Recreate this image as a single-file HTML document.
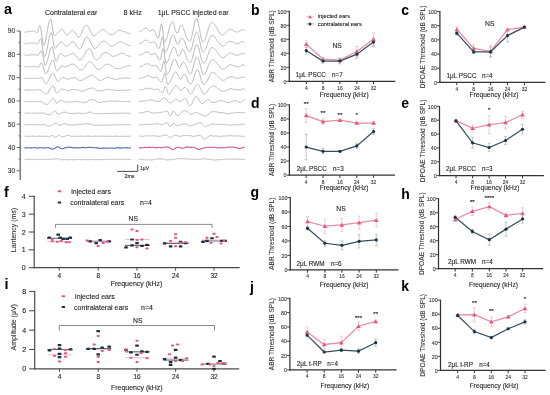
<!DOCTYPE html>
<html><head><meta charset="utf-8"><style>
html,body{margin:0;padding:0;background:#fff;width:550px;height:395px;overflow:hidden}
svg{display:block;filter:blur(0.3px);font-family:"Liberation Sans",sans-serif}
</style></head><body>
<svg width="550" height="395" viewBox="0 0 550 395">
<rect width="550" height="395" fill="#fff"/>
<text x="4.00" y="13.80" font-size="14.3" text-anchor="start" font-weight="bold" fill="#000">a</text>
<text x="251.00" y="14.50" font-size="14" text-anchor="start" font-weight="bold" fill="#000">b</text>
<text x="401.30" y="14.50" font-size="14" text-anchor="start" font-weight="bold" fill="#000">c</text>
<text x="251.00" y="107.80" font-size="14" text-anchor="start" font-weight="bold" fill="#000">d</text>
<text x="401.30" y="108.00" font-size="14" text-anchor="start" font-weight="bold" fill="#000">e</text>
<text x="4.00" y="196.50" font-size="14.3" text-anchor="start" font-weight="bold" fill="#000">f</text>
<text x="250.60" y="196.50" font-size="14" text-anchor="start" font-weight="bold" fill="#000">g</text>
<text x="401.30" y="199.00" font-size="14" text-anchor="start" font-weight="bold" fill="#000">h</text>
<text x="4.40" y="288.70" font-size="14.5" text-anchor="start" font-weight="bold" fill="#000">i</text>
<text x="250.00" y="291.50" font-size="14" text-anchor="start" font-weight="bold" fill="#000">j</text>
<text x="401.30" y="291.20" font-size="14" text-anchor="start" font-weight="bold" fill="#000">k</text>
<line x1="289.30" y1="10.80" x2="289.30" y2="81.90" stroke="#333" stroke-width="1.25"/>
<line x1="288.70" y1="81.30" x2="395.30" y2="81.30" stroke="#333" stroke-width="1.25"/>
<line x1="286.30" y1="81.30" x2="289.30" y2="81.30" stroke="#333" stroke-width="0.9"/>
<text x="286.40" y="83.50" font-size="5.3" text-anchor="end" font-weight="normal" fill="#333" stroke="#333" stroke-width="0.1">0</text>
<line x1="286.30" y1="67.30" x2="289.30" y2="67.30" stroke="#333" stroke-width="0.9"/>
<text x="286.40" y="69.50" font-size="5.3" text-anchor="end" font-weight="normal" fill="#333" stroke="#333" stroke-width="0.1">20</text>
<line x1="286.30" y1="53.30" x2="289.30" y2="53.30" stroke="#333" stroke-width="0.9"/>
<text x="286.40" y="55.50" font-size="5.3" text-anchor="end" font-weight="normal" fill="#333" stroke="#333" stroke-width="0.1">40</text>
<line x1="286.30" y1="39.30" x2="289.30" y2="39.30" stroke="#333" stroke-width="0.9"/>
<text x="286.40" y="41.50" font-size="5.3" text-anchor="end" font-weight="normal" fill="#333" stroke="#333" stroke-width="0.1">60</text>
<line x1="286.30" y1="25.30" x2="289.30" y2="25.30" stroke="#333" stroke-width="0.9"/>
<text x="286.40" y="27.50" font-size="5.3" text-anchor="end" font-weight="normal" fill="#333" stroke="#333" stroke-width="0.1">80</text>
<line x1="286.30" y1="11.30" x2="289.30" y2="11.30" stroke="#333" stroke-width="0.9"/>
<text x="286.40" y="13.50" font-size="5.3" text-anchor="end" font-weight="normal" fill="#333" stroke="#333" stroke-width="0.1">100</text>
<line x1="306.30" y1="81.30" x2="306.30" y2="84.10" stroke="#333" stroke-width="1.0"/>
<text x="306.30" y="89.80" font-size="4.9" text-anchor="middle" font-weight="normal" fill="#333" stroke="#333" stroke-width="0.1">4</text>
<line x1="323.00" y1="81.30" x2="323.00" y2="84.10" stroke="#333" stroke-width="1.0"/>
<text x="323.00" y="89.80" font-size="4.9" text-anchor="middle" font-weight="normal" fill="#333" stroke="#333" stroke-width="0.1">8</text>
<line x1="339.90" y1="81.30" x2="339.90" y2="84.10" stroke="#333" stroke-width="1.0"/>
<text x="339.90" y="89.80" font-size="4.9" text-anchor="middle" font-weight="normal" fill="#333" stroke="#333" stroke-width="0.1">16</text>
<line x1="356.90" y1="81.30" x2="356.90" y2="84.10" stroke="#333" stroke-width="1.0"/>
<text x="356.90" y="89.80" font-size="4.9" text-anchor="middle" font-weight="normal" fill="#333" stroke="#333" stroke-width="0.1">24</text>
<line x1="373.50" y1="81.30" x2="373.50" y2="84.10" stroke="#333" stroke-width="1.0"/>
<text x="373.50" y="89.80" font-size="4.9" text-anchor="middle" font-weight="normal" fill="#333" stroke="#333" stroke-width="0.1">32</text>
<text x="0.00" y="0.00" font-size="6.5" text-anchor="middle" font-weight="normal" fill="#333" stroke="#333" stroke-width="0.1" transform="translate(274.00,46.30) rotate(-90)">ABR Threshold (dB SPL)</text>
<line x1="306.30" y1="40.70" x2="306.30" y2="47.70" stroke="#efb3c1" stroke-width="0.7"/>
<line x1="304.80" y1="40.70" x2="307.80" y2="40.70" stroke="#efb3c1" stroke-width="0.7"/>
<line x1="304.80" y1="47.70" x2="307.80" y2="47.70" stroke="#efb3c1" stroke-width="0.7"/>
<line x1="323.00" y1="57.01" x2="323.00" y2="61.21" stroke="#efb3c1" stroke-width="0.7"/>
<line x1="321.50" y1="57.01" x2="324.50" y2="57.01" stroke="#efb3c1" stroke-width="0.7"/>
<line x1="321.50" y1="61.21" x2="324.50" y2="61.21" stroke="#efb3c1" stroke-width="0.7"/>
<line x1="339.90" y1="58.06" x2="339.90" y2="62.26" stroke="#efb3c1" stroke-width="0.7"/>
<line x1="338.40" y1="58.06" x2="341.40" y2="58.06" stroke="#efb3c1" stroke-width="0.7"/>
<line x1="338.40" y1="62.26" x2="341.40" y2="62.26" stroke="#efb3c1" stroke-width="0.7"/>
<line x1="356.90" y1="46.58" x2="356.90" y2="56.38" stroke="#efb3c1" stroke-width="0.7"/>
<line x1="355.40" y1="46.58" x2="358.40" y2="46.58" stroke="#efb3c1" stroke-width="0.7"/>
<line x1="355.40" y1="56.38" x2="358.40" y2="56.38" stroke="#efb3c1" stroke-width="0.7"/>
<line x1="373.50" y1="33.00" x2="373.50" y2="45.60" stroke="#efb3c1" stroke-width="0.7"/>
<line x1="372.00" y1="33.00" x2="375.00" y2="33.00" stroke="#efb3c1" stroke-width="0.7"/>
<line x1="372.00" y1="45.60" x2="375.00" y2="45.60" stroke="#efb3c1" stroke-width="0.7"/>
<path d="M306.30,44.20 L323.00,59.11 L339.90,60.16 L356.90,51.48 L373.50,39.30" stroke="#ea8ba4" stroke-width="1.25" fill="none"/>
<path d="M306.30,42.00L308.61,45.96L303.99,45.96Z" fill="#e55879"/>
<path d="M323.00,56.91L325.31,60.87L320.69,60.87Z" fill="#e55879"/>
<path d="M339.90,57.96L342.21,61.92L337.59,61.92Z" fill="#e55879"/>
<path d="M356.90,49.28L359.21,53.24L354.59,53.24Z" fill="#e55879"/>
<path d="M373.50,37.10L375.81,41.06L371.19,41.06Z" fill="#e55879"/>
<line x1="306.30" y1="47.21" x2="306.30" y2="54.21" stroke="#a3b2ba" stroke-width="0.7"/>
<line x1="304.80" y1="47.21" x2="307.80" y2="47.21" stroke="#a3b2ba" stroke-width="0.7"/>
<line x1="304.80" y1="54.21" x2="307.80" y2="54.21" stroke="#a3b2ba" stroke-width="0.7"/>
<line x1="323.00" y1="58.90" x2="323.00" y2="63.10" stroke="#a3b2ba" stroke-width="0.7"/>
<line x1="321.50" y1="58.90" x2="324.50" y2="58.90" stroke="#a3b2ba" stroke-width="0.7"/>
<line x1="321.50" y1="63.10" x2="324.50" y2="63.10" stroke="#a3b2ba" stroke-width="0.7"/>
<line x1="339.90" y1="58.20" x2="339.90" y2="63.80" stroke="#a3b2ba" stroke-width="0.7"/>
<line x1="338.40" y1="58.20" x2="341.40" y2="58.20" stroke="#a3b2ba" stroke-width="0.7"/>
<line x1="338.40" y1="63.80" x2="341.40" y2="63.80" stroke="#a3b2ba" stroke-width="0.7"/>
<line x1="356.90" y1="49.94" x2="356.90" y2="58.34" stroke="#a3b2ba" stroke-width="0.7"/>
<line x1="355.40" y1="49.94" x2="358.40" y2="49.94" stroke="#a3b2ba" stroke-width="0.7"/>
<line x1="355.40" y1="58.34" x2="358.40" y2="58.34" stroke="#a3b2ba" stroke-width="0.7"/>
<line x1="373.50" y1="37.90" x2="373.50" y2="46.30" stroke="#a3b2ba" stroke-width="0.7"/>
<line x1="372.00" y1="37.90" x2="375.00" y2="37.90" stroke="#a3b2ba" stroke-width="0.7"/>
<line x1="372.00" y1="46.30" x2="375.00" y2="46.30" stroke="#a3b2ba" stroke-width="0.7"/>
<path d="M306.30,50.71 L323.00,61.00 L339.90,61.00 L356.90,54.14 L373.50,42.10" stroke="#34505e" stroke-width="1.25" fill="none"/>
<circle cx="306.30" cy="50.71" r="1.6" fill="#1d3240"/>
<circle cx="323.00" cy="61.00" r="1.6" fill="#1d3240"/>
<circle cx="339.90" cy="61.00" r="1.6" fill="#1d3240"/>
<circle cx="356.90" cy="54.14" r="1.6" fill="#1d3240"/>
<circle cx="373.50" cy="42.10" r="1.6" fill="#1d3240"/>
<text x="295.80" y="77.30" font-size="6.4" text-anchor="start" font-weight="normal" fill="#222" stroke="#222" stroke-width="0.1">1μL PSCC</text>
<text x="332.00" y="77.30" font-size="6.3" text-anchor="start" font-weight="normal" fill="#222" stroke="#222" stroke-width="0.1">n=7</text>
<text x="332.40" y="48.00" font-size="6.8" text-anchor="start" font-weight="normal" fill="#222" stroke="#222" stroke-width="0.1">NS</text>
<text x="344.20" y="96.60" font-size="6.6" text-anchor="middle" font-weight="normal" fill="#222" stroke="#222" stroke-width="0.1" textLength="48.8" lengthAdjust="spacingAndGlyphs">Frequency (kHz)</text>
<line x1="306.00" y1="16.70" x2="314.00" y2="16.70" stroke="#efb3c1" stroke-width="0.9"/>
<path d="M310.00,14.90L311.89,18.14L308.11,18.14Z" fill="#e55879"/>
<line x1="306.00" y1="23.90" x2="314.00" y2="23.90" stroke="#a3b2ba" stroke-width="0.9"/>
<circle cx="310.00" cy="23.90" r="1.5" fill="#1d3240"/>
<text x="317.80" y="18.20" font-size="5.7" text-anchor="start" font-weight="normal" fill="#222" stroke="#222" stroke-width="0.1">injected ears</text>
<text x="317.80" y="25.80" font-size="5.7" text-anchor="start" font-weight="normal" fill="#222" stroke="#222" stroke-width="0.1">contralateral ears</text>
<line x1="439.90" y1="11.00" x2="439.90" y2="83.00" stroke="#333" stroke-width="1.25"/>
<line x1="439.30" y1="82.40" x2="545.30" y2="82.40" stroke="#333" stroke-width="1.25"/>
<line x1="436.90" y1="82.40" x2="439.90" y2="82.40" stroke="#333" stroke-width="0.9"/>
<text x="437.00" y="84.60" font-size="5.3" text-anchor="end" font-weight="normal" fill="#333" stroke="#333" stroke-width="0.1">0</text>
<line x1="436.90" y1="68.22" x2="439.90" y2="68.22" stroke="#333" stroke-width="0.9"/>
<text x="437.00" y="70.42" font-size="5.3" text-anchor="end" font-weight="normal" fill="#333" stroke="#333" stroke-width="0.1">20</text>
<line x1="436.90" y1="54.04" x2="439.90" y2="54.04" stroke="#333" stroke-width="0.9"/>
<text x="437.00" y="56.24" font-size="5.3" text-anchor="end" font-weight="normal" fill="#333" stroke="#333" stroke-width="0.1">40</text>
<line x1="436.90" y1="39.86" x2="439.90" y2="39.86" stroke="#333" stroke-width="0.9"/>
<text x="437.00" y="42.06" font-size="5.3" text-anchor="end" font-weight="normal" fill="#333" stroke="#333" stroke-width="0.1">60</text>
<line x1="436.90" y1="25.68" x2="439.90" y2="25.68" stroke="#333" stroke-width="0.9"/>
<text x="437.00" y="27.88" font-size="5.3" text-anchor="end" font-weight="normal" fill="#333" stroke="#333" stroke-width="0.1">80</text>
<line x1="436.90" y1="11.50" x2="439.90" y2="11.50" stroke="#333" stroke-width="0.9"/>
<text x="437.00" y="13.70" font-size="5.3" text-anchor="end" font-weight="normal" fill="#333" stroke="#333" stroke-width="0.1">100</text>
<line x1="456.80" y1="82.40" x2="456.80" y2="85.20" stroke="#333" stroke-width="1.0"/>
<text x="456.80" y="90.90" font-size="4.9" text-anchor="middle" font-weight="normal" fill="#333" stroke="#333" stroke-width="0.1">4</text>
<line x1="473.70" y1="82.40" x2="473.70" y2="85.20" stroke="#333" stroke-width="1.0"/>
<text x="473.70" y="90.90" font-size="4.9" text-anchor="middle" font-weight="normal" fill="#333" stroke="#333" stroke-width="0.1">8</text>
<line x1="490.60" y1="82.40" x2="490.60" y2="85.20" stroke="#333" stroke-width="1.0"/>
<text x="490.60" y="90.90" font-size="4.9" text-anchor="middle" font-weight="normal" fill="#333" stroke="#333" stroke-width="0.1">16</text>
<line x1="507.50" y1="82.40" x2="507.50" y2="85.20" stroke="#333" stroke-width="1.0"/>
<text x="507.50" y="90.90" font-size="4.9" text-anchor="middle" font-weight="normal" fill="#333" stroke="#333" stroke-width="0.1">24</text>
<line x1="524.40" y1="82.40" x2="524.40" y2="85.20" stroke="#333" stroke-width="1.0"/>
<text x="524.40" y="90.90" font-size="4.9" text-anchor="middle" font-weight="normal" fill="#333" stroke="#333" stroke-width="0.1">32</text>
<text x="0.00" y="0.00" font-size="6.6" text-anchor="middle" font-weight="normal" fill="#333" stroke="#333" stroke-width="0.1" transform="translate(424.60,46.95) rotate(-90)">DPOAE Threshold (dB SPL)</text>
<line x1="456.80" y1="26.60" x2="456.80" y2="32.27" stroke="#efb3c1" stroke-width="0.7"/>
<line x1="455.30" y1="26.60" x2="458.30" y2="26.60" stroke="#efb3c1" stroke-width="0.7"/>
<line x1="455.30" y1="32.27" x2="458.30" y2="32.27" stroke="#efb3c1" stroke-width="0.7"/>
<line x1="473.70" y1="44.82" x2="473.70" y2="51.91" stroke="#efb3c1" stroke-width="0.7"/>
<line x1="472.20" y1="44.82" x2="475.20" y2="44.82" stroke="#efb3c1" stroke-width="0.7"/>
<line x1="472.20" y1="51.91" x2="475.20" y2="51.91" stroke="#efb3c1" stroke-width="0.7"/>
<line x1="490.60" y1="45.67" x2="490.60" y2="57.02" stroke="#efb3c1" stroke-width="0.7"/>
<line x1="489.10" y1="45.67" x2="492.10" y2="45.67" stroke="#efb3c1" stroke-width="0.7"/>
<line x1="489.10" y1="57.02" x2="492.10" y2="57.02" stroke="#efb3c1" stroke-width="0.7"/>
<line x1="507.50" y1="28.16" x2="507.50" y2="31.00" stroke="#efb3c1" stroke-width="0.7"/>
<line x1="506.00" y1="28.16" x2="509.00" y2="28.16" stroke="#efb3c1" stroke-width="0.7"/>
<line x1="506.00" y1="31.00" x2="509.00" y2="31.00" stroke="#efb3c1" stroke-width="0.7"/>
<line x1="524.40" y1="26.39" x2="524.40" y2="27.81" stroke="#efb3c1" stroke-width="0.7"/>
<line x1="522.90" y1="26.39" x2="525.90" y2="26.39" stroke="#efb3c1" stroke-width="0.7"/>
<line x1="522.90" y1="27.81" x2="525.90" y2="27.81" stroke="#efb3c1" stroke-width="0.7"/>
<path d="M456.80,29.44 L473.70,48.37 L490.60,51.35 L507.50,29.58 L524.40,27.10" stroke="#ea8ba4" stroke-width="1.25" fill="none"/>
<path d="M456.80,27.24L459.11,31.20L454.49,31.20Z" fill="#e55879"/>
<path d="M473.70,46.17L476.01,50.13L471.39,50.13Z" fill="#e55879"/>
<path d="M490.60,49.15L492.91,53.11L488.29,53.11Z" fill="#e55879"/>
<path d="M507.50,27.38L509.81,31.34L505.19,31.34Z" fill="#e55879"/>
<path d="M524.40,24.90L526.71,28.86L522.09,28.86Z" fill="#e55879"/>
<line x1="456.80" y1="31.07" x2="456.80" y2="35.32" stroke="#a3b2ba" stroke-width="0.7"/>
<line x1="455.30" y1="31.07" x2="458.30" y2="31.07" stroke="#a3b2ba" stroke-width="0.7"/>
<line x1="455.30" y1="35.32" x2="458.30" y2="35.32" stroke="#a3b2ba" stroke-width="0.7"/>
<line x1="473.70" y1="50.50" x2="473.70" y2="53.33" stroke="#a3b2ba" stroke-width="0.7"/>
<line x1="472.20" y1="50.50" x2="475.20" y2="50.50" stroke="#a3b2ba" stroke-width="0.7"/>
<line x1="472.20" y1="53.33" x2="475.20" y2="53.33" stroke="#a3b2ba" stroke-width="0.7"/>
<line x1="490.60" y1="46.95" x2="490.60" y2="56.88" stroke="#a3b2ba" stroke-width="0.7"/>
<line x1="489.10" y1="46.95" x2="492.10" y2="46.95" stroke="#a3b2ba" stroke-width="0.7"/>
<line x1="489.10" y1="56.88" x2="492.10" y2="56.88" stroke="#a3b2ba" stroke-width="0.7"/>
<line x1="507.50" y1="29.23" x2="507.50" y2="41.99" stroke="#a3b2ba" stroke-width="0.7"/>
<line x1="506.00" y1="29.23" x2="509.00" y2="29.23" stroke="#a3b2ba" stroke-width="0.7"/>
<line x1="506.00" y1="41.99" x2="509.00" y2="41.99" stroke="#a3b2ba" stroke-width="0.7"/>
<line x1="524.40" y1="26.39" x2="524.40" y2="27.81" stroke="#a3b2ba" stroke-width="0.7"/>
<line x1="522.90" y1="26.39" x2="525.90" y2="26.39" stroke="#a3b2ba" stroke-width="0.7"/>
<line x1="522.90" y1="27.81" x2="525.90" y2="27.81" stroke="#a3b2ba" stroke-width="0.7"/>
<path d="M456.80,33.20 L473.70,51.91 L490.60,51.91 L507.50,35.61 L524.40,27.10" stroke="#34505e" stroke-width="1.25" fill="none"/>
<circle cx="456.80" cy="33.20" r="1.6" fill="#1d3240"/>
<circle cx="473.70" cy="51.91" r="1.6" fill="#1d3240"/>
<circle cx="490.60" cy="51.91" r="1.6" fill="#1d3240"/>
<circle cx="507.50" cy="35.61" r="1.6" fill="#1d3240"/>
<circle cx="524.40" cy="27.10" r="1.6" fill="#1d3240"/>
<text x="446.50" y="77.50" font-size="6.4" text-anchor="start" font-weight="normal" fill="#222" stroke="#222" stroke-width="0.1">1μL PSCC</text>
<text x="481.90" y="77.50" font-size="6.3" text-anchor="start" font-weight="normal" fill="#222" stroke="#222" stroke-width="0.1">n=4</text>
<text x="485.00" y="26.40" font-size="6.8" text-anchor="start" font-weight="normal" fill="#222" stroke="#222" stroke-width="0.1">NS</text>
<text x="494.00" y="96.60" font-size="6.6" text-anchor="middle" font-weight="normal" fill="#222" stroke="#222" stroke-width="0.1" textLength="48.8" lengthAdjust="spacingAndGlyphs">Frequency (kHz)</text>
<line x1="289.40" y1="104.40" x2="289.40" y2="175.70" stroke="#333" stroke-width="1.25"/>
<line x1="288.80" y1="175.10" x2="395.00" y2="175.10" stroke="#333" stroke-width="1.25"/>
<line x1="286.40" y1="175.10" x2="289.40" y2="175.10" stroke="#333" stroke-width="0.9"/>
<text x="286.50" y="177.30" font-size="5.3" text-anchor="end" font-weight="normal" fill="#333" stroke="#333" stroke-width="0.1">0</text>
<line x1="286.40" y1="161.06" x2="289.40" y2="161.06" stroke="#333" stroke-width="0.9"/>
<text x="286.50" y="163.26" font-size="5.3" text-anchor="end" font-weight="normal" fill="#333" stroke="#333" stroke-width="0.1">20</text>
<line x1="286.40" y1="147.02" x2="289.40" y2="147.02" stroke="#333" stroke-width="0.9"/>
<text x="286.50" y="149.22" font-size="5.3" text-anchor="end" font-weight="normal" fill="#333" stroke="#333" stroke-width="0.1">40</text>
<line x1="286.40" y1="132.98" x2="289.40" y2="132.98" stroke="#333" stroke-width="0.9"/>
<text x="286.50" y="135.18" font-size="5.3" text-anchor="end" font-weight="normal" fill="#333" stroke="#333" stroke-width="0.1">60</text>
<line x1="286.40" y1="118.94" x2="289.40" y2="118.94" stroke="#333" stroke-width="0.9"/>
<text x="286.50" y="121.14" font-size="5.3" text-anchor="end" font-weight="normal" fill="#333" stroke="#333" stroke-width="0.1">80</text>
<line x1="286.40" y1="104.90" x2="289.40" y2="104.90" stroke="#333" stroke-width="0.9"/>
<text x="286.50" y="107.10" font-size="5.3" text-anchor="end" font-weight="normal" fill="#333" stroke="#333" stroke-width="0.1">100</text>
<line x1="306.20" y1="175.10" x2="306.20" y2="177.90" stroke="#333" stroke-width="1.0"/>
<text x="306.20" y="183.60" font-size="4.9" text-anchor="middle" font-weight="normal" fill="#333" stroke="#333" stroke-width="0.1">4</text>
<line x1="323.00" y1="175.10" x2="323.00" y2="177.90" stroke="#333" stroke-width="1.0"/>
<text x="323.00" y="183.60" font-size="4.9" text-anchor="middle" font-weight="normal" fill="#333" stroke="#333" stroke-width="0.1">8</text>
<line x1="339.90" y1="175.10" x2="339.90" y2="177.90" stroke="#333" stroke-width="1.0"/>
<text x="339.90" y="183.60" font-size="4.9" text-anchor="middle" font-weight="normal" fill="#333" stroke="#333" stroke-width="0.1">16</text>
<line x1="356.80" y1="175.10" x2="356.80" y2="177.90" stroke="#333" stroke-width="1.0"/>
<text x="356.80" y="183.60" font-size="4.9" text-anchor="middle" font-weight="normal" fill="#333" stroke="#333" stroke-width="0.1">24</text>
<line x1="373.60" y1="175.10" x2="373.60" y2="177.90" stroke="#333" stroke-width="1.0"/>
<text x="373.60" y="183.60" font-size="4.9" text-anchor="middle" font-weight="normal" fill="#333" stroke="#333" stroke-width="0.1">32</text>
<text x="0.00" y="0.00" font-size="6.5" text-anchor="middle" font-weight="normal" fill="#333" stroke="#333" stroke-width="0.1" transform="translate(274.00,140.00) rotate(-90)">ABR Threshold (dB SPL)</text>
<line x1="306.20" y1="108.55" x2="306.20" y2="122.59" stroke="#efb3c1" stroke-width="0.7"/>
<line x1="304.70" y1="108.55" x2="307.70" y2="108.55" stroke="#efb3c1" stroke-width="0.7"/>
<line x1="304.70" y1="122.59" x2="307.70" y2="122.59" stroke="#efb3c1" stroke-width="0.7"/>
<line x1="323.00" y1="118.80" x2="323.00" y2="124.42" stroke="#efb3c1" stroke-width="0.7"/>
<line x1="321.50" y1="118.80" x2="324.50" y2="118.80" stroke="#efb3c1" stroke-width="0.7"/>
<line x1="321.50" y1="124.42" x2="324.50" y2="124.42" stroke="#efb3c1" stroke-width="0.7"/>
<line x1="339.90" y1="119.50" x2="339.90" y2="120.91" stroke="#efb3c1" stroke-width="0.7"/>
<line x1="338.40" y1="119.50" x2="341.40" y2="119.50" stroke="#efb3c1" stroke-width="0.7"/>
<line x1="338.40" y1="120.91" x2="341.40" y2="120.91" stroke="#efb3c1" stroke-width="0.7"/>
<line x1="356.80" y1="122.31" x2="356.80" y2="123.71" stroke="#efb3c1" stroke-width="0.7"/>
<line x1="355.30" y1="122.31" x2="358.30" y2="122.31" stroke="#efb3c1" stroke-width="0.7"/>
<line x1="355.30" y1="123.71" x2="358.30" y2="123.71" stroke="#efb3c1" stroke-width="0.7"/>
<line x1="373.60" y1="121.61" x2="373.60" y2="124.42" stroke="#efb3c1" stroke-width="0.7"/>
<line x1="372.10" y1="121.61" x2="375.10" y2="121.61" stroke="#efb3c1" stroke-width="0.7"/>
<line x1="372.10" y1="124.42" x2="375.10" y2="124.42" stroke="#efb3c1" stroke-width="0.7"/>
<path d="M306.20,115.57 L323.00,121.61 L339.90,120.20 L356.80,123.01 L373.60,123.01" stroke="#ea8ba4" stroke-width="1.25" fill="none"/>
<path d="M306.20,113.37L308.51,117.33L303.89,117.33Z" fill="#e55879"/>
<path d="M323.00,119.41L325.31,123.37L320.69,123.37Z" fill="#e55879"/>
<path d="M339.90,118.00L342.21,121.96L337.59,121.96Z" fill="#e55879"/>
<path d="M356.80,120.81L359.11,124.77L354.49,124.77Z" fill="#e55879"/>
<path d="M373.60,120.81L375.91,124.77L371.29,124.77Z" fill="#e55879"/>
<line x1="306.20" y1="134.38" x2="306.20" y2="159.66" stroke="#a3b2ba" stroke-width="0.7"/>
<line x1="304.70" y1="134.38" x2="307.70" y2="134.38" stroke="#a3b2ba" stroke-width="0.7"/>
<line x1="304.70" y1="159.66" x2="307.70" y2="159.66" stroke="#a3b2ba" stroke-width="0.7"/>
<line x1="323.00" y1="148.49" x2="323.00" y2="154.11" stroke="#a3b2ba" stroke-width="0.7"/>
<line x1="321.50" y1="148.49" x2="324.50" y2="148.49" stroke="#a3b2ba" stroke-width="0.7"/>
<line x1="321.50" y1="154.11" x2="324.50" y2="154.11" stroke="#a3b2ba" stroke-width="0.7"/>
<line x1="339.90" y1="150.60" x2="339.90" y2="152.00" stroke="#a3b2ba" stroke-width="0.7"/>
<line x1="338.40" y1="150.60" x2="341.40" y2="150.60" stroke="#a3b2ba" stroke-width="0.7"/>
<line x1="338.40" y1="152.00" x2="341.40" y2="152.00" stroke="#a3b2ba" stroke-width="0.7"/>
<line x1="356.80" y1="143.09" x2="356.80" y2="148.70" stroke="#a3b2ba" stroke-width="0.7"/>
<line x1="355.30" y1="143.09" x2="358.30" y2="143.09" stroke="#a3b2ba" stroke-width="0.7"/>
<line x1="355.30" y1="148.70" x2="358.30" y2="148.70" stroke="#a3b2ba" stroke-width="0.7"/>
<line x1="373.60" y1="128.77" x2="373.60" y2="134.38" stroke="#a3b2ba" stroke-width="0.7"/>
<line x1="372.10" y1="128.77" x2="375.10" y2="128.77" stroke="#a3b2ba" stroke-width="0.7"/>
<line x1="372.10" y1="134.38" x2="375.10" y2="134.38" stroke="#a3b2ba" stroke-width="0.7"/>
<path d="M306.20,147.02 L323.00,151.30 L339.90,151.30 L356.80,145.90 L373.60,131.58" stroke="#34505e" stroke-width="1.25" fill="none"/>
<circle cx="306.20" cy="147.02" r="1.6" fill="#1d3240"/>
<circle cx="323.00" cy="151.30" r="1.6" fill="#1d3240"/>
<circle cx="339.90" cy="151.30" r="1.6" fill="#1d3240"/>
<circle cx="356.80" cy="145.90" r="1.6" fill="#1d3240"/>
<circle cx="373.60" cy="131.58" r="1.6" fill="#1d3240"/>
<text x="296.70" y="171.10" font-size="6.4" text-anchor="start" font-weight="normal" fill="#222" stroke="#222" stroke-width="0.1">2μL PSCC</text>
<text x="333.10" y="171.10" font-size="6.3" text-anchor="start" font-weight="normal" fill="#222" stroke="#222" stroke-width="0.1">n=3</text>
<text x="306.20" y="105.90" font-size="6.2" text-anchor="middle" font-weight="normal" fill="#111" stroke="#111" stroke-width="0.1">**</text>
<text x="323.00" y="114.70" font-size="6.2" text-anchor="middle" font-weight="normal" fill="#111" stroke="#111" stroke-width="0.1">**</text>
<text x="339.90" y="116.60" font-size="6.2" text-anchor="middle" font-weight="normal" fill="#111" stroke="#111" stroke-width="0.1">**</text>
<text x="356.80" y="117.40" font-size="6.2" text-anchor="middle" font-weight="normal" fill="#111" stroke="#111" stroke-width="0.1">*</text>
<text x="344.10" y="190.30" font-size="6.6" text-anchor="middle" font-weight="normal" fill="#222" stroke="#222" stroke-width="0.1" textLength="48.8" lengthAdjust="spacingAndGlyphs">Frequency (kHz)</text>
<line x1="439.50" y1="105.90" x2="439.50" y2="176.20" stroke="#333" stroke-width="1.25"/>
<line x1="438.90" y1="175.60" x2="543.90" y2="175.60" stroke="#333" stroke-width="1.25"/>
<line x1="436.50" y1="175.60" x2="439.50" y2="175.60" stroke="#333" stroke-width="0.9"/>
<text x="436.60" y="177.80" font-size="5.3" text-anchor="end" font-weight="normal" fill="#333" stroke="#333" stroke-width="0.1">0</text>
<line x1="436.50" y1="161.76" x2="439.50" y2="161.76" stroke="#333" stroke-width="0.9"/>
<text x="436.60" y="163.96" font-size="5.3" text-anchor="end" font-weight="normal" fill="#333" stroke="#333" stroke-width="0.1">20</text>
<line x1="436.50" y1="147.92" x2="439.50" y2="147.92" stroke="#333" stroke-width="0.9"/>
<text x="436.60" y="150.12" font-size="5.3" text-anchor="end" font-weight="normal" fill="#333" stroke="#333" stroke-width="0.1">40</text>
<line x1="436.50" y1="134.08" x2="439.50" y2="134.08" stroke="#333" stroke-width="0.9"/>
<text x="436.60" y="136.28" font-size="5.3" text-anchor="end" font-weight="normal" fill="#333" stroke="#333" stroke-width="0.1">60</text>
<line x1="436.50" y1="120.24" x2="439.50" y2="120.24" stroke="#333" stroke-width="0.9"/>
<text x="436.60" y="122.44" font-size="5.3" text-anchor="end" font-weight="normal" fill="#333" stroke="#333" stroke-width="0.1">80</text>
<line x1="436.50" y1="106.40" x2="439.50" y2="106.40" stroke="#333" stroke-width="0.9"/>
<text x="436.60" y="108.60" font-size="5.3" text-anchor="end" font-weight="normal" fill="#333" stroke="#333" stroke-width="0.1">100</text>
<line x1="456.00" y1="175.60" x2="456.00" y2="178.40" stroke="#333" stroke-width="1.0"/>
<text x="456.00" y="184.10" font-size="4.9" text-anchor="middle" font-weight="normal" fill="#333" stroke="#333" stroke-width="0.1">4</text>
<line x1="472.60" y1="175.60" x2="472.60" y2="178.40" stroke="#333" stroke-width="1.0"/>
<text x="472.60" y="184.10" font-size="4.9" text-anchor="middle" font-weight="normal" fill="#333" stroke="#333" stroke-width="0.1">8</text>
<line x1="489.10" y1="175.60" x2="489.10" y2="178.40" stroke="#333" stroke-width="1.0"/>
<text x="489.10" y="184.10" font-size="4.9" text-anchor="middle" font-weight="normal" fill="#333" stroke="#333" stroke-width="0.1">16</text>
<line x1="505.50" y1="175.60" x2="505.50" y2="178.40" stroke="#333" stroke-width="1.0"/>
<text x="505.50" y="184.10" font-size="4.9" text-anchor="middle" font-weight="normal" fill="#333" stroke="#333" stroke-width="0.1">24</text>
<line x1="522.50" y1="175.60" x2="522.50" y2="178.40" stroke="#333" stroke-width="1.0"/>
<text x="522.50" y="184.10" font-size="4.9" text-anchor="middle" font-weight="normal" fill="#333" stroke="#333" stroke-width="0.1">32</text>
<text x="0.00" y="0.00" font-size="6.6" text-anchor="middle" font-weight="normal" fill="#333" stroke="#333" stroke-width="0.1" transform="translate(424.60,141.00) rotate(-90)">DPOAE Threshold (dB SPL)</text>
<line x1="456.00" y1="119.89" x2="456.00" y2="121.28" stroke="#efb3c1" stroke-width="0.7"/>
<line x1="454.50" y1="119.89" x2="457.50" y2="119.89" stroke="#efb3c1" stroke-width="0.7"/>
<line x1="454.50" y1="121.28" x2="457.50" y2="121.28" stroke="#efb3c1" stroke-width="0.7"/>
<line x1="472.60" y1="124.88" x2="472.60" y2="131.80" stroke="#efb3c1" stroke-width="0.7"/>
<line x1="471.10" y1="124.88" x2="474.10" y2="124.88" stroke="#efb3c1" stroke-width="0.7"/>
<line x1="471.10" y1="131.80" x2="474.10" y2="131.80" stroke="#efb3c1" stroke-width="0.7"/>
<line x1="489.10" y1="115.67" x2="489.10" y2="133.66" stroke="#efb3c1" stroke-width="0.7"/>
<line x1="487.60" y1="115.67" x2="490.60" y2="115.67" stroke="#efb3c1" stroke-width="0.7"/>
<line x1="487.60" y1="133.66" x2="490.60" y2="133.66" stroke="#efb3c1" stroke-width="0.7"/>
<line x1="505.50" y1="116.30" x2="505.50" y2="128.75" stroke="#efb3c1" stroke-width="0.7"/>
<line x1="504.00" y1="116.30" x2="507.00" y2="116.30" stroke="#efb3c1" stroke-width="0.7"/>
<line x1="504.00" y1="128.75" x2="507.00" y2="128.75" stroke="#efb3c1" stroke-width="0.7"/>
<line x1="522.50" y1="111.24" x2="522.50" y2="118.16" stroke="#efb3c1" stroke-width="0.7"/>
<line x1="521.00" y1="111.24" x2="524.00" y2="111.24" stroke="#efb3c1" stroke-width="0.7"/>
<line x1="521.00" y1="118.16" x2="524.00" y2="118.16" stroke="#efb3c1" stroke-width="0.7"/>
<path d="M456.00,120.59 L472.60,128.34 L489.10,124.67 L505.50,122.52 L522.50,114.70" stroke="#ea8ba4" stroke-width="1.25" fill="none"/>
<path d="M456.00,118.39L458.31,122.35L453.69,122.35Z" fill="#e55879"/>
<path d="M472.60,126.14L474.91,130.10L470.29,130.10Z" fill="#e55879"/>
<path d="M489.10,122.47L491.41,126.43L486.79,126.43Z" fill="#e55879"/>
<path d="M505.50,120.32L507.81,124.28L503.19,124.28Z" fill="#e55879"/>
<path d="M522.50,112.50L524.81,116.46L520.19,116.46Z" fill="#e55879"/>
<line x1="456.00" y1="120.24" x2="456.00" y2="121.62" stroke="#a3b2ba" stroke-width="0.7"/>
<line x1="454.50" y1="120.24" x2="457.50" y2="120.24" stroke="#a3b2ba" stroke-width="0.7"/>
<line x1="454.50" y1="121.62" x2="457.50" y2="121.62" stroke="#a3b2ba" stroke-width="0.7"/>
<line x1="472.60" y1="137.26" x2="472.60" y2="148.34" stroke="#a3b2ba" stroke-width="0.7"/>
<line x1="471.10" y1="137.26" x2="474.10" y2="137.26" stroke="#a3b2ba" stroke-width="0.7"/>
<line x1="471.10" y1="148.34" x2="474.10" y2="148.34" stroke="#a3b2ba" stroke-width="0.7"/>
<line x1="489.10" y1="143.35" x2="489.10" y2="151.66" stroke="#a3b2ba" stroke-width="0.7"/>
<line x1="487.60" y1="143.35" x2="490.60" y2="143.35" stroke="#a3b2ba" stroke-width="0.7"/>
<line x1="487.60" y1="151.66" x2="490.60" y2="151.66" stroke="#a3b2ba" stroke-width="0.7"/>
<line x1="505.50" y1="136.36" x2="505.50" y2="144.67" stroke="#a3b2ba" stroke-width="0.7"/>
<line x1="504.00" y1="136.36" x2="507.00" y2="136.36" stroke="#a3b2ba" stroke-width="0.7"/>
<line x1="504.00" y1="144.67" x2="507.00" y2="144.67" stroke="#a3b2ba" stroke-width="0.7"/>
<line x1="522.50" y1="124.39" x2="522.50" y2="134.08" stroke="#a3b2ba" stroke-width="0.7"/>
<line x1="521.00" y1="124.39" x2="524.00" y2="124.39" stroke="#a3b2ba" stroke-width="0.7"/>
<line x1="521.00" y1="134.08" x2="524.00" y2="134.08" stroke="#a3b2ba" stroke-width="0.7"/>
<path d="M456.00,120.93 L472.60,142.80 L489.10,147.50 L505.50,140.52 L522.50,129.24" stroke="#34505e" stroke-width="1.25" fill="none"/>
<circle cx="456.00" cy="120.93" r="1.6" fill="#1d3240"/>
<circle cx="472.60" cy="142.80" r="1.6" fill="#1d3240"/>
<circle cx="489.10" cy="147.50" r="1.6" fill="#1d3240"/>
<circle cx="505.50" cy="140.52" r="1.6" fill="#1d3240"/>
<circle cx="522.50" cy="129.24" r="1.6" fill="#1d3240"/>
<text x="445.90" y="170.70" font-size="6.4" text-anchor="start" font-weight="normal" fill="#222" stroke="#222" stroke-width="0.1">2μL PSCC</text>
<text x="481.90" y="170.70" font-size="6.3" text-anchor="start" font-weight="normal" fill="#222" stroke="#222" stroke-width="0.1">n=3</text>
<text x="489.10" y="112.40" font-size="6.2" text-anchor="middle" font-weight="normal" fill="#111" stroke="#111" stroke-width="0.1">*</text>
<text x="495.00" y="190.30" font-size="6.6" text-anchor="middle" font-weight="normal" fill="#222" stroke="#222" stroke-width="0.1" textLength="48.8" lengthAdjust="spacingAndGlyphs">Frequency (kHz)</text>
<line x1="290.30" y1="197.00" x2="290.30" y2="270.50" stroke="#333" stroke-width="1.25"/>
<line x1="289.70" y1="269.90" x2="398.40" y2="269.90" stroke="#333" stroke-width="1.25"/>
<line x1="287.30" y1="269.90" x2="290.30" y2="269.90" stroke="#333" stroke-width="0.9"/>
<text x="287.40" y="272.10" font-size="5.3" text-anchor="end" font-weight="normal" fill="#333" stroke="#333" stroke-width="0.1">0</text>
<line x1="287.30" y1="255.42" x2="290.30" y2="255.42" stroke="#333" stroke-width="0.9"/>
<text x="287.40" y="257.62" font-size="5.3" text-anchor="end" font-weight="normal" fill="#333" stroke="#333" stroke-width="0.1">20</text>
<line x1="287.30" y1="240.94" x2="290.30" y2="240.94" stroke="#333" stroke-width="0.9"/>
<text x="287.40" y="243.14" font-size="5.3" text-anchor="end" font-weight="normal" fill="#333" stroke="#333" stroke-width="0.1">40</text>
<line x1="287.30" y1="226.46" x2="290.30" y2="226.46" stroke="#333" stroke-width="0.9"/>
<text x="287.40" y="228.66" font-size="5.3" text-anchor="end" font-weight="normal" fill="#333" stroke="#333" stroke-width="0.1">60</text>
<line x1="287.30" y1="211.98" x2="290.30" y2="211.98" stroke="#333" stroke-width="0.9"/>
<text x="287.40" y="214.18" font-size="5.3" text-anchor="end" font-weight="normal" fill="#333" stroke="#333" stroke-width="0.1">80</text>
<line x1="287.30" y1="197.50" x2="290.30" y2="197.50" stroke="#333" stroke-width="0.9"/>
<text x="287.40" y="199.70" font-size="5.3" text-anchor="end" font-weight="normal" fill="#333" stroke="#333" stroke-width="0.1">100</text>
<line x1="307.50" y1="269.90" x2="307.50" y2="272.70" stroke="#333" stroke-width="1.0"/>
<text x="307.50" y="278.40" font-size="4.9" text-anchor="middle" font-weight="normal" fill="#333" stroke="#333" stroke-width="0.1">4</text>
<line x1="324.90" y1="269.90" x2="324.90" y2="272.70" stroke="#333" stroke-width="1.0"/>
<text x="324.90" y="278.40" font-size="4.9" text-anchor="middle" font-weight="normal" fill="#333" stroke="#333" stroke-width="0.1">8</text>
<line x1="341.90" y1="269.90" x2="341.90" y2="272.70" stroke="#333" stroke-width="1.0"/>
<text x="341.90" y="278.40" font-size="4.9" text-anchor="middle" font-weight="normal" fill="#333" stroke="#333" stroke-width="0.1">16</text>
<line x1="359.10" y1="269.90" x2="359.10" y2="272.70" stroke="#333" stroke-width="1.0"/>
<text x="359.10" y="278.40" font-size="4.9" text-anchor="middle" font-weight="normal" fill="#333" stroke="#333" stroke-width="0.1">24</text>
<line x1="376.30" y1="269.90" x2="376.30" y2="272.70" stroke="#333" stroke-width="1.0"/>
<text x="376.30" y="278.40" font-size="4.9" text-anchor="middle" font-weight="normal" fill="#333" stroke="#333" stroke-width="0.1">32</text>
<text x="0.00" y="0.00" font-size="6.5" text-anchor="middle" font-weight="normal" fill="#333" stroke="#333" stroke-width="0.1" transform="translate(274.10,233.70) rotate(-90)">ABR Threshold (dB SPL)</text>
<line x1="307.50" y1="216.47" x2="307.50" y2="226.60" stroke="#efb3c1" stroke-width="0.7"/>
<line x1="306.00" y1="216.47" x2="309.00" y2="216.47" stroke="#efb3c1" stroke-width="0.7"/>
<line x1="306.00" y1="226.60" x2="309.00" y2="226.60" stroke="#efb3c1" stroke-width="0.7"/>
<line x1="324.90" y1="219.00" x2="324.90" y2="233.48" stroke="#efb3c1" stroke-width="0.7"/>
<line x1="323.40" y1="219.00" x2="326.40" y2="219.00" stroke="#efb3c1" stroke-width="0.7"/>
<line x1="323.40" y1="233.48" x2="326.40" y2="233.48" stroke="#efb3c1" stroke-width="0.7"/>
<line x1="341.90" y1="218.35" x2="341.90" y2="231.38" stroke="#efb3c1" stroke-width="0.7"/>
<line x1="340.40" y1="218.35" x2="343.40" y2="218.35" stroke="#efb3c1" stroke-width="0.7"/>
<line x1="340.40" y1="231.38" x2="343.40" y2="231.38" stroke="#efb3c1" stroke-width="0.7"/>
<line x1="359.10" y1="216.11" x2="359.10" y2="229.14" stroke="#efb3c1" stroke-width="0.7"/>
<line x1="357.60" y1="216.11" x2="360.60" y2="216.11" stroke="#efb3c1" stroke-width="0.7"/>
<line x1="357.60" y1="229.14" x2="360.60" y2="229.14" stroke="#efb3c1" stroke-width="0.7"/>
<line x1="376.30" y1="213.72" x2="376.30" y2="226.75" stroke="#efb3c1" stroke-width="0.7"/>
<line x1="374.80" y1="213.72" x2="377.80" y2="213.72" stroke="#efb3c1" stroke-width="0.7"/>
<line x1="374.80" y1="226.75" x2="377.80" y2="226.75" stroke="#efb3c1" stroke-width="0.7"/>
<path d="M307.50,221.54 L324.90,226.24 L341.90,224.87 L359.10,222.62 L376.30,220.23" stroke="#ea8ba4" stroke-width="1.25" fill="none"/>
<path d="M307.50,219.34L309.81,223.30L305.19,223.30Z" fill="#e55879"/>
<path d="M324.90,224.04L327.21,228.00L322.59,228.00Z" fill="#e55879"/>
<path d="M341.90,222.67L344.21,226.63L339.59,226.63Z" fill="#e55879"/>
<path d="M359.10,220.42L361.41,224.38L356.79,224.38Z" fill="#e55879"/>
<path d="M376.30,218.03L378.61,221.99L373.99,221.99Z" fill="#e55879"/>
<line x1="307.50" y1="226.89" x2="307.50" y2="229.79" stroke="#a3b2ba" stroke-width="0.7"/>
<line x1="306.00" y1="226.89" x2="309.00" y2="226.89" stroke="#a3b2ba" stroke-width="0.7"/>
<line x1="306.00" y1="229.79" x2="309.00" y2="229.79" stroke="#a3b2ba" stroke-width="0.7"/>
<line x1="324.90" y1="240.36" x2="324.90" y2="246.15" stroke="#a3b2ba" stroke-width="0.7"/>
<line x1="323.40" y1="240.36" x2="326.40" y2="240.36" stroke="#a3b2ba" stroke-width="0.7"/>
<line x1="323.40" y1="246.15" x2="326.40" y2="246.15" stroke="#a3b2ba" stroke-width="0.7"/>
<line x1="341.90" y1="241.01" x2="341.90" y2="249.70" stroke="#a3b2ba" stroke-width="0.7"/>
<line x1="340.40" y1="241.01" x2="343.40" y2="241.01" stroke="#a3b2ba" stroke-width="0.7"/>
<line x1="340.40" y1="249.70" x2="343.40" y2="249.70" stroke="#a3b2ba" stroke-width="0.7"/>
<line x1="359.10" y1="234.86" x2="359.10" y2="247.89" stroke="#a3b2ba" stroke-width="0.7"/>
<line x1="357.60" y1="234.86" x2="360.60" y2="234.86" stroke="#a3b2ba" stroke-width="0.7"/>
<line x1="357.60" y1="247.89" x2="360.60" y2="247.89" stroke="#a3b2ba" stroke-width="0.7"/>
<line x1="376.30" y1="234.13" x2="376.30" y2="245.72" stroke="#a3b2ba" stroke-width="0.7"/>
<line x1="374.80" y1="234.13" x2="377.80" y2="234.13" stroke="#a3b2ba" stroke-width="0.7"/>
<line x1="374.80" y1="245.72" x2="377.80" y2="245.72" stroke="#a3b2ba" stroke-width="0.7"/>
<path d="M307.50,228.34 L324.90,243.26 L341.90,245.36 L359.10,241.37 L376.30,239.93" stroke="#34505e" stroke-width="1.25" fill="none"/>
<circle cx="307.50" cy="228.34" r="1.6" fill="#1d3240"/>
<circle cx="324.90" cy="243.26" r="1.6" fill="#1d3240"/>
<circle cx="341.90" cy="245.36" r="1.6" fill="#1d3240"/>
<circle cx="359.10" cy="241.37" r="1.6" fill="#1d3240"/>
<circle cx="376.30" cy="239.93" r="1.6" fill="#1d3240"/>
<text x="296.50" y="265.50" font-size="6.4" text-anchor="start" font-weight="normal" fill="#222" stroke="#222" stroke-width="0.1">2μL RWM</text>
<text x="330.90" y="265.50" font-size="6.3" text-anchor="start" font-weight="normal" fill="#222" stroke="#222" stroke-width="0.1">n=6</text>
<text x="336.30" y="210.60" font-size="6.8" text-anchor="start" font-weight="normal" fill="#222" stroke="#222" stroke-width="0.1">NS</text>
<text x="344.10" y="286.50" font-size="6.6" text-anchor="middle" font-weight="normal" fill="#222" stroke="#222" stroke-width="0.1" textLength="48.8" lengthAdjust="spacingAndGlyphs">Frequency (kHz)</text>
<line x1="438.50" y1="198.20" x2="438.50" y2="269.30" stroke="#333" stroke-width="1.25"/>
<line x1="437.90" y1="268.70" x2="543.00" y2="268.70" stroke="#333" stroke-width="1.25"/>
<line x1="435.50" y1="268.70" x2="438.50" y2="268.70" stroke="#333" stroke-width="0.9"/>
<text x="435.60" y="270.90" font-size="5.3" text-anchor="end" font-weight="normal" fill="#333" stroke="#333" stroke-width="0.1">0</text>
<line x1="435.50" y1="254.70" x2="438.50" y2="254.70" stroke="#333" stroke-width="0.9"/>
<text x="435.60" y="256.90" font-size="5.3" text-anchor="end" font-weight="normal" fill="#333" stroke="#333" stroke-width="0.1">20</text>
<line x1="435.50" y1="240.70" x2="438.50" y2="240.70" stroke="#333" stroke-width="0.9"/>
<text x="435.60" y="242.90" font-size="5.3" text-anchor="end" font-weight="normal" fill="#333" stroke="#333" stroke-width="0.1">40</text>
<line x1="435.50" y1="226.70" x2="438.50" y2="226.70" stroke="#333" stroke-width="0.9"/>
<text x="435.60" y="228.90" font-size="5.3" text-anchor="end" font-weight="normal" fill="#333" stroke="#333" stroke-width="0.1">60</text>
<line x1="435.50" y1="212.70" x2="438.50" y2="212.70" stroke="#333" stroke-width="0.9"/>
<text x="435.60" y="214.90" font-size="5.3" text-anchor="end" font-weight="normal" fill="#333" stroke="#333" stroke-width="0.1">80</text>
<line x1="435.50" y1="198.70" x2="438.50" y2="198.70" stroke="#333" stroke-width="0.9"/>
<text x="435.60" y="200.90" font-size="5.3" text-anchor="end" font-weight="normal" fill="#333" stroke="#333" stroke-width="0.1">100</text>
<line x1="455.20" y1="268.70" x2="455.20" y2="271.50" stroke="#333" stroke-width="1.0"/>
<text x="455.20" y="277.20" font-size="4.9" text-anchor="middle" font-weight="normal" fill="#333" stroke="#333" stroke-width="0.1">4</text>
<line x1="472.30" y1="268.70" x2="472.30" y2="271.50" stroke="#333" stroke-width="1.0"/>
<text x="472.30" y="277.20" font-size="4.9" text-anchor="middle" font-weight="normal" fill="#333" stroke="#333" stroke-width="0.1">8</text>
<line x1="489.30" y1="268.70" x2="489.30" y2="271.50" stroke="#333" stroke-width="1.0"/>
<text x="489.30" y="277.20" font-size="4.9" text-anchor="middle" font-weight="normal" fill="#333" stroke="#333" stroke-width="0.1">16</text>
<line x1="506.00" y1="268.70" x2="506.00" y2="271.50" stroke="#333" stroke-width="1.0"/>
<text x="506.00" y="277.20" font-size="4.9" text-anchor="middle" font-weight="normal" fill="#333" stroke="#333" stroke-width="0.1">24</text>
<line x1="522.60" y1="268.70" x2="522.60" y2="271.50" stroke="#333" stroke-width="1.0"/>
<text x="522.60" y="277.20" font-size="4.9" text-anchor="middle" font-weight="normal" fill="#333" stroke="#333" stroke-width="0.1">32</text>
<text x="0.00" y="0.00" font-size="6.6" text-anchor="middle" font-weight="normal" fill="#333" stroke="#333" stroke-width="0.1" transform="translate(424.40,233.70) rotate(-90)">DPOAE Threshold (dB SPL)</text>
<line x1="455.20" y1="217.32" x2="455.20" y2="221.52" stroke="#efb3c1" stroke-width="0.7"/>
<line x1="453.70" y1="217.32" x2="456.70" y2="217.32" stroke="#efb3c1" stroke-width="0.7"/>
<line x1="453.70" y1="221.52" x2="456.70" y2="221.52" stroke="#efb3c1" stroke-width="0.7"/>
<line x1="472.30" y1="207.10" x2="472.30" y2="215.50" stroke="#efb3c1" stroke-width="0.7"/>
<line x1="470.80" y1="207.10" x2="473.80" y2="207.10" stroke="#efb3c1" stroke-width="0.7"/>
<line x1="470.80" y1="215.50" x2="473.80" y2="215.50" stroke="#efb3c1" stroke-width="0.7"/>
<line x1="489.30" y1="203.11" x2="489.30" y2="210.11" stroke="#efb3c1" stroke-width="0.7"/>
<line x1="487.80" y1="203.11" x2="490.80" y2="203.11" stroke="#efb3c1" stroke-width="0.7"/>
<line x1="487.80" y1="210.11" x2="490.80" y2="210.11" stroke="#efb3c1" stroke-width="0.7"/>
<line x1="506.00" y1="213.19" x2="506.00" y2="217.39" stroke="#efb3c1" stroke-width="0.7"/>
<line x1="504.50" y1="213.19" x2="507.50" y2="213.19" stroke="#efb3c1" stroke-width="0.7"/>
<line x1="504.50" y1="217.39" x2="507.50" y2="217.39" stroke="#efb3c1" stroke-width="0.7"/>
<line x1="522.60" y1="207.80" x2="522.60" y2="219.00" stroke="#efb3c1" stroke-width="0.7"/>
<line x1="521.10" y1="207.80" x2="524.10" y2="207.80" stroke="#efb3c1" stroke-width="0.7"/>
<line x1="521.10" y1="219.00" x2="524.10" y2="219.00" stroke="#efb3c1" stroke-width="0.7"/>
<path d="M455.20,219.42 L472.30,211.30 L489.30,206.61 L506.00,215.29 L522.60,213.40" stroke="#ea8ba4" stroke-width="1.25" fill="none"/>
<path d="M455.20,217.22L457.51,221.18L452.89,221.18Z" fill="#e55879"/>
<path d="M472.30,209.10L474.61,213.06L469.99,213.06Z" fill="#e55879"/>
<path d="M489.30,204.41L491.61,208.37L486.99,208.37Z" fill="#e55879"/>
<path d="M506.00,213.09L508.31,217.05L503.69,217.05Z" fill="#e55879"/>
<path d="M522.60,211.20L524.91,215.16L520.29,215.16Z" fill="#e55879"/>
<line x1="455.20" y1="215.15" x2="455.20" y2="219.35" stroke="#a3b2ba" stroke-width="0.7"/>
<line x1="453.70" y1="215.15" x2="456.70" y2="215.15" stroke="#a3b2ba" stroke-width="0.7"/>
<line x1="453.70" y1="219.35" x2="456.70" y2="219.35" stroke="#a3b2ba" stroke-width="0.7"/>
<line x1="472.30" y1="229.36" x2="472.30" y2="233.56" stroke="#a3b2ba" stroke-width="0.7"/>
<line x1="470.80" y1="229.36" x2="473.80" y2="229.36" stroke="#a3b2ba" stroke-width="0.7"/>
<line x1="470.80" y1="233.56" x2="473.80" y2="233.56" stroke="#a3b2ba" stroke-width="0.7"/>
<line x1="489.30" y1="234.12" x2="489.30" y2="245.32" stroke="#a3b2ba" stroke-width="0.7"/>
<line x1="487.80" y1="234.12" x2="490.80" y2="234.12" stroke="#a3b2ba" stroke-width="0.7"/>
<line x1="487.80" y1="245.32" x2="490.80" y2="245.32" stroke="#a3b2ba" stroke-width="0.7"/>
<line x1="506.00" y1="222.15" x2="506.00" y2="236.15" stroke="#a3b2ba" stroke-width="0.7"/>
<line x1="504.50" y1="222.15" x2="507.50" y2="222.15" stroke="#a3b2ba" stroke-width="0.7"/>
<line x1="504.50" y1="236.15" x2="507.50" y2="236.15" stroke="#a3b2ba" stroke-width="0.7"/>
<line x1="522.60" y1="214.73" x2="522.60" y2="223.13" stroke="#a3b2ba" stroke-width="0.7"/>
<line x1="521.10" y1="214.73" x2="524.10" y2="214.73" stroke="#a3b2ba" stroke-width="0.7"/>
<line x1="521.10" y1="223.13" x2="524.10" y2="223.13" stroke="#a3b2ba" stroke-width="0.7"/>
<path d="M455.20,217.25 L472.30,231.46 L489.30,239.72 L506.00,229.15 L522.60,218.93" stroke="#34505e" stroke-width="1.25" fill="none"/>
<circle cx="455.20" cy="217.25" r="1.6" fill="#1d3240"/>
<circle cx="472.30" cy="231.46" r="1.6" fill="#1d3240"/>
<circle cx="489.30" cy="239.72" r="1.6" fill="#1d3240"/>
<circle cx="506.00" cy="229.15" r="1.6" fill="#1d3240"/>
<circle cx="522.60" cy="218.93" r="1.6" fill="#1d3240"/>
<text x="447.90" y="263.80" font-size="6.4" text-anchor="start" font-weight="normal" fill="#222" stroke="#222" stroke-width="0.1">2μL RWM</text>
<text x="482.10" y="263.80" font-size="6.3" text-anchor="start" font-weight="normal" fill="#222" stroke="#222" stroke-width="0.1">n=4</text>
<text x="472.30" y="204.20" font-size="6.2" text-anchor="middle" font-weight="normal" fill="#111" stroke="#111" stroke-width="0.1">**</text>
<text x="489.30" y="200.10" font-size="6.2" text-anchor="middle" font-weight="normal" fill="#111" stroke="#111" stroke-width="0.1">****</text>
<text x="493.50" y="286.50" font-size="6.6" text-anchor="middle" font-weight="normal" fill="#222" stroke="#222" stroke-width="0.1" textLength="48.8" lengthAdjust="spacingAndGlyphs">Frequency (kHz)</text>
<line x1="289.90" y1="297.80" x2="289.90" y2="370.50" stroke="#333" stroke-width="1.25"/>
<line x1="289.30" y1="369.90" x2="396.50" y2="369.90" stroke="#333" stroke-width="1.25"/>
<line x1="286.90" y1="369.90" x2="289.90" y2="369.90" stroke="#333" stroke-width="0.9"/>
<text x="287.00" y="372.10" font-size="5.3" text-anchor="end" font-weight="normal" fill="#333" stroke="#333" stroke-width="0.1">0</text>
<line x1="286.90" y1="355.58" x2="289.90" y2="355.58" stroke="#333" stroke-width="0.9"/>
<text x="287.00" y="357.78" font-size="5.3" text-anchor="end" font-weight="normal" fill="#333" stroke="#333" stroke-width="0.1">20</text>
<line x1="286.90" y1="341.26" x2="289.90" y2="341.26" stroke="#333" stroke-width="0.9"/>
<text x="287.00" y="343.46" font-size="5.3" text-anchor="end" font-weight="normal" fill="#333" stroke="#333" stroke-width="0.1">40</text>
<line x1="286.90" y1="326.94" x2="289.90" y2="326.94" stroke="#333" stroke-width="0.9"/>
<text x="287.00" y="329.14" font-size="5.3" text-anchor="end" font-weight="normal" fill="#333" stroke="#333" stroke-width="0.1">60</text>
<line x1="286.90" y1="312.62" x2="289.90" y2="312.62" stroke="#333" stroke-width="0.9"/>
<text x="287.00" y="314.82" font-size="5.3" text-anchor="end" font-weight="normal" fill="#333" stroke="#333" stroke-width="0.1">80</text>
<line x1="286.90" y1="298.30" x2="289.90" y2="298.30" stroke="#333" stroke-width="0.9"/>
<text x="287.00" y="300.50" font-size="5.3" text-anchor="end" font-weight="normal" fill="#333" stroke="#333" stroke-width="0.1">100</text>
<line x1="307.10" y1="369.90" x2="307.10" y2="372.70" stroke="#333" stroke-width="1.0"/>
<text x="307.10" y="378.40" font-size="4.9" text-anchor="middle" font-weight="normal" fill="#333" stroke="#333" stroke-width="0.1">4</text>
<line x1="324.20" y1="369.90" x2="324.20" y2="372.70" stroke="#333" stroke-width="1.0"/>
<text x="324.20" y="378.40" font-size="4.9" text-anchor="middle" font-weight="normal" fill="#333" stroke="#333" stroke-width="0.1">8</text>
<line x1="341.30" y1="369.90" x2="341.30" y2="372.70" stroke="#333" stroke-width="1.0"/>
<text x="341.30" y="378.40" font-size="4.9" text-anchor="middle" font-weight="normal" fill="#333" stroke="#333" stroke-width="0.1">16</text>
<line x1="358.50" y1="369.90" x2="358.50" y2="372.70" stroke="#333" stroke-width="1.0"/>
<text x="358.50" y="378.40" font-size="4.9" text-anchor="middle" font-weight="normal" fill="#333" stroke="#333" stroke-width="0.1">24</text>
<line x1="375.70" y1="369.90" x2="375.70" y2="372.70" stroke="#333" stroke-width="1.0"/>
<text x="375.70" y="378.40" font-size="4.9" text-anchor="middle" font-weight="normal" fill="#333" stroke="#333" stroke-width="0.1">32</text>
<text x="0.00" y="0.00" font-size="6.5" text-anchor="middle" font-weight="normal" fill="#333" stroke="#333" stroke-width="0.1" transform="translate(274.00,334.10) rotate(-90)">ABR Threshold (dB SPL)</text>
<line x1="307.10" y1="327.73" x2="307.10" y2="336.32" stroke="#efb3c1" stroke-width="0.7"/>
<line x1="305.60" y1="327.73" x2="308.60" y2="327.73" stroke="#efb3c1" stroke-width="0.7"/>
<line x1="305.60" y1="336.32" x2="308.60" y2="336.32" stroke="#efb3c1" stroke-width="0.7"/>
<line x1="324.20" y1="339.47" x2="324.20" y2="349.49" stroke="#efb3c1" stroke-width="0.7"/>
<line x1="322.70" y1="339.47" x2="325.70" y2="339.47" stroke="#efb3c1" stroke-width="0.7"/>
<line x1="322.70" y1="349.49" x2="325.70" y2="349.49" stroke="#efb3c1" stroke-width="0.7"/>
<line x1="341.30" y1="336.25" x2="341.30" y2="349.14" stroke="#efb3c1" stroke-width="0.7"/>
<line x1="339.80" y1="336.25" x2="342.80" y2="336.25" stroke="#efb3c1" stroke-width="0.7"/>
<line x1="339.80" y1="349.14" x2="342.80" y2="349.14" stroke="#efb3c1" stroke-width="0.7"/>
<line x1="358.50" y1="321.93" x2="358.50" y2="330.52" stroke="#efb3c1" stroke-width="0.7"/>
<line x1="357.00" y1="321.93" x2="360.00" y2="321.93" stroke="#efb3c1" stroke-width="0.7"/>
<line x1="357.00" y1="330.52" x2="360.00" y2="330.52" stroke="#efb3c1" stroke-width="0.7"/>
<line x1="375.70" y1="319.99" x2="375.70" y2="322.86" stroke="#efb3c1" stroke-width="0.7"/>
<line x1="374.20" y1="319.99" x2="377.20" y2="319.99" stroke="#efb3c1" stroke-width="0.7"/>
<line x1="374.20" y1="322.86" x2="377.20" y2="322.86" stroke="#efb3c1" stroke-width="0.7"/>
<path d="M307.10,332.02 L324.20,344.48 L341.30,342.69 L358.50,326.22 L375.70,321.43" stroke="#ea8ba4" stroke-width="1.25" fill="none"/>
<path d="M307.10,329.82L309.41,333.78L304.79,333.78Z" fill="#e55879"/>
<path d="M324.20,342.28L326.51,346.24L321.89,346.24Z" fill="#e55879"/>
<path d="M341.30,340.49L343.61,344.45L338.99,344.45Z" fill="#e55879"/>
<path d="M358.50,324.02L360.81,327.98L356.19,327.98Z" fill="#e55879"/>
<path d="M375.70,319.23L378.01,323.19L373.39,323.19Z" fill="#e55879"/>
<line x1="307.10" y1="333.67" x2="307.10" y2="336.53" stroke="#a3b2ba" stroke-width="0.7"/>
<line x1="305.60" y1="333.67" x2="308.60" y2="333.67" stroke="#a3b2ba" stroke-width="0.7"/>
<line x1="305.60" y1="336.53" x2="308.60" y2="336.53" stroke="#a3b2ba" stroke-width="0.7"/>
<line x1="324.20" y1="351.28" x2="324.20" y2="352.72" stroke="#a3b2ba" stroke-width="0.7"/>
<line x1="322.70" y1="351.28" x2="325.70" y2="351.28" stroke="#a3b2ba" stroke-width="0.7"/>
<line x1="322.70" y1="352.72" x2="325.70" y2="352.72" stroke="#a3b2ba" stroke-width="0.7"/>
<line x1="341.30" y1="348.71" x2="341.30" y2="351.57" stroke="#a3b2ba" stroke-width="0.7"/>
<line x1="339.80" y1="348.71" x2="342.80" y2="348.71" stroke="#a3b2ba" stroke-width="0.7"/>
<line x1="339.80" y1="351.57" x2="342.80" y2="351.57" stroke="#a3b2ba" stroke-width="0.7"/>
<line x1="358.50" y1="348.99" x2="358.50" y2="353.29" stroke="#a3b2ba" stroke-width="0.7"/>
<line x1="357.00" y1="348.99" x2="360.00" y2="348.99" stroke="#a3b2ba" stroke-width="0.7"/>
<line x1="357.00" y1="353.29" x2="360.00" y2="353.29" stroke="#a3b2ba" stroke-width="0.7"/>
<line x1="375.70" y1="339.11" x2="375.70" y2="346.27" stroke="#a3b2ba" stroke-width="0.7"/>
<line x1="374.20" y1="339.11" x2="377.20" y2="339.11" stroke="#a3b2ba" stroke-width="0.7"/>
<line x1="374.20" y1="346.27" x2="377.20" y2="346.27" stroke="#a3b2ba" stroke-width="0.7"/>
<path d="M307.10,335.10 L324.20,352.00 L341.30,350.14 L358.50,351.14 L375.70,342.69" stroke="#34505e" stroke-width="1.25" fill="none"/>
<circle cx="307.10" cy="335.10" r="1.6" fill="#1d3240"/>
<circle cx="324.20" cy="352.00" r="1.6" fill="#1d3240"/>
<circle cx="341.30" cy="350.14" r="1.6" fill="#1d3240"/>
<circle cx="358.50" cy="351.14" r="1.6" fill="#1d3240"/>
<circle cx="375.70" cy="342.69" r="1.6" fill="#1d3240"/>
<text x="296.70" y="366.10" font-size="6.4" text-anchor="start" font-weight="normal" fill="#222" stroke="#222" stroke-width="0.1">2μL t-RP</text>
<text x="327.30" y="366.10" font-size="6.3" text-anchor="start" font-weight="normal" fill="#222" stroke="#222" stroke-width="0.1">n=4</text>
<text x="358.50" y="319.60" font-size="6.2" text-anchor="middle" font-weight="normal" fill="#111" stroke="#111" stroke-width="0.1">***</text>
<text x="375.70" y="316.20" font-size="6.2" text-anchor="middle" font-weight="normal" fill="#111" stroke="#111" stroke-width="0.1">**</text>
<text x="344.85" y="387.50" font-size="6.6" text-anchor="middle" font-weight="normal" fill="#222" stroke="#222" stroke-width="0.1" textLength="48.8" lengthAdjust="spacingAndGlyphs">Frequency (kHz)</text>
<line x1="440.50" y1="299.70" x2="440.50" y2="371.00" stroke="#333" stroke-width="1.25"/>
<line x1="439.90" y1="370.40" x2="545.60" y2="370.40" stroke="#333" stroke-width="1.25"/>
<line x1="437.50" y1="370.40" x2="440.50" y2="370.40" stroke="#333" stroke-width="0.9"/>
<text x="437.60" y="372.60" font-size="5.3" text-anchor="end" font-weight="normal" fill="#333" stroke="#333" stroke-width="0.1">0</text>
<line x1="437.50" y1="356.36" x2="440.50" y2="356.36" stroke="#333" stroke-width="0.9"/>
<text x="437.60" y="358.56" font-size="5.3" text-anchor="end" font-weight="normal" fill="#333" stroke="#333" stroke-width="0.1">20</text>
<line x1="437.50" y1="342.32" x2="440.50" y2="342.32" stroke="#333" stroke-width="0.9"/>
<text x="437.60" y="344.52" font-size="5.3" text-anchor="end" font-weight="normal" fill="#333" stroke="#333" stroke-width="0.1">40</text>
<line x1="437.50" y1="328.28" x2="440.50" y2="328.28" stroke="#333" stroke-width="0.9"/>
<text x="437.60" y="330.48" font-size="5.3" text-anchor="end" font-weight="normal" fill="#333" stroke="#333" stroke-width="0.1">60</text>
<line x1="437.50" y1="314.24" x2="440.50" y2="314.24" stroke="#333" stroke-width="0.9"/>
<text x="437.60" y="316.44" font-size="5.3" text-anchor="end" font-weight="normal" fill="#333" stroke="#333" stroke-width="0.1">80</text>
<line x1="437.50" y1="300.20" x2="440.50" y2="300.20" stroke="#333" stroke-width="0.9"/>
<text x="437.60" y="302.40" font-size="5.3" text-anchor="end" font-weight="normal" fill="#333" stroke="#333" stroke-width="0.1">100</text>
<line x1="457.70" y1="370.40" x2="457.70" y2="373.20" stroke="#333" stroke-width="1.0"/>
<text x="457.70" y="378.90" font-size="4.9" text-anchor="middle" font-weight="normal" fill="#333" stroke="#333" stroke-width="0.1">4</text>
<line x1="474.40" y1="370.40" x2="474.40" y2="373.20" stroke="#333" stroke-width="1.0"/>
<text x="474.40" y="378.90" font-size="4.9" text-anchor="middle" font-weight="normal" fill="#333" stroke="#333" stroke-width="0.1">8</text>
<line x1="491.30" y1="370.40" x2="491.30" y2="373.20" stroke="#333" stroke-width="1.0"/>
<text x="491.30" y="378.90" font-size="4.9" text-anchor="middle" font-weight="normal" fill="#333" stroke="#333" stroke-width="0.1">16</text>
<line x1="508.20" y1="370.40" x2="508.20" y2="373.20" stroke="#333" stroke-width="1.0"/>
<text x="508.20" y="378.90" font-size="4.9" text-anchor="middle" font-weight="normal" fill="#333" stroke="#333" stroke-width="0.1">24</text>
<line x1="525.00" y1="370.40" x2="525.00" y2="373.20" stroke="#333" stroke-width="1.0"/>
<text x="525.00" y="378.90" font-size="4.9" text-anchor="middle" font-weight="normal" fill="#333" stroke="#333" stroke-width="0.1">32</text>
<text x="0.00" y="0.00" font-size="6.6" text-anchor="middle" font-weight="normal" fill="#333" stroke="#333" stroke-width="0.1" transform="translate(424.60,335.30) rotate(-90)">DPOAE Threshold (dB SPL)</text>
<line x1="457.70" y1="314.24" x2="457.70" y2="315.64" stroke="#efb3c1" stroke-width="0.7"/>
<line x1="456.20" y1="314.24" x2="459.20" y2="314.24" stroke="#efb3c1" stroke-width="0.7"/>
<line x1="456.20" y1="315.64" x2="459.20" y2="315.64" stroke="#efb3c1" stroke-width="0.7"/>
<line x1="474.40" y1="307.64" x2="474.40" y2="321.68" stroke="#efb3c1" stroke-width="0.7"/>
<line x1="472.90" y1="307.64" x2="475.90" y2="307.64" stroke="#efb3c1" stroke-width="0.7"/>
<line x1="472.90" y1="321.68" x2="475.90" y2="321.68" stroke="#efb3c1" stroke-width="0.7"/>
<line x1="491.30" y1="316.91" x2="491.30" y2="326.74" stroke="#efb3c1" stroke-width="0.7"/>
<line x1="489.80" y1="316.91" x2="492.80" y2="316.91" stroke="#efb3c1" stroke-width="0.7"/>
<line x1="489.80" y1="326.74" x2="492.80" y2="326.74" stroke="#efb3c1" stroke-width="0.7"/>
<line x1="508.20" y1="315.43" x2="508.20" y2="318.24" stroke="#efb3c1" stroke-width="0.7"/>
<line x1="506.70" y1="315.43" x2="509.70" y2="315.43" stroke="#efb3c1" stroke-width="0.7"/>
<line x1="506.70" y1="318.24" x2="509.70" y2="318.24" stroke="#efb3c1" stroke-width="0.7"/>
<line x1="525.00" y1="304.27" x2="525.00" y2="312.70" stroke="#efb3c1" stroke-width="0.7"/>
<line x1="523.50" y1="304.27" x2="526.50" y2="304.27" stroke="#efb3c1" stroke-width="0.7"/>
<line x1="523.50" y1="312.70" x2="526.50" y2="312.70" stroke="#efb3c1" stroke-width="0.7"/>
<path d="M457.70,314.94 L474.40,314.66 L491.30,321.82 L508.20,316.84 L525.00,308.48" stroke="#ea8ba4" stroke-width="1.25" fill="none"/>
<path d="M457.70,312.74L460.01,316.70L455.39,316.70Z" fill="#e55879"/>
<path d="M474.40,312.46L476.71,316.42L472.09,316.42Z" fill="#e55879"/>
<path d="M491.30,319.62L493.61,323.58L488.99,323.58Z" fill="#e55879"/>
<path d="M508.20,314.64L510.51,318.60L505.89,318.60Z" fill="#e55879"/>
<path d="M525.00,306.28L527.31,310.24L522.69,310.24Z" fill="#e55879"/>
<line x1="457.70" y1="314.73" x2="457.70" y2="316.14" stroke="#a3b2ba" stroke-width="0.7"/>
<line x1="456.20" y1="314.73" x2="459.20" y2="314.73" stroke="#a3b2ba" stroke-width="0.7"/>
<line x1="456.20" y1="316.14" x2="459.20" y2="316.14" stroke="#a3b2ba" stroke-width="0.7"/>
<line x1="474.40" y1="329.47" x2="474.40" y2="333.69" stroke="#a3b2ba" stroke-width="0.7"/>
<line x1="472.90" y1="329.47" x2="475.90" y2="329.47" stroke="#a3b2ba" stroke-width="0.7"/>
<line x1="472.90" y1="333.69" x2="475.90" y2="333.69" stroke="#a3b2ba" stroke-width="0.7"/>
<line x1="491.30" y1="336.21" x2="491.30" y2="339.02" stroke="#a3b2ba" stroke-width="0.7"/>
<line x1="489.80" y1="336.21" x2="492.80" y2="336.21" stroke="#a3b2ba" stroke-width="0.7"/>
<line x1="489.80" y1="339.02" x2="492.80" y2="339.02" stroke="#a3b2ba" stroke-width="0.7"/>
<line x1="508.20" y1="328.07" x2="508.20" y2="329.47" stroke="#a3b2ba" stroke-width="0.7"/>
<line x1="506.70" y1="328.07" x2="509.70" y2="328.07" stroke="#a3b2ba" stroke-width="0.7"/>
<line x1="506.70" y1="329.47" x2="509.70" y2="329.47" stroke="#a3b2ba" stroke-width="0.7"/>
<line x1="525.00" y1="319.72" x2="525.00" y2="323.93" stroke="#a3b2ba" stroke-width="0.7"/>
<line x1="523.50" y1="319.72" x2="526.50" y2="319.72" stroke="#a3b2ba" stroke-width="0.7"/>
<line x1="523.50" y1="323.93" x2="526.50" y2="323.93" stroke="#a3b2ba" stroke-width="0.7"/>
<path d="M457.70,315.43 L474.40,331.58 L491.30,337.62 L508.20,328.77 L525.00,321.82" stroke="#34505e" stroke-width="1.25" fill="none"/>
<circle cx="457.70" cy="315.43" r="1.6" fill="#1d3240"/>
<circle cx="474.40" cy="331.58" r="1.6" fill="#1d3240"/>
<circle cx="491.30" cy="337.62" r="1.6" fill="#1d3240"/>
<circle cx="508.20" cy="328.77" r="1.6" fill="#1d3240"/>
<circle cx="525.00" cy="321.82" r="1.6" fill="#1d3240"/>
<text x="447.90" y="366.50" font-size="6.4" text-anchor="start" font-weight="normal" fill="#222" stroke="#222" stroke-width="0.1">2μL t-RP</text>
<text x="479.20" y="366.50" font-size="6.3" text-anchor="start" font-weight="normal" fill="#222" stroke="#222" stroke-width="0.1">n=4</text>
<text x="474.40" y="305.30" font-size="6.2" text-anchor="middle" font-weight="normal" fill="#111" stroke="#111" stroke-width="0.1">**</text>
<text x="491.30" y="313.10" font-size="6.2" text-anchor="middle" font-weight="normal" fill="#111" stroke="#111" stroke-width="0.1">**</text>
<text x="525.00" y="301.10" font-size="6.2" text-anchor="middle" font-weight="normal" fill="#111" stroke="#111" stroke-width="0.1">*</text>
<text x="494.10" y="387.50" font-size="6.6" text-anchor="middle" font-weight="normal" fill="#222" stroke="#222" stroke-width="0.1" textLength="48.8" lengthAdjust="spacingAndGlyphs">Frequency (kHz)</text>
<line x1="34.20" y1="195.80" x2="34.20" y2="268.30" stroke="#4a4a4a" stroke-width="1.2"/>
<line x1="33.60" y1="267.70" x2="239.70" y2="267.70" stroke="#4a4a4a" stroke-width="1.2"/>
<line x1="28.70" y1="267.70" x2="34.20" y2="267.70" stroke="#444" stroke-width="1.0"/>
<text x="25.60" y="270.20" font-size="7.0" text-anchor="end" font-weight="normal" fill="#222" stroke="#222" stroke-width="0.1">0</text>
<line x1="28.70" y1="249.85" x2="34.20" y2="249.85" stroke="#444" stroke-width="1.0"/>
<text x="25.60" y="252.35" font-size="7.0" text-anchor="end" font-weight="normal" fill="#222" stroke="#222" stroke-width="0.1">1</text>
<line x1="28.70" y1="232.00" x2="34.20" y2="232.00" stroke="#444" stroke-width="1.0"/>
<text x="25.60" y="234.50" font-size="7.0" text-anchor="end" font-weight="normal" fill="#222" stroke="#222" stroke-width="0.1">2</text>
<line x1="28.70" y1="214.15" x2="34.20" y2="214.15" stroke="#444" stroke-width="1.0"/>
<text x="25.60" y="216.65" font-size="7.0" text-anchor="end" font-weight="normal" fill="#222" stroke="#222" stroke-width="0.1">3</text>
<line x1="28.70" y1="196.30" x2="34.20" y2="196.30" stroke="#444" stroke-width="1.0"/>
<text x="25.60" y="198.80" font-size="7.0" text-anchor="end" font-weight="normal" fill="#222" stroke="#222" stroke-width="0.1">4</text>
<line x1="59.20" y1="267.70" x2="59.20" y2="270.70" stroke="#3a3a3a" stroke-width="0.9"/>
<text x="59.20" y="278.20" font-size="6.5" text-anchor="middle" font-weight="normal" fill="#222" stroke="#222" stroke-width="0.1">4</text>
<line x1="98.20" y1="267.70" x2="98.20" y2="270.70" stroke="#3a3a3a" stroke-width="0.9"/>
<text x="98.20" y="278.20" font-size="6.5" text-anchor="middle" font-weight="normal" fill="#222" stroke="#222" stroke-width="0.1">8</text>
<line x1="137.00" y1="267.70" x2="137.00" y2="270.70" stroke="#3a3a3a" stroke-width="0.9"/>
<text x="137.00" y="278.20" font-size="6.5" text-anchor="middle" font-weight="normal" fill="#222" stroke="#222" stroke-width="0.1">16</text>
<line x1="175.60" y1="267.70" x2="175.60" y2="270.70" stroke="#3a3a3a" stroke-width="0.9"/>
<text x="175.60" y="278.20" font-size="6.5" text-anchor="middle" font-weight="normal" fill="#222" stroke="#222" stroke-width="0.1">24</text>
<line x1="214.00" y1="267.70" x2="214.00" y2="270.70" stroke="#3a3a3a" stroke-width="0.9"/>
<text x="214.00" y="278.20" font-size="6.5" text-anchor="middle" font-weight="normal" fill="#222" stroke="#222" stroke-width="0.1">32</text>
<text x="0.00" y="0.00" font-size="7.0" text-anchor="middle" font-weight="normal" fill="#333" stroke="#333" stroke-width="0.1" transform="translate(16.20,230.00) rotate(-90)">Lantency (ms)</text>
<text x="136.60" y="286.00" font-size="7.0" text-anchor="middle" font-weight="normal" fill="#222" stroke="#222" stroke-width="0.1">Frequency (kHz)</text>
<path d="M55.5,227.9 V224.4 H212.0 V227.9" stroke="#6e6e6e" stroke-width="0.8" fill="none"/>
<text x="128.60" y="220.80" font-size="6.8" text-anchor="start" font-weight="normal" fill="#222" stroke="#222" stroke-width="0.1">NS</text>
<rect x="57.70" y="190.30" width="3.5" height="2" rx="0.6" fill="#e55879"/>
<rect x="57.70" y="201.60" width="3.5" height="2" rx="0.6" fill="#1d3240"/>
<text x="71.20" y="193.70" font-size="7.0" text-anchor="start" font-weight="normal" fill="#222" stroke="#222" stroke-width="0.1">injected ears</text>
<text x="70.20" y="205.00" font-size="7.0" text-anchor="start" font-weight="normal" fill="#222" stroke="#222" stroke-width="0.1">contralateral ears</text>
<text x="140.00" y="204.70" font-size="7.0" text-anchor="start" font-weight="normal" fill="#222" stroke="#222" stroke-width="0.1">n=4</text>
<line x1="47.20" y1="238.25" x2="72.20" y2="238.25" stroke="#1d3240" stroke-width="0.8"/>
<line x1="47.20" y1="241.64" x2="72.20" y2="241.64" stroke="#efb3c1" stroke-width="0.8"/>
<rect x="47.40" y="236.61" width="3.6" height="2.2" rx="0.5" fill="#1d3240"/>
<rect x="56.40" y="233.58" width="3.6" height="2.2" rx="0.5" fill="#1d3240"/>
<rect x="58.40" y="236.61" width="3.6" height="2.2" rx="0.5" fill="#1d3240"/>
<rect x="61.40" y="237.68" width="3.6" height="2.2" rx="0.5" fill="#1d3240"/>
<rect x="65.40" y="237.68" width="3.6" height="2.2" rx="0.5" fill="#1d3240"/>
<rect x="68.40" y="236.61" width="3.6" height="2.2" rx="0.5" fill="#1d3240"/>
<rect x="50.60" y="240.28" width="3.2" height="2.0" rx="0.8" fill="#e55879"/>
<rect x="50.60" y="238.14" width="3.2" height="2.0" rx="0.8" fill="#e55879"/>
<rect x="55.60" y="240.82" width="3.2" height="2.0" rx="0.8" fill="#e55879"/>
<rect x="59.60" y="239.93" width="3.2" height="2.0" rx="0.8" fill="#e55879"/>
<rect x="64.60" y="241.35" width="3.2" height="2.0" rx="0.8" fill="#e55879"/>
<rect x="67.60" y="241.17" width="3.2" height="2.0" rx="0.8" fill="#e55879"/>
<line x1="86.20" y1="241.28" x2="111.20" y2="241.28" stroke="#1d3240" stroke-width="0.8"/>
<line x1="86.20" y1="241.28" x2="111.20" y2="241.28" stroke="#efb3c1" stroke-width="0.8"/>
<rect x="88.40" y="240.18" width="3.6" height="2.2" rx="0.5" fill="#1d3240"/>
<rect x="94.40" y="241.97" width="3.6" height="2.2" rx="0.5" fill="#1d3240"/>
<rect x="98.40" y="238.93" width="3.6" height="2.2" rx="0.5" fill="#1d3240"/>
<rect x="107.40" y="240.18" width="3.6" height="2.2" rx="0.5" fill="#1d3240"/>
<rect x="85.60" y="239.39" width="3.2" height="2.0" rx="0.8" fill="#e55879"/>
<rect x="96.60" y="244.92" width="3.2" height="2.0" rx="0.8" fill="#e55879"/>
<rect x="101.60" y="242.07" width="3.2" height="2.0" rx="0.8" fill="#e55879"/>
<rect x="105.60" y="240.64" width="3.2" height="2.0" rx="0.8" fill="#e55879"/>
<line x1="125.00" y1="245.39" x2="150.00" y2="245.39" stroke="#1d3240" stroke-width="0.8"/>
<line x1="125.00" y1="239.50" x2="150.00" y2="239.50" stroke="#efb3c1" stroke-width="0.8"/>
<rect x="124.20" y="246.25" width="3.6" height="2.2" rx="0.5" fill="#1d3240"/>
<rect x="130.20" y="238.40" width="3.6" height="2.2" rx="0.5" fill="#1d3240"/>
<rect x="135.20" y="241.97" width="3.6" height="2.2" rx="0.5" fill="#1d3240"/>
<rect x="130.20" y="244.29" width="3.6" height="2.2" rx="0.5" fill="#1d3240"/>
<rect x="140.20" y="244.82" width="3.6" height="2.2" rx="0.5" fill="#1d3240"/>
<rect x="145.20" y="243.75" width="3.6" height="2.2" rx="0.5" fill="#1d3240"/>
<rect x="130.40" y="228.50" width="3.2" height="2.0" rx="0.8" fill="#e55879"/>
<rect x="135.40" y="229.93" width="3.2" height="2.0" rx="0.8" fill="#e55879"/>
<rect x="135.40" y="239.03" width="3.2" height="2.0" rx="0.8" fill="#e55879"/>
<rect x="140.40" y="238.50" width="3.2" height="2.0" rx="0.8" fill="#e55879"/>
<rect x="135.40" y="246.17" width="3.2" height="2.0" rx="0.8" fill="#e55879"/>
<rect x="145.40" y="247.42" width="3.2" height="2.0" rx="0.8" fill="#e55879"/>
<line x1="163.60" y1="243.42" x2="188.60" y2="243.42" stroke="#1d3240" stroke-width="0.8"/>
<line x1="163.60" y1="242.35" x2="188.60" y2="242.35" stroke="#efb3c1" stroke-width="0.8"/>
<rect x="162.80" y="242.32" width="3.6" height="2.2" rx="0.5" fill="#1d3240"/>
<rect x="168.80" y="245.18" width="3.6" height="2.2" rx="0.5" fill="#1d3240"/>
<rect x="178.80" y="240.72" width="3.6" height="2.2" rx="0.5" fill="#1d3240"/>
<rect x="178.80" y="245.18" width="3.6" height="2.2" rx="0.5" fill="#1d3240"/>
<rect x="183.80" y="241.97" width="3.6" height="2.2" rx="0.5" fill="#1d3240"/>
<rect x="169.00" y="239.93" width="3.2" height="2.0" rx="0.8" fill="#e55879"/>
<rect x="174.00" y="233.14" width="3.2" height="2.0" rx="0.8" fill="#e55879"/>
<rect x="174.00" y="236.71" width="3.2" height="2.0" rx="0.8" fill="#e55879"/>
<rect x="179.00" y="241.71" width="3.2" height="2.0" rx="0.8" fill="#e55879"/>
<rect x="184.00" y="241.35" width="3.2" height="2.0" rx="0.8" fill="#e55879"/>
<rect x="174.00" y="245.28" width="3.2" height="2.0" rx="0.8" fill="#e55879"/>
<line x1="202.00" y1="240.93" x2="227.00" y2="240.93" stroke="#1d3240" stroke-width="0.8"/>
<line x1="202.00" y1="240.03" x2="227.00" y2="240.03" stroke="#efb3c1" stroke-width="0.8"/>
<rect x="201.20" y="240.72" width="3.6" height="2.2" rx="0.5" fill="#1d3240"/>
<rect x="205.20" y="239.83" width="3.6" height="2.2" rx="0.5" fill="#1d3240"/>
<rect x="210.20" y="237.15" width="3.6" height="2.2" rx="0.5" fill="#1d3240"/>
<rect x="220.20" y="239.83" width="3.6" height="2.2" rx="0.5" fill="#1d3240"/>
<rect x="223.20" y="239.83" width="3.6" height="2.2" rx="0.5" fill="#1d3240"/>
<rect x="205.40" y="236.71" width="3.2" height="2.0" rx="0.8" fill="#e55879"/>
<rect x="209.40" y="241.71" width="3.2" height="2.0" rx="0.8" fill="#e55879"/>
<rect x="212.40" y="232.78" width="3.2" height="2.0" rx="0.8" fill="#e55879"/>
<rect x="215.40" y="236.00" width="3.2" height="2.0" rx="0.8" fill="#e55879"/>
<rect x="219.40" y="242.42" width="3.2" height="2.0" rx="0.8" fill="#e55879"/>
<rect x="222.40" y="239.93" width="3.2" height="2.0" rx="0.8" fill="#e55879"/>
<line x1="34.70" y1="290.90" x2="34.70" y2="369.40" stroke="#4a4a4a" stroke-width="1.2"/>
<line x1="34.10" y1="368.80" x2="239.20" y2="368.80" stroke="#4a4a4a" stroke-width="1.2"/>
<line x1="29.20" y1="368.80" x2="34.70" y2="368.80" stroke="#444" stroke-width="1.0"/>
<text x="26.10" y="371.30" font-size="7.0" text-anchor="end" font-weight="normal" fill="#222" stroke="#222" stroke-width="0.1">0</text>
<line x1="29.20" y1="349.45" x2="34.70" y2="349.45" stroke="#444" stroke-width="1.0"/>
<text x="26.10" y="351.95" font-size="7.0" text-anchor="end" font-weight="normal" fill="#222" stroke="#222" stroke-width="0.1">2</text>
<line x1="29.20" y1="330.10" x2="34.70" y2="330.10" stroke="#444" stroke-width="1.0"/>
<text x="26.10" y="332.60" font-size="7.0" text-anchor="end" font-weight="normal" fill="#222" stroke="#222" stroke-width="0.1">4</text>
<line x1="29.20" y1="310.75" x2="34.70" y2="310.75" stroke="#444" stroke-width="1.0"/>
<text x="26.10" y="313.25" font-size="7.0" text-anchor="end" font-weight="normal" fill="#222" stroke="#222" stroke-width="0.1">6</text>
<line x1="29.20" y1="291.40" x2="34.70" y2="291.40" stroke="#444" stroke-width="1.0"/>
<text x="26.10" y="293.90" font-size="7.0" text-anchor="end" font-weight="normal" fill="#222" stroke="#222" stroke-width="0.1">8</text>
<line x1="59.50" y1="368.80" x2="59.50" y2="371.80" stroke="#3a3a3a" stroke-width="0.9"/>
<text x="59.50" y="379.30" font-size="6.5" text-anchor="middle" font-weight="normal" fill="#222" stroke="#222" stroke-width="0.1">4</text>
<line x1="98.20" y1="368.80" x2="98.20" y2="371.80" stroke="#3a3a3a" stroke-width="0.9"/>
<text x="98.20" y="379.30" font-size="6.5" text-anchor="middle" font-weight="normal" fill="#222" stroke="#222" stroke-width="0.1">8</text>
<line x1="137.00" y1="368.80" x2="137.00" y2="371.80" stroke="#3a3a3a" stroke-width="0.9"/>
<text x="137.00" y="379.30" font-size="6.5" text-anchor="middle" font-weight="normal" fill="#222" stroke="#222" stroke-width="0.1">16</text>
<line x1="175.60" y1="368.80" x2="175.60" y2="371.80" stroke="#3a3a3a" stroke-width="0.9"/>
<text x="175.60" y="379.30" font-size="6.5" text-anchor="middle" font-weight="normal" fill="#222" stroke="#222" stroke-width="0.1">24</text>
<line x1="214.00" y1="368.80" x2="214.00" y2="371.80" stroke="#3a3a3a" stroke-width="0.9"/>
<text x="214.00" y="379.30" font-size="6.5" text-anchor="middle" font-weight="normal" fill="#222" stroke="#222" stroke-width="0.1">32</text>
<text x="0.00" y="0.00" font-size="7.0" text-anchor="middle" font-weight="normal" fill="#333" stroke="#333" stroke-width="0.1" transform="translate(16.20,327.30) rotate(-90)">Amplitude (μV)</text>
<text x="136.75" y="390.00" font-size="7.0" text-anchor="middle" font-weight="normal" fill="#222" stroke="#222" stroke-width="0.1">Frequency (kHz)</text>
<path d="M59.3,330.5 V325.5 H214.5 V330.5" stroke="#6e6e6e" stroke-width="0.8" fill="none"/>
<text x="133.00" y="322.60" font-size="6.8" text-anchor="start" font-weight="normal" fill="#222" stroke="#222" stroke-width="0.1">NS</text>
<rect x="61.60" y="295.20" width="3.5" height="2" rx="0.6" fill="#e55879"/>
<rect x="61.60" y="306.10" width="3.5" height="2" rx="0.6" fill="#1d3240"/>
<text x="75.10" y="298.60" font-size="7.0" text-anchor="start" font-weight="normal" fill="#222" stroke="#222" stroke-width="0.1">injected ears</text>
<text x="74.10" y="309.50" font-size="7.0" text-anchor="start" font-weight="normal" fill="#222" stroke="#222" stroke-width="0.1">contralateral ears</text>
<text x="141.00" y="309.50" font-size="7.0" text-anchor="start" font-weight="normal" fill="#222" stroke="#222" stroke-width="0.1">n=4</text>
<line x1="47.50" y1="349.45" x2="72.50" y2="349.45" stroke="#1d3240" stroke-width="0.8"/>
<line x1="47.50" y1="354.77" x2="72.50" y2="354.77" stroke="#efb3c1" stroke-width="0.8"/>
<rect x="47.70" y="349.32" width="3.6" height="2.2" rx="0.5" fill="#1d3240"/>
<rect x="57.70" y="344.00" width="3.6" height="2.2" rx="0.5" fill="#1d3240"/>
<rect x="57.70" y="347.38" width="3.6" height="2.2" rx="0.5" fill="#1d3240"/>
<rect x="57.70" y="352.70" width="3.6" height="2.2" rx="0.5" fill="#1d3240"/>
<rect x="57.70" y="356.09" width="3.6" height="2.2" rx="0.5" fill="#1d3240"/>
<rect x="68.70" y="348.35" width="3.6" height="2.2" rx="0.5" fill="#1d3240"/>
<rect x="52.90" y="347.97" width="3.2" height="2.0" rx="0.8" fill="#e55879"/>
<rect x="52.90" y="354.74" width="3.2" height="2.0" rx="0.8" fill="#e55879"/>
<rect x="57.90" y="360.54" width="3.2" height="2.0" rx="0.8" fill="#e55879"/>
<rect x="63.90" y="348.93" width="3.2" height="2.0" rx="0.8" fill="#e55879"/>
<rect x="63.90" y="352.32" width="3.2" height="2.0" rx="0.8" fill="#e55879"/>
<rect x="63.90" y="355.71" width="3.2" height="2.0" rx="0.8" fill="#e55879"/>
<line x1="86.20" y1="348.48" x2="111.20" y2="348.48" stroke="#1d3240" stroke-width="0.8"/>
<line x1="86.20" y1="349.45" x2="111.20" y2="349.45" stroke="#efb3c1" stroke-width="0.8"/>
<rect x="86.40" y="347.87" width="3.6" height="2.2" rx="0.5" fill="#1d3240"/>
<rect x="92.40" y="347.87" width="3.6" height="2.2" rx="0.5" fill="#1d3240"/>
<rect x="96.40" y="329.97" width="3.6" height="2.2" rx="0.5" fill="#1d3240"/>
<rect x="96.40" y="353.19" width="3.6" height="2.2" rx="0.5" fill="#1d3240"/>
<rect x="100.40" y="346.41" width="3.6" height="2.2" rx="0.5" fill="#1d3240"/>
<rect x="107.40" y="345.45" width="3.6" height="2.2" rx="0.5" fill="#1d3240"/>
<rect x="96.60" y="334.90" width="3.2" height="2.0" rx="0.8" fill="#e55879"/>
<rect x="92.60" y="343.61" width="3.2" height="2.0" rx="0.8" fill="#e55879"/>
<rect x="100.60" y="349.90" width="3.2" height="2.0" rx="0.8" fill="#e55879"/>
<rect x="96.60" y="355.71" width="3.2" height="2.0" rx="0.8" fill="#e55879"/>
<rect x="96.60" y="361.03" width="3.2" height="2.0" rx="0.8" fill="#e55879"/>
<rect x="107.60" y="348.93" width="3.2" height="2.0" rx="0.8" fill="#e55879"/>
<line x1="125.00" y1="351.87" x2="150.00" y2="351.87" stroke="#1d3240" stroke-width="0.8"/>
<line x1="125.00" y1="357.67" x2="150.00" y2="357.67" stroke="#efb3c1" stroke-width="0.8"/>
<rect x="124.20" y="348.83" width="3.6" height="2.2" rx="0.5" fill="#1d3240"/>
<rect x="135.20" y="344.48" width="3.6" height="2.2" rx="0.5" fill="#1d3240"/>
<rect x="140.20" y="350.28" width="3.6" height="2.2" rx="0.5" fill="#1d3240"/>
<rect x="145.20" y="350.77" width="3.6" height="2.2" rx="0.5" fill="#1d3240"/>
<rect x="135.20" y="353.67" width="3.6" height="2.2" rx="0.5" fill="#1d3240"/>
<rect x="129.20" y="351.25" width="3.6" height="2.2" rx="0.5" fill="#1d3240"/>
<rect x="135.40" y="339.74" width="3.2" height="2.0" rx="0.8" fill="#e55879"/>
<rect x="124.40" y="348.45" width="3.2" height="2.0" rx="0.8" fill="#e55879"/>
<rect x="129.40" y="356.67" width="3.2" height="2.0" rx="0.8" fill="#e55879"/>
<rect x="135.40" y="361.03" width="3.2" height="2.0" rx="0.8" fill="#e55879"/>
<rect x="145.40" y="357.16" width="3.2" height="2.0" rx="0.8" fill="#e55879"/>
<rect x="139.40" y="352.32" width="3.2" height="2.0" rx="0.8" fill="#e55879"/>
<line x1="163.60" y1="360.09" x2="188.60" y2="360.09" stroke="#1d3240" stroke-width="0.8"/>
<line x1="163.60" y1="358.16" x2="188.60" y2="358.16" stroke="#efb3c1" stroke-width="0.8"/>
<rect x="173.80" y="348.83" width="3.6" height="2.2" rx="0.5" fill="#1d3240"/>
<rect x="162.80" y="358.02" width="3.6" height="2.2" rx="0.5" fill="#1d3240"/>
<rect x="168.80" y="360.93" width="3.6" height="2.2" rx="0.5" fill="#1d3240"/>
<rect x="168.80" y="363.83" width="3.6" height="2.2" rx="0.5" fill="#1d3240"/>
<rect x="173.80" y="356.57" width="3.6" height="2.2" rx="0.5" fill="#1d3240"/>
<rect x="178.80" y="358.99" width="3.6" height="2.2" rx="0.5" fill="#1d3240"/>
<rect x="171.00" y="344.58" width="3.2" height="2.0" rx="0.8" fill="#e55879"/>
<rect x="176.00" y="343.61" width="3.2" height="2.0" rx="0.8" fill="#e55879"/>
<rect x="174.00" y="360.06" width="3.2" height="2.0" rx="0.8" fill="#e55879"/>
<rect x="181.00" y="360.06" width="3.2" height="2.0" rx="0.8" fill="#e55879"/>
<rect x="185.00" y="357.16" width="3.2" height="2.0" rx="0.8" fill="#e55879"/>
<rect x="168.00" y="353.29" width="3.2" height="2.0" rx="0.8" fill="#e55879"/>
<line x1="202.00" y1="363.96" x2="227.00" y2="363.96" stroke="#1d3240" stroke-width="0.8"/>
<line x1="202.00" y1="363.48" x2="227.00" y2="363.48" stroke="#efb3c1" stroke-width="0.8"/>
<rect x="212.20" y="355.61" width="3.6" height="2.2" rx="0.5" fill="#1d3240"/>
<rect x="206.20" y="362.86" width="3.6" height="2.2" rx="0.5" fill="#1d3240"/>
<rect x="218.20" y="359.96" width="3.6" height="2.2" rx="0.5" fill="#1d3240"/>
<rect x="212.20" y="367.70" width="3.6" height="2.2" rx="0.5" fill="#1d3240"/>
<rect x="222.20" y="362.38" width="3.6" height="2.2" rx="0.5" fill="#1d3240"/>
<rect x="200.40" y="363.45" width="3.2" height="2.0" rx="0.8" fill="#e55879"/>
<rect x="208.40" y="363.45" width="3.2" height="2.0" rx="0.8" fill="#e55879"/>
<rect x="212.40" y="364.90" width="3.2" height="2.0" rx="0.8" fill="#e55879"/>
<rect x="223.40" y="362.48" width="3.2" height="2.0" rx="0.8" fill="#e55879"/>
<rect x="216.40" y="362.00" width="3.2" height="2.0" rx="0.8" fill="#e55879"/>
<rect x="220.40" y="362.48" width="3.2" height="2.0" rx="0.8" fill="#e55879"/>
<line x1="20.20" y1="31.00" x2="20.20" y2="180.00" stroke="#6a6a6a" stroke-width="1.3"/>
<line x1="16.70" y1="31.00" x2="20.20" y2="31.00" stroke="#6a6a6a" stroke-width="1.0"/>
<text x="15.20" y="33.35" font-size="6.6" text-anchor="end" font-weight="normal" fill="#333" stroke="#333" stroke-width="0.1">90</text>
<line x1="18.60" y1="42.65" x2="20.20" y2="42.65" stroke="#6a6a6a" stroke-width="1.0"/>
<line x1="16.70" y1="54.30" x2="20.20" y2="54.30" stroke="#6a6a6a" stroke-width="1.0"/>
<text x="15.20" y="56.65" font-size="6.6" text-anchor="end" font-weight="normal" fill="#333" stroke="#333" stroke-width="0.1">80</text>
<line x1="18.60" y1="65.95" x2="20.20" y2="65.95" stroke="#6a6a6a" stroke-width="1.0"/>
<line x1="16.70" y1="77.60" x2="20.20" y2="77.60" stroke="#6a6a6a" stroke-width="1.0"/>
<text x="15.20" y="79.95" font-size="6.6" text-anchor="end" font-weight="normal" fill="#333" stroke="#333" stroke-width="0.1">70</text>
<line x1="18.60" y1="89.25" x2="20.20" y2="89.25" stroke="#6a6a6a" stroke-width="1.0"/>
<line x1="16.70" y1="100.90" x2="20.20" y2="100.90" stroke="#6a6a6a" stroke-width="1.0"/>
<text x="15.20" y="103.25" font-size="6.6" text-anchor="end" font-weight="normal" fill="#333" stroke="#333" stroke-width="0.1">60</text>
<line x1="18.60" y1="112.55" x2="20.20" y2="112.55" stroke="#6a6a6a" stroke-width="1.0"/>
<line x1="16.70" y1="124.20" x2="20.20" y2="124.20" stroke="#6a6a6a" stroke-width="1.0"/>
<text x="15.20" y="126.55" font-size="6.6" text-anchor="end" font-weight="normal" fill="#333" stroke="#333" stroke-width="0.1">50</text>
<line x1="18.60" y1="135.85" x2="20.20" y2="135.85" stroke="#6a6a6a" stroke-width="1.0"/>
<line x1="16.70" y1="147.50" x2="20.20" y2="147.50" stroke="#6a6a6a" stroke-width="1.0"/>
<text x="15.20" y="149.85" font-size="6.6" text-anchor="end" font-weight="normal" fill="#333" stroke="#333" stroke-width="0.1">40</text>
<line x1="18.60" y1="159.15" x2="20.20" y2="159.15" stroke="#6a6a6a" stroke-width="1.0"/>
<line x1="16.70" y1="170.80" x2="20.20" y2="170.80" stroke="#6a6a6a" stroke-width="1.0"/>
<text x="15.20" y="173.15" font-size="6.6" text-anchor="end" font-weight="normal" fill="#333" stroke="#333" stroke-width="0.1">30</text>
<text x="44.90" y="14.50" font-size="7.0" text-anchor="start" font-weight="normal" fill="#222" stroke="#222" stroke-width="0.1" textLength="52.4" lengthAdjust="spacingAndGlyphs">Contralateral ear</text>
<text x="123.60" y="14.50" font-size="7.0" text-anchor="start" font-weight="normal" fill="#222" stroke="#222" stroke-width="0.1" textLength="18.2" lengthAdjust="spacingAndGlyphs">8 kHz</text>
<text x="157.70" y="14.50" font-size="7.0" text-anchor="start" font-weight="normal" fill="#222" stroke="#222" stroke-width="0.1" textLength="71" lengthAdjust="spacingAndGlyphs">1μL PSCC injected ear</text>
<path d="M117.1,171.4 H137.7 V164.5" stroke="#333" stroke-width="0.9" fill="none"/>
<text x="140.00" y="169.60" font-size="5.0" text-anchor="start" font-weight="normal" fill="#222" stroke="#222" stroke-width="0.1">1μV</text>
<text x="124.50" y="177.70" font-size="5.3" text-anchor="start" font-weight="normal" fill="#222" stroke="#222" stroke-width="0.1">2ms</text>
<path d="M24.5,32.2 L25.0,32.1 L25.5,32.1 L26.0,32.1 L26.5,32.0 L27.0,31.9 L27.5,31.7 L28.0,31.6 L28.5,31.5 L29.0,31.6 L29.5,31.6 L30.0,31.6 L30.5,31.6 L31.0,31.4 L31.5,31.3 L32.0,31.2 L32.5,31.1 L33.0,31.1 L33.5,31.1 L34.0,31.1 L34.5,31.2 L35.0,31.4 L35.5,31.8 L36.0,32.2 L36.5,32.5 L37.0,32.7 L37.5,32.3 L38.0,30.9 L38.5,29.0 L39.0,27.2 L39.5,25.9 L40.0,25.6 L40.5,26.7 L41.0,29.3 L41.5,32.9 L42.0,36.8 L42.5,40.5 L43.0,43.4 L43.5,44.9 L44.0,45.1 L44.5,44.4 L45.0,43.0 L45.5,41.0 L46.0,38.5 L46.5,35.6 L47.0,32.6 L47.5,29.6 L48.0,26.8 L48.5,24.2 L49.0,22.0 L49.5,20.4 L50.0,19.4 L50.5,19.0 L51.0,19.8 L51.5,21.9 L52.0,24.8 L52.5,28.2 L53.0,31.3 L53.5,33.8 L54.0,35.1 L54.5,35.3 L55.0,35.2 L55.5,35.0 L56.0,34.7 L56.5,34.3 L57.0,33.8 L57.5,33.2 L58.0,32.6 L58.5,32.1 L59.0,31.6 L59.5,31.1 L60.0,30.6 L60.5,30.1 L61.0,29.7 L61.5,29.5 L62.0,29.4 L62.5,29.7 L63.0,30.2 L63.5,30.8 L64.0,31.5 L64.5,32.3 L65.0,33.1 L65.5,33.8 L66.0,34.5 L66.5,34.9 L67.0,35.1 L67.5,35.0 L68.0,34.7 L68.5,34.2 L69.0,33.5 L69.5,32.9 L70.0,32.2 L70.5,31.6 L71.0,31.1 L71.5,30.6 L72.0,30.3 L72.5,30.2 L73.0,30.3 L73.5,30.7 L74.0,31.2 L74.5,31.9 L75.0,32.6 L75.5,33.4 L76.0,34.2 L76.5,35.0 L77.0,35.8 L77.5,36.5 L78.0,37.0 L78.5,37.2 L79.0,37.1 L79.5,36.8 L80.0,36.2 L80.5,35.4 L81.0,34.5 L81.5,33.4 L82.0,32.1 L82.5,30.8 L83.0,29.5 L83.5,28.3 L84.0,27.2 L84.5,26.4 L85.0,25.8 L85.5,25.5 L86.0,25.3 L86.5,25.3 L87.0,25.5 L87.5,25.9 L88.0,26.5 L88.5,27.4 L89.0,28.3 L89.5,29.3 L90.0,30.3 L90.5,31.3 L91.0,32.3 L91.5,33.3 L92.0,34.3 L92.5,35.1 L93.0,35.6 L93.5,35.8 L94.0,35.8 L94.5,35.7 L95.0,35.4 L95.5,35.2 L96.0,34.9 L96.5,34.4 L97.0,34.0 L97.5,33.4 L98.0,32.8 L98.5,32.3 L99.0,31.9 L99.5,31.5 L100.0,31.2 L100.5,30.8 L101.0,30.4 L101.5,30.0 L102.0,29.7 L102.5,29.6 L103.0,29.5 L103.5,29.6 L104.0,29.8 L104.5,30.0 L105.0,30.3 L105.5,30.7 L106.0,31.2 L106.5,31.7 L107.0,32.4 L107.5,33.0 L108.0,33.5 L108.5,33.8 L109.0,34.1 L109.5,34.4 L110.0,34.6 L110.5,34.8 L111.0,34.9 L111.5,34.9 L112.0,34.8 L112.5,34.6 L113.0,34.4 L113.5,34.2 L114.0,33.9 L114.5,33.6 L115.0,33.3 L115.5,32.8 L116.0,32.3 L116.5,31.7 L117.0,31.3 L117.5,30.9 L118.0,30.7 L118.5,30.5 L119.0,30.4 L119.5,30.4 L120.0,30.4 L120.5,30.4 L121.0,30.6 L121.5,30.8 L122.0,31.0 L122.5,31.2 L123.0,31.3 L123.5,31.4 L124.0,31.5 L124.5,31.7 L125.0,31.9 L125.5,32.2 L126.0,32.5 L126.5,32.8 L127.0,33.0 L127.5,33.1 L128.0,33.3 L128.5,33.4 L129.0,33.5 L129.5,33.6 L130.0,33.5 L130.5,33.2 L131.0,33.0" stroke="#b5b5b5" stroke-width="0.95" fill="none" stroke-linejoin="round"/>
<path d="M139.0,32.1 L139.5,31.9 L140.0,31.7 L140.5,31.4 L141.0,31.1 L141.5,30.8 L142.0,30.4 L142.5,29.9 L143.0,29.4 L143.5,28.9 L144.0,28.5 L144.5,28.3 L145.0,28.1 L145.5,28.0 L146.0,28.0 L146.5,28.2 L147.0,28.5 L147.5,29.1 L148.0,29.8 L148.5,30.4 L149.0,31.0 L149.5,31.2 L150.0,31.2 L150.5,31.1 L151.0,30.8 L151.5,30.5 L152.0,30.2 L152.5,30.0 L153.0,29.9 L153.5,29.9 L154.0,30.2 L154.5,31.0 L155.0,32.0 L155.5,33.3 L156.0,34.7 L156.5,36.0 L157.0,37.0 L157.5,37.8 L158.0,38.1 L158.5,38.0 L159.0,36.5 L159.5,33.8 L160.0,30.4 L160.5,27.2 L161.0,24.8 L161.5,23.9 L162.0,25.1 L162.5,28.5 L163.0,33.1 L163.5,37.7 L164.0,41.1 L164.5,42.3 L165.0,42.0 L165.5,41.4 L166.0,40.3 L166.5,39.0 L167.0,37.4 L167.5,35.6 L168.0,33.7 L168.5,31.7 L169.0,29.6 L169.5,27.7 L170.0,26.0 L170.5,24.6 L171.0,23.5 L171.5,22.7 L172.0,22.1 L172.5,21.9 L173.0,22.3 L173.5,23.3 L174.0,24.8 L174.5,26.7 L175.0,28.7 L175.5,30.5 L176.0,31.9 L176.5,32.9 L177.0,33.2 L177.5,33.0 L178.0,32.2 L178.5,31.0 L179.0,29.4 L179.5,27.8 L180.0,26.4 L180.5,25.5 L181.0,25.3 L181.5,25.4 L182.0,25.9 L182.5,26.7 L183.0,27.6 L183.5,28.7 L184.0,29.9 L184.5,31.3 L185.0,32.8 L185.5,34.4 L186.0,35.9 L186.5,37.2 L187.0,38.4 L187.5,39.3 L188.0,40.1 L188.5,40.8 L189.0,41.3 L189.5,41.5 L190.0,41.4 L190.5,40.7 L191.0,39.4 L191.5,37.6 L192.0,35.5 L192.5,33.1 L193.0,30.6 L193.5,28.0 L194.0,25.5 L194.5,23.1 L195.0,21.1 L195.5,19.7 L196.0,18.8 L196.5,18.6 L197.0,19.0 L197.5,20.1 L198.0,21.7 L198.5,23.8 L199.0,26.3 L199.5,29.1 L200.0,31.9 L200.5,34.7 L201.0,37.2 L201.5,39.2 L202.0,40.7 L202.5,41.6 L203.0,41.9 L203.5,41.8 L204.0,41.4 L204.5,40.7 L205.0,39.8 L205.5,38.5 L206.0,37.0 L206.5,35.3 L207.0,33.6 L207.5,31.8 L208.0,30.1 L208.5,28.4 L209.0,26.8 L209.5,25.3 L210.0,24.1 L210.5,23.2 L211.0,22.7 L211.5,22.5 L212.0,22.6 L212.5,22.8 L213.0,23.1 L213.5,23.4 L214.0,23.9 L214.5,24.5 L215.0,25.2 L215.5,26.0 L216.0,26.8 L216.5,27.6 L217.0,28.5 L217.5,29.3 L218.0,30.3 L218.5,31.2 L219.0,32.2 L219.5,33.0 L220.0,33.7 L220.5,34.2 L221.0,34.6 L221.5,34.8 L222.0,35.0 L222.5,35.1 L223.0,35.0 L223.5,34.8 L224.0,34.4 L224.5,34.0 L225.0,33.5 L225.5,33.0 L226.0,32.5 L226.5,32.0 L227.0,31.5 L227.5,30.9 L228.0,30.4 L228.5,29.9 L229.0,29.5 L229.5,29.3 L230.0,29.2 L230.5,29.3 L231.0,29.4 L231.5,29.5 L232.0,29.7 L232.5,30.0 L233.0,30.4 L233.5,30.8 L234.0,31.2 L234.5,31.5 L235.0,31.7 L235.5,31.8 L236.0,31.9 L236.5,32.0 L237.0,32.0 L237.5,32.0 L238.0,31.9 L238.5,31.7 L239.0,31.4 L239.5,31.1 L240.0,30.8 L240.5,30.6 L241.0,30.4 L241.5,30.2 L242.0,30.0 L242.5,29.7 L243.0,29.6 L243.5,29.7 L244.0,30.2 L244.5,30.7 L245.0,31.0" stroke="#b5b5b5" stroke-width="0.95" fill="none" stroke-linejoin="round"/>
<path d="M24.5,43.7 L25.0,43.8 L25.5,43.8 L26.0,43.7 L26.5,43.7 L27.0,43.6 L27.5,43.5 L28.0,43.5 L28.5,43.4 L29.0,43.3 L29.5,43.1 L30.0,43.0 L30.5,42.9 L31.0,43.0 L31.5,43.0 L32.0,43.1 L32.5,43.1 L33.0,43.1 L33.5,43.0 L34.0,42.9 L34.5,42.9 L35.0,43.1 L35.5,43.3 L36.0,43.5 L36.5,43.7 L37.0,43.8 L37.5,43.8 L38.0,43.5 L38.5,42.6 L39.0,41.4 L39.5,40.1 L40.0,39.1 L40.5,38.5 L41.0,38.9 L41.5,40.8 L42.0,43.8 L42.5,47.5 L43.0,51.1 L43.5,54.2 L44.0,56.1 L44.5,56.5 L45.0,56.1 L45.5,55.2 L46.0,53.7 L46.5,51.8 L47.0,49.5 L47.5,46.9 L48.0,44.2 L48.5,41.4 L49.0,38.9 L49.5,36.7 L50.0,35.0 L50.5,33.8 L51.0,33.1 L51.5,33.1 L52.0,34.3 L52.5,36.6 L53.0,39.7 L53.5,43.0 L54.0,45.9 L54.5,47.8 L55.0,48.4 L55.5,48.2 L56.0,47.7 L56.5,47.2 L57.0,46.5 L57.5,45.7 L58.0,44.9 L58.5,44.1 L59.0,43.3 L59.5,42.6 L60.0,42.1 L60.5,41.9 L61.0,41.8 L61.5,42.0 L62.0,42.2 L62.5,42.6 L63.0,43.0 L63.5,43.5 L64.0,44.1 L64.5,44.8 L65.0,45.4 L65.5,45.9 L66.0,46.1 L66.5,46.2 L67.0,46.1 L67.5,45.9 L68.0,45.7 L68.5,45.3 L69.0,44.9 L69.5,44.3 L70.0,43.7 L70.5,43.1 L71.0,42.5 L71.5,42.1 L72.0,41.9 L72.5,41.8 L73.0,41.7 L73.5,41.8 L74.0,42.1 L74.5,42.6 L75.0,43.3 L75.5,44.1 L76.0,45.1 L76.5,46.1 L77.0,46.9 L77.5,47.7 L78.0,48.3 L78.5,48.7 L79.0,49.1 L79.5,49.2 L80.0,49.1 L80.5,48.6 L81.0,48.0 L81.5,47.0 L82.0,45.9 L82.5,44.7 L83.0,43.5 L83.5,42.2 L84.0,41.0 L84.5,39.8 L85.0,38.7 L85.5,37.9 L86.0,37.3 L86.5,37.0 L87.0,37.1 L87.5,37.3 L88.0,37.8 L88.5,38.3 L89.0,39.0 L89.5,39.9 L90.0,40.9 L90.5,42.0 L91.0,43.1 L91.5,44.2 L92.0,45.2 L92.5,46.1 L93.0,46.9 L93.5,47.6 L94.0,48.1 L94.5,48.5 L95.0,48.6 L95.5,48.6 L96.0,48.3 L96.5,47.9 L97.0,47.4 L97.5,46.8 L98.0,46.2 L98.5,45.6 L99.0,44.9 L99.5,44.2 L100.0,43.4 L100.5,42.8 L101.0,42.3 L101.5,41.9 L102.0,41.6 L102.5,41.4 L103.0,41.2 L103.5,41.0 L104.0,40.9 L104.5,41.0 L105.0,41.2 L105.5,41.4 L106.0,41.8 L106.5,42.2 L107.0,42.6 L107.5,43.1 L108.0,43.6 L108.5,44.2 L109.0,44.8 L109.5,45.3 L110.0,45.7 L110.5,45.9 L111.0,46.0 L111.5,46.1 L112.0,46.1 L112.5,46.0 L113.0,45.9 L113.5,45.8 L114.0,45.5 L114.5,45.2 L115.0,44.8 L115.5,44.4 L116.0,44.1 L116.5,43.8 L117.0,43.4 L117.5,43.0 L118.0,42.6 L118.5,42.2 L119.0,41.8 L119.5,41.6 L120.0,41.5 L120.5,41.6 L121.0,41.7 L121.5,41.8 L122.0,42.0 L122.5,42.2 L123.0,42.4 L123.5,42.8 L124.0,43.2 L124.5,43.5 L125.0,43.8 L125.5,44.0 L126.0,44.2 L126.5,44.4 L127.0,44.6 L127.5,44.9 L128.0,45.2 L128.5,45.4 L129.0,45.5 L129.5,45.5 L130.0,45.4 L130.5,45.3 L131.0,45.3" stroke="#b5b5b5" stroke-width="0.95" fill="none" stroke-linejoin="round"/>
<path d="M139.0,43.8 L139.5,43.7 L140.0,43.6 L140.5,43.4 L141.0,43.1 L141.5,42.9 L142.0,42.5 L142.5,42.1 L143.0,41.6 L143.5,41.2 L144.0,40.7 L144.5,40.4 L145.0,40.3 L145.5,40.2 L146.0,40.2 L146.5,40.2 L147.0,40.4 L147.5,40.6 L148.0,41.1 L148.5,41.6 L149.0,42.1 L149.5,42.5 L150.0,42.7 L150.5,42.7 L151.0,42.6 L151.5,42.4 L152.0,42.3 L152.5,42.1 L153.0,42.1 L153.5,42.0 L154.0,42.0 L154.5,42.1 L155.0,42.5 L155.5,43.2 L156.0,44.1 L156.5,45.2 L157.0,46.2 L157.5,47.2 L158.0,47.9 L158.5,48.4 L159.0,48.6 L159.5,48.2 L160.0,46.6 L160.5,44.1 L161.0,41.3 L161.5,38.8 L162.0,37.2 L162.5,37.1 L163.0,38.8 L163.5,42.1 L164.0,46.1 L164.5,49.6 L165.0,51.7 L165.5,52.0 L166.0,51.7 L166.5,51.1 L167.0,50.3 L167.5,49.2 L168.0,47.9 L168.5,46.3 L169.0,44.6 L169.5,42.8 L170.0,41.0 L170.5,39.3 L171.0,37.9 L171.5,36.7 L172.0,35.8 L172.5,35.2 L173.0,34.8 L173.5,34.9 L174.0,35.6 L174.5,36.8 L175.0,38.3 L175.5,40.0 L176.0,41.6 L176.5,43.0 L177.0,44.0 L177.5,44.5 L178.0,44.5 L178.5,44.1 L179.0,43.2 L179.5,42.0 L180.0,40.6 L180.5,39.4 L181.0,38.5 L181.5,38.0 L182.0,38.1 L182.5,38.5 L183.0,39.0 L183.5,39.7 L184.0,40.6 L184.5,41.6 L185.0,42.7 L185.5,44.0 L186.0,45.4 L186.5,46.8 L187.0,48.1 L187.5,49.2 L188.0,50.1 L188.5,50.9 L189.0,51.5 L189.5,51.8 L190.0,51.9 L190.5,51.4 L191.0,50.4 L191.5,48.9 L192.0,47.1 L192.5,45.1 L193.0,42.9 L193.5,40.8 L194.0,38.7 L194.5,36.8 L195.0,35.1 L195.5,33.7 L196.0,32.8 L196.5,32.4 L197.0,32.5 L197.5,33.2 L198.0,34.3 L198.5,35.8 L199.0,37.7 L199.5,39.9 L200.0,42.3 L200.5,44.7 L201.0,47.0 L201.5,49.1 L202.0,50.6 L202.5,51.7 L203.0,52.2 L203.5,52.2 L204.0,51.9 L204.5,51.4 L205.0,50.6 L205.5,49.5 L206.0,48.2 L206.5,46.8 L207.0,45.3 L207.5,43.8 L208.0,42.4 L208.5,41.1 L209.0,39.8 L209.5,38.6 L210.0,37.5 L210.5,36.6 L211.0,36.0 L211.5,35.7 L212.0,35.6 L212.5,35.6 L213.0,35.8 L213.5,36.0 L214.0,36.3 L214.5,36.8 L215.0,37.4 L215.5,38.2 L216.0,39.0 L216.5,39.8 L217.0,40.6 L217.5,41.3 L218.0,42.0 L218.5,42.7 L219.0,43.4 L219.5,44.1 L220.0,44.6 L220.5,45.1 L221.0,45.4 L221.5,45.7 L222.0,46.0 L222.5,46.2 L223.0,46.3 L223.5,46.3 L224.0,46.1 L224.5,45.7 L225.0,45.2 L225.5,44.7 L226.0,44.2 L226.5,43.7 L227.0,43.2 L227.5,42.7 L228.0,42.2 L228.5,41.8 L229.0,41.5 L229.5,41.3 L230.0,41.3 L230.5,41.4 L231.0,41.6 L231.5,41.7 L232.0,41.8 L232.5,41.9 L233.0,42.1 L233.5,42.3 L234.0,42.6 L234.5,42.8 L235.0,43.1 L235.5,43.3 L236.0,43.4 L236.5,43.5 L237.0,43.6 L237.5,43.7 L238.0,43.8 L238.5,43.7 L239.0,43.4 L239.5,43.1 L240.0,42.7 L240.5,42.3 L241.0,42.0 L241.5,41.8 L242.0,41.7 L242.5,41.6 L243.0,41.5 L243.5,41.6 L244.0,42.0 L244.5,42.6 L245.0,43.0" stroke="#b5b5b5" stroke-width="0.95" fill="none" stroke-linejoin="round"/>
<path d="M24.5,55.1 L25.0,55.0 L25.5,55.1 L26.0,55.1 L26.5,55.3 L27.0,55.3 L27.5,55.3 L28.0,55.3 L28.5,55.2 L29.0,55.1 L29.5,55.0 L30.0,55.0 L30.5,54.9 L31.0,54.9 L31.5,54.8 L32.0,54.7 L32.5,54.6 L33.0,54.7 L33.5,54.8 L34.0,54.9 L34.5,54.9 L35.0,54.9 L35.5,54.9 L36.0,55.0 L36.5,55.1 L37.0,55.3 L37.5,55.5 L38.0,55.5 L38.5,55.2 L39.0,54.5 L39.5,53.4 L40.0,52.3 L40.5,51.4 L41.0,50.9 L41.5,50.9 L42.0,51.7 L42.5,53.6 L43.0,56.2 L43.5,59.1 L44.0,61.9 L44.5,64.0 L45.0,65.1 L45.5,65.1 L46.0,64.6 L46.5,63.5 L47.0,62.1 L47.5,60.5 L48.0,58.6 L48.5,56.6 L49.0,54.6 L49.5,52.5 L50.0,50.6 L50.5,49.0 L51.0,47.7 L51.5,47.0 L52.0,46.7 L52.5,47.3 L53.0,48.9 L53.5,51.2 L54.0,54.0 L54.5,56.8 L55.0,59.1 L55.5,60.8 L56.0,61.4 L56.5,61.2 L57.0,60.5 L57.5,59.3 L58.0,57.9 L58.5,56.5 L59.0,55.3 L59.5,54.4 L60.0,54.0 L60.5,53.9 L61.0,54.0 L61.5,54.2 L62.0,54.5 L62.5,54.8 L63.0,55.3 L63.5,55.6 L64.0,55.9 L64.5,56.1 L65.0,56.2 L65.5,56.1 L66.0,56.0 L66.5,55.9 L67.0,55.8 L67.5,55.7 L68.0,55.5 L68.5,55.2 L69.0,54.8 L69.5,54.5 L70.0,54.2 L70.5,54.0 L71.0,53.7 L71.5,53.5 L72.0,53.3 L72.5,53.2 L73.0,53.1 L73.5,53.3 L74.0,53.7 L74.5,54.3 L75.0,55.0 L75.5,55.7 L76.0,56.3 L76.5,57.0 L77.0,57.7 L77.5,58.4 L78.0,58.9 L78.5,59.4 L79.0,59.7 L79.5,59.8 L80.0,59.8 L80.5,59.7 L81.0,59.4 L81.5,59.1 L82.0,58.7 L82.5,58.1 L83.0,57.4 L83.5,56.5 L84.0,55.5 L84.5,54.5 L85.0,53.6 L85.5,52.7 L86.0,51.7 L86.5,50.9 L87.0,50.1 L87.5,49.4 L88.0,48.9 L88.5,48.7 L89.0,48.6 L89.5,48.8 L90.0,49.2 L90.5,49.8 L91.0,50.6 L91.5,51.6 L92.0,52.8 L92.5,54.0 L93.0,55.4 L93.5,56.6 L94.0,57.6 L94.5,58.5 L95.0,59.2 L95.5,59.6 L96.0,59.9 L96.5,59.9 L97.0,59.9 L97.5,59.7 L98.0,59.3 L98.5,58.8 L99.0,58.2 L99.5,57.5 L100.0,56.9 L100.5,56.3 L101.0,55.6 L101.5,55.0 L102.0,54.3 L102.5,53.8 L103.0,53.4 L103.5,53.1 L104.0,52.9 L104.5,52.8 L105.0,52.7 L105.5,52.6 L106.0,52.6 L106.5,52.6 L107.0,52.8 L107.5,53.0 L108.0,53.4 L108.5,53.7 L109.0,54.0 L109.5,54.3 L110.0,54.7 L110.5,55.1 L111.0,55.5 L111.5,55.9 L112.0,56.2 L112.5,56.3 L113.0,56.3 L113.5,56.2 L114.0,56.1 L114.5,56.0 L115.0,55.9 L115.5,55.8 L116.0,55.6 L116.5,55.3 L117.0,55.1 L117.5,54.8 L118.0,54.6 L118.5,54.4 L119.0,54.2 L119.5,54.0 L120.0,53.7 L120.5,53.5 L121.0,53.2 L121.5,53.1 L122.0,53.1 L122.5,53.2 L123.0,53.4 L123.5,53.6 L124.0,53.8 L124.5,54.0 L125.0,54.3 L125.5,54.7 L126.0,55.1 L126.5,55.4 L127.0,55.7 L127.5,55.8 L128.0,55.9 L128.5,56.0 L129.0,56.0 L129.5,56.1 L130.0,56.2 L130.5,56.2 L131.0,56.3" stroke="#b5b5b5" stroke-width="0.95" fill="none" stroke-linejoin="round"/>
<path d="M139.0,55.4 L139.5,55.3 L140.0,55.1 L140.5,54.8 L141.0,54.6 L141.5,54.3 L142.0,54.2 L142.5,54.0 L143.0,53.7 L143.5,53.4 L144.0,53.1 L144.5,52.8 L145.0,52.5 L145.5,52.3 L146.0,52.1 L146.5,52.0 L147.0,51.9 L147.5,51.8 L148.0,51.9 L148.5,52.3 L149.0,52.8 L149.5,53.4 L150.0,54.0 L150.5,54.4 L151.0,54.6 L151.5,54.5 L152.0,54.4 L152.5,54.2 L153.0,54.0 L153.5,53.8 L154.0,53.6 L154.5,53.4 L155.0,53.4 L155.5,53.6 L156.0,54.2 L156.5,55.1 L157.0,56.1 L157.5,57.2 L158.0,58.2 L158.5,59.1 L159.0,59.6 L159.5,60.0 L160.0,60.0 L160.5,59.1 L161.0,57.1 L161.5,54.4 L162.0,51.7 L162.5,49.6 L163.0,48.7 L163.5,49.4 L164.0,51.8 L164.5,55.4 L165.0,59.2 L165.5,62.1 L166.0,63.3 L166.5,63.2 L167.0,62.7 L167.5,61.9 L168.0,61.0 L168.5,59.8 L169.0,58.4 L169.5,56.8 L170.0,55.2 L170.5,53.6 L171.0,52.1 L171.5,50.8 L172.0,49.6 L172.5,48.6 L173.0,47.8 L173.5,47.2 L174.0,47.0 L174.5,47.2 L175.0,47.9 L175.5,49.1 L176.0,50.6 L176.5,52.2 L177.0,53.7 L177.5,54.9 L178.0,55.8 L178.5,56.2 L179.0,56.2 L179.5,55.6 L180.0,54.6 L180.5,53.3 L181.0,51.9 L181.5,50.8 L182.0,50.0 L182.5,49.7 L183.0,49.9 L183.5,50.4 L184.0,51.1 L184.5,52.0 L185.0,53.1 L185.5,54.4 L186.0,55.8 L186.5,57.2 L187.0,58.6 L187.5,59.8 L188.0,60.8 L188.5,61.5 L189.0,62.1 L189.5,62.5 L190.0,62.7 L190.5,62.5 L191.0,61.9 L191.5,60.8 L192.0,59.3 L192.5,57.6 L193.0,55.6 L193.5,53.6 L194.0,51.6 L194.5,49.6 L195.0,47.8 L195.5,46.3 L196.0,45.1 L196.5,44.5 L197.0,44.3 L197.5,44.8 L198.0,45.8 L198.5,47.2 L199.0,49.0 L199.5,51.1 L200.0,53.3 L200.5,55.5 L201.0,57.7 L201.5,59.7 L202.0,61.3 L202.5,62.4 L203.0,63.0 L203.5,63.1 L204.0,62.8 L204.5,62.5 L205.0,61.9 L205.5,61.2 L206.0,60.2 L206.5,58.9 L207.0,57.6 L207.5,56.2 L208.0,54.8 L208.5,53.4 L209.0,52.1 L209.5,50.8 L210.0,49.7 L210.5,48.7 L211.0,48.0 L211.5,47.6 L212.0,47.5 L212.5,47.6 L213.0,47.9 L213.5,48.1 L214.0,48.5 L214.5,48.8 L215.0,49.3 L215.5,49.9 L216.0,50.5 L216.5,51.2 L217.0,51.9 L217.5,52.5 L218.0,53.2 L218.5,53.9 L219.0,54.6 L219.5,55.3 L220.0,56.1 L220.5,56.6 L221.0,57.1 L221.5,57.4 L222.0,57.5 L222.5,57.6 L223.0,57.6 L223.5,57.6 L224.0,57.4 L224.5,57.1 L225.0,56.7 L225.5,56.2 L226.0,55.8 L226.5,55.4 L227.0,55.0 L227.5,54.7 L228.0,54.3 L228.5,53.9 L229.0,53.5 L229.5,53.2 L230.0,53.0 L230.5,52.9 L231.0,53.0 L231.5,53.1 L232.0,53.2 L232.5,53.4 L233.0,53.6 L233.5,53.8 L234.0,54.2 L234.5,54.5 L235.0,54.9 L235.5,55.1 L236.0,55.2 L236.5,55.2 L237.0,55.2 L237.5,55.1 L238.0,55.1 L238.5,55.0 L239.0,54.9 L239.5,54.6 L240.0,54.4 L240.5,54.1 L241.0,53.9 L241.5,53.8 L242.0,53.7 L242.5,53.6 L243.0,53.5 L243.5,53.3 L244.0,53.6 L244.5,54.1 L245.0,54.3" stroke="#b5b5b5" stroke-width="0.95" fill="none" stroke-linejoin="round"/>
<path d="M24.5,66.9 L25.0,66.9 L25.5,66.8 L26.0,66.8 L26.5,66.7 L27.0,66.6 L27.5,66.6 L28.0,66.6 L28.5,66.7 L29.0,66.8 L29.5,66.8 L30.0,66.8 L30.5,66.7 L31.0,66.6 L31.5,66.6 L32.0,66.5 L32.5,66.5 L33.0,66.5 L33.5,66.4 L34.0,66.3 L34.5,66.3 L35.0,66.3 L35.5,66.4 L36.0,66.5 L36.5,66.7 L37.0,66.8 L37.5,67.0 L38.0,67.0 L38.5,67.0 L39.0,66.7 L39.5,65.9 L40.0,64.9 L40.5,63.8 L41.0,63.1 L41.5,62.9 L42.0,63.4 L42.5,64.5 L43.0,66.1 L43.5,68.0 L44.0,69.9 L44.5,71.6 L45.0,72.9 L45.5,73.6 L46.0,73.7 L46.5,73.5 L47.0,72.9 L47.5,72.0 L48.0,70.8 L48.5,69.4 L49.0,67.9 L49.5,66.4 L50.0,64.9 L50.5,63.6 L51.0,62.4 L51.5,61.4 L52.0,60.6 L52.5,60.1 L53.0,60.0 L53.5,60.6 L54.0,61.9 L54.5,63.7 L55.0,65.8 L55.5,67.7 L56.0,69.3 L56.5,70.4 L57.0,70.8 L57.5,70.8 L58.0,70.5 L58.5,70.0 L59.0,69.3 L59.5,68.4 L60.0,67.5 L60.5,66.7 L61.0,66.1 L61.5,65.8 L62.0,65.7 L62.5,66.0 L63.0,66.4 L63.5,66.9 L64.0,67.1 L64.5,67.1 L65.0,67.2 L65.5,67.1 L66.0,67.0 L66.5,66.7 L67.0,66.4 L67.5,66.1 L68.0,65.7 L68.5,65.5 L69.0,65.3 L69.5,65.1 L70.0,64.9 L70.5,64.7 L71.0,64.5 L71.5,64.3 L72.0,64.2 L72.5,64.2 L73.0,64.2 L73.5,64.2 L74.0,64.2 L74.5,64.4 L75.0,64.7 L75.5,65.1 L76.0,65.7 L76.5,66.4 L77.0,67.1 L77.5,67.8 L78.0,68.4 L78.5,68.9 L79.0,69.4 L79.5,69.8 L80.0,70.0 L80.5,70.2 L81.0,70.2 L81.5,70.0 L82.0,69.7 L82.5,69.2 L83.0,68.8 L83.5,68.3 L84.0,67.9 L84.5,67.3 L85.0,66.7 L85.5,66.0 L86.0,65.2 L86.5,64.5 L87.0,63.9 L87.5,63.3 L88.0,62.8 L88.5,62.4 L89.0,62.0 L89.5,61.7 L90.0,61.6 L90.5,61.7 L91.0,62.0 L91.5,62.5 L92.0,63.0 L92.5,63.6 L93.0,64.2 L93.5,64.8 L94.0,65.4 L94.5,66.1 L95.0,66.8 L95.5,67.5 L96.0,68.0 L96.5,68.5 L97.0,68.8 L97.5,69.1 L98.0,69.3 L98.5,69.4 L99.0,69.5 L99.5,69.4 L100.0,69.2 L100.5,68.8 L101.0,68.4 L101.5,67.9 L102.0,67.4 L102.5,67.0 L103.0,66.5 L103.5,66.1 L104.0,65.6 L104.5,65.1 L105.0,64.8 L105.5,64.6 L106.0,64.4 L106.5,64.3 L107.0,64.3 L107.5,64.2 L108.0,64.1 L108.5,64.1 L109.0,64.2 L109.5,64.4 L110.0,64.7 L110.5,65.0 L111.0,65.3 L111.5,65.6 L112.0,66.0 L112.5,66.4 L113.0,66.8 L113.5,67.3 L114.0,67.7 L114.5,68.0 L115.0,68.2 L115.5,68.3 L116.0,68.3 L116.5,68.4 L117.0,68.5 L117.5,68.5 L118.0,68.6 L118.5,68.5 L119.0,68.4 L119.5,68.4 L120.0,68.3 L120.5,68.2 L121.0,68.2 L121.5,68.0 L122.0,67.8 L122.5,67.5 L123.0,67.2 L123.5,66.9 L124.0,66.7 L124.5,66.6 L125.0,66.5 L125.5,66.3 L126.0,66.2 L126.5,66.1 L127.0,65.9 L127.5,65.9 L128.0,65.9 L128.5,65.8 L129.0,65.8 L129.5,65.7 L130.0,65.6 L130.5,65.6 L131.0,65.6" stroke="#b5b5b5" stroke-width="0.95" fill="none" stroke-linejoin="round"/>
<path d="M139.0,66.8 L139.5,66.8 L140.0,66.8 L140.5,66.7 L141.0,66.5 L141.5,66.3 L142.0,66.1 L142.5,65.9 L143.0,65.6 L143.5,65.3 L144.0,65.0 L144.5,64.6 L145.0,64.3 L145.5,64.1 L146.0,64.0 L146.5,63.9 L147.0,63.9 L147.5,63.9 L148.0,63.8 L148.5,63.8 L149.0,64.0 L149.5,64.3 L150.0,64.8 L150.5,65.2 L151.0,65.6 L151.5,65.8 L152.0,65.9 L152.5,65.9 L153.0,65.8 L153.5,65.8 L154.0,65.7 L154.5,65.6 L155.0,65.4 L155.5,65.3 L156.0,65.3 L156.5,65.6 L157.0,66.1 L157.5,66.9 L158.0,67.8 L158.5,68.7 L159.0,69.5 L159.5,70.2 L160.0,70.8 L160.5,71.2 L161.0,71.3 L161.5,70.3 L162.0,68.3 L162.5,65.7 L163.0,63.3 L163.5,61.5 L164.0,60.8 L164.5,61.7 L165.0,64.2 L165.5,67.5 L166.0,70.9 L166.5,73.3 L167.0,74.2 L167.5,74.1 L168.0,73.7 L168.5,73.1 L169.0,72.2 L169.5,71.1 L170.0,69.7 L170.5,68.1 L171.0,66.5 L171.5,65.0 L172.0,63.5 L172.5,62.2 L173.0,61.1 L173.5,60.2 L174.0,59.5 L174.5,59.1 L175.0,59.1 L175.5,59.5 L176.0,60.4 L176.5,61.6 L177.0,63.0 L177.5,64.4 L178.0,65.6 L178.5,66.6 L179.0,67.3 L179.5,67.6 L180.0,67.4 L180.5,66.8 L181.0,65.8 L181.5,64.6 L182.0,63.5 L182.5,62.6 L183.0,62.1 L183.5,62.0 L184.0,62.2 L184.5,62.7 L185.0,63.4 L185.5,64.3 L186.0,65.5 L186.5,66.8 L187.0,68.3 L187.5,69.7 L188.0,71.0 L188.5,72.1 L189.0,73.0 L189.5,73.6 L190.0,74.0 L190.5,74.0 L191.0,73.6 L191.5,72.7 L192.0,71.4 L192.5,69.7 L193.0,67.8 L193.5,65.8 L194.0,63.9 L194.5,62.1 L195.0,60.5 L195.5,59.1 L196.0,57.9 L196.5,57.2 L197.0,56.8 L197.5,57.0 L198.0,57.7 L198.5,58.8 L199.0,60.2 L199.5,61.9 L200.0,63.8 L200.5,65.9 L201.0,68.0 L201.5,70.0 L202.0,71.7 L202.5,73.1 L203.0,74.0 L203.5,74.4 L204.0,74.3 L204.5,74.0 L205.0,73.5 L205.5,72.8 L206.0,71.9 L206.5,70.7 L207.0,69.4 L207.5,68.1 L208.0,66.7 L208.5,65.4 L209.0,64.2 L209.5,63.2 L210.0,62.2 L210.5,61.3 L211.0,60.6 L211.5,60.0 L212.0,59.7 L212.5,59.7 L213.0,59.8 L213.5,59.9 L214.0,60.1 L214.5,60.4 L215.0,60.8 L215.5,61.3 L216.0,62.0 L216.5,62.7 L217.0,63.5 L217.5,64.2 L218.0,64.9 L218.5,65.5 L219.0,66.1 L219.5,66.7 L220.0,67.3 L220.5,67.8 L221.0,68.2 L221.5,68.5 L222.0,68.7 L222.5,68.8 L223.0,68.9 L223.5,69.0 L224.0,69.0 L224.5,68.9 L225.0,68.6 L225.5,68.2 L226.0,67.7 L226.5,67.2 L227.0,66.7 L227.5,66.3 L228.0,65.9 L228.5,65.5 L229.0,65.1 L229.5,64.8 L230.0,64.7 L230.5,64.6 L231.0,64.8 L231.5,65.0 L232.0,65.1 L232.5,65.3 L233.0,65.4 L233.5,65.5 L234.0,65.6 L234.5,65.8 L235.0,66.1 L235.5,66.3 L236.0,66.5 L236.5,66.6 L237.0,66.7 L237.5,66.7 L238.0,66.8 L238.5,66.8 L239.0,66.8 L239.5,66.6 L240.0,66.4 L240.5,66.0 L241.0,65.6 L241.5,65.3 L242.0,65.1 L242.5,65.0 L243.0,64.9 L243.5,64.9 L244.0,65.1 L244.5,65.7 L245.0,66.1" stroke="#b5b5b5" stroke-width="0.95" fill="none" stroke-linejoin="round"/>
<path d="M24.5,78.6 L25.0,78.5 L25.5,78.5 L26.0,78.4 L26.5,78.4 L27.0,78.4 L27.5,78.4 L28.0,78.4 L28.5,78.3 L29.0,78.2 L29.5,78.2 L30.0,78.3 L30.5,78.4 L31.0,78.5 L31.5,78.6 L32.0,78.6 L32.5,78.5 L33.0,78.4 L33.5,78.4 L34.0,78.4 L34.5,78.4 L35.0,78.4 L35.5,78.3 L36.0,78.3 L36.5,78.2 L37.0,78.3 L37.5,78.3 L38.0,78.5 L38.5,78.5 L39.0,78.4 L39.5,78.1 L40.0,77.7 L40.5,77.5 L41.0,77.3 L41.5,77.5 L42.0,77.9 L42.5,78.6 L43.0,79.4 L43.5,80.3 L44.0,81.2 L44.5,82.1 L45.0,82.8 L45.5,83.4 L46.0,83.6 L46.5,83.5 L47.0,83.0 L47.5,82.3 L48.0,81.4 L48.5,80.5 L49.0,79.4 L49.5,78.3 L50.0,77.2 L50.5,76.2 L51.0,75.2 L51.5,74.4 L52.0,73.9 L52.5,73.6 L53.0,73.6 L53.5,73.8 L54.0,74.3 L54.5,75.1 L55.0,76.1 L55.5,77.3 L56.0,78.5 L56.5,79.6 L57.0,80.6 L57.5,81.2 L58.0,81.4 L58.5,81.3 L59.0,81.0 L59.5,80.6 L60.0,80.1 L60.5,79.6 L61.0,79.0 L61.5,78.3 L62.0,77.8 L62.5,77.4 L63.0,77.2 L63.5,77.3 L64.0,77.4 L64.5,77.7 L65.0,77.9 L65.5,78.2 L66.0,78.4 L66.5,78.6 L67.0,78.8 L67.5,79.0 L68.0,79.1 L68.5,79.0 L69.0,78.8 L69.5,78.6 L70.0,78.4 L70.5,78.2 L71.0,78.1 L71.5,78.0 L72.0,77.9 L72.5,77.9 L73.0,77.8 L73.5,77.7 L74.0,77.7 L74.5,77.7 L75.0,77.9 L75.5,78.1 L76.0,78.4 L76.5,78.6 L77.0,78.8 L77.5,79.1 L78.0,79.5 L78.5,79.9 L79.0,80.2 L79.5,80.4 L80.0,80.5 L80.5,80.5 L81.0,80.4 L81.5,80.3 L82.0,80.1 L82.5,80.0 L83.0,79.7 L83.5,79.4 L84.0,79.0 L84.5,78.7 L85.0,78.3 L85.5,78.1 L86.0,77.9 L86.5,77.6 L87.0,77.4 L87.5,77.1 L88.0,76.8 L88.5,76.4 L89.0,76.2 L89.5,75.9 L90.0,75.8 L90.5,75.6 L91.0,75.4 L91.5,75.3 L92.0,75.2 L92.5,75.3 L93.0,75.5 L93.5,75.9 L94.0,76.3 L94.5,76.7 L95.0,77.1 L95.5,77.5 L96.0,77.9 L96.5,78.4 L97.0,78.8 L97.5,79.3 L98.0,79.6 L98.5,79.9 L99.0,80.1 L99.5,80.2 L100.0,80.3 L100.5,80.4 L101.0,80.4 L101.5,80.3 L102.0,80.2 L102.5,79.9 L103.0,79.5 L103.5,79.2 L104.0,78.8 L104.5,78.5 L105.0,78.3 L105.5,78.0 L106.0,77.7 L106.5,77.5 L107.0,77.4 L107.5,77.4 L108.0,77.5 L108.5,77.6 L109.0,77.7 L109.5,77.8 L110.0,77.8 L110.5,77.8 L111.0,77.9 L111.5,78.1 L112.0,78.3 L112.5,78.5 L113.0,78.7 L113.5,78.9 L114.0,79.0 L114.5,79.2 L115.0,79.3 L115.5,79.5 L116.0,79.6 L116.5,79.6 L117.0,79.5 L117.5,79.3 L118.0,79.1 L118.5,78.9 L119.0,78.8 L119.5,78.7 L120.0,78.6 L120.5,78.5 L121.0,78.3 L121.5,78.2 L122.0,78.1 L122.5,78.1 L123.0,78.1 L123.5,78.1 L124.0,78.1 L124.5,78.0 L125.0,77.9 L125.5,77.8 L126.0,77.8 L126.5,77.9 L127.0,78.0 L127.5,78.1 L128.0,78.2 L128.5,78.3 L129.0,78.3 L129.5,78.4 L130.0,78.5 L130.5,78.5 L131.0,78.6" stroke="#b5b5b5" stroke-width="0.95" fill="none" stroke-linejoin="round"/>
<path d="M139.0,78.5 L139.5,78.5 L140.0,78.4 L140.5,78.3 L141.0,78.1 L141.5,77.8 L142.0,77.6 L142.5,77.5 L143.0,77.4 L143.5,77.3 L144.0,77.2 L144.5,77.0 L145.0,76.8 L145.5,76.5 L146.0,76.4 L146.5,76.2 L147.0,76.1 L147.5,76.0 L148.0,75.8 L148.5,75.7 L149.0,75.6 L149.5,75.7 L150.0,76.0 L150.5,76.4 L151.0,76.9 L151.5,77.4 L152.0,77.7 L152.5,77.8 L153.0,77.8 L153.5,77.8 L154.0,77.7 L154.5,77.5 L155.0,77.3 L155.5,77.1 L156.0,76.9 L156.5,76.8 L157.0,77.0 L157.5,77.4 L158.0,78.1 L158.5,78.9 L159.0,79.7 L159.5,80.4 L160.0,81.1 L160.5,81.6 L161.0,81.9 L161.5,82.1 L162.0,81.8 L162.5,80.5 L163.0,78.5 L163.5,76.4 L164.0,74.6 L164.5,73.5 L165.0,73.6 L165.5,75.0 L166.0,77.5 L166.5,80.4 L167.0,82.9 L167.5,84.3 L168.0,84.5 L168.5,84.3 L169.0,83.8 L169.5,83.2 L170.0,82.3 L170.5,81.2 L171.0,80.0 L171.5,78.8 L172.0,77.7 L172.5,76.5 L173.0,75.5 L173.5,74.5 L174.0,73.6 L174.5,72.8 L175.0,72.2 L175.5,71.9 L176.0,72.0 L176.5,72.4 L177.0,73.3 L177.5,74.3 L178.0,75.5 L178.5,76.7 L179.0,77.8 L179.5,78.7 L180.0,79.2 L180.5,79.3 L181.0,79.0 L181.5,78.2 L182.0,77.2 L182.5,76.1 L183.0,75.1 L183.5,74.5 L184.0,74.2 L184.5,74.3 L185.0,74.6 L185.5,75.3 L186.0,76.2 L186.5,77.3 L187.0,78.6 L187.5,79.9 L188.0,81.2 L188.5,82.2 L189.0,83.1 L189.5,83.7 L190.0,84.0 L190.5,84.1 L191.0,83.9 L191.5,83.4 L192.0,82.5 L192.5,81.4 L193.0,80.0 L193.5,78.4 L194.0,76.8 L194.5,75.3 L195.0,73.9 L195.5,72.6 L196.0,71.4 L196.5,70.5 L197.0,70.0 L197.5,69.9 L198.0,70.3 L198.5,71.1 L199.0,72.3 L199.5,73.8 L200.0,75.4 L200.5,77.2 L201.0,78.9 L201.5,80.6 L202.0,82.1 L202.5,83.3 L203.0,84.1 L203.5,84.5 L204.0,84.5 L204.5,84.2 L205.0,83.8 L205.5,83.4 L206.0,82.8 L206.5,82.0 L207.0,81.1 L207.5,80.1 L208.0,79.0 L208.5,77.9 L209.0,76.8 L209.5,75.8 L210.0,74.9 L210.5,74.0 L211.0,73.3 L211.5,72.7 L212.0,72.3 L212.5,72.3 L213.0,72.4 L213.5,72.6 L214.0,72.9 L214.5,73.2 L215.0,73.6 L215.5,73.9 L216.0,74.3 L216.5,74.8 L217.0,75.3 L217.5,75.9 L218.0,76.4 L218.5,76.9 L219.0,77.4 L219.5,77.9 L220.0,78.4 L220.5,79.0 L221.0,79.5 L221.5,79.9 L222.0,80.2 L222.5,80.3 L223.0,80.3 L223.5,80.2 L224.0,80.2 L224.5,80.0 L225.0,79.8 L225.5,79.5 L226.0,79.1 L226.5,78.7 L227.0,78.4 L227.5,78.1 L228.0,77.8 L228.5,77.6 L229.0,77.4 L229.5,77.1 L230.0,76.9 L230.5,76.7 L231.0,76.6 L231.5,76.6 L232.0,76.7 L232.5,76.8 L233.0,77.0 L233.5,77.1 L234.0,77.3 L234.5,77.5 L235.0,77.8 L235.5,78.1 L236.0,78.3 L236.5,78.5 L237.0,78.5 L237.5,78.4 L238.0,78.3 L238.5,78.2 L239.0,78.1 L239.5,78.0 L240.0,77.9 L240.5,77.7 L241.0,77.5 L241.5,77.3 L242.0,77.2 L242.5,77.1 L243.0,77.1 L243.5,77.1 L244.0,77.1 L244.5,77.5 L245.0,77.7" stroke="#b5b5b5" stroke-width="0.95" fill="none" stroke-linejoin="round"/>
<path d="M24.5,89.8 L25.0,89.9 L25.5,90.0 L26.0,90.1 L26.5,90.1 L27.0,90.1 L27.5,90.1 L28.0,90.0 L28.5,90.0 L29.0,90.0 L29.5,90.0 L30.0,90.0 L30.5,89.9 L31.0,89.8 L31.5,89.8 L32.0,89.8 L32.5,89.9 L33.0,90.1 L33.5,90.2 L34.0,90.2 L34.5,90.1 L35.0,90.0 L35.5,90.0 L36.0,89.9 L36.5,89.9 L37.0,89.9 L37.5,89.9 L38.0,89.9 L38.5,89.8 L39.0,89.8 L39.5,89.9 L40.0,90.0 L40.5,90.2 L41.0,90.5 L41.5,90.8 L42.0,91.1 L42.5,91.5 L43.0,91.9 L43.5,92.4 L44.0,92.9 L44.5,93.3 L45.0,93.6 L45.5,93.8 L46.0,93.9 L46.5,93.8 L47.0,93.6 L47.5,93.2 L48.0,92.7 L48.5,91.9 L49.0,91.0 L49.5,90.0 L50.0,89.0 L50.5,88.1 L51.0,87.4 L51.5,86.8 L52.0,86.3 L52.5,86.0 L53.0,85.9 L53.5,86.2 L54.0,87.0 L54.5,88.2 L55.0,89.6 L55.5,91.0 L56.0,92.1 L56.5,92.8 L57.0,92.9 L57.5,92.7 L58.0,92.4 L58.5,92.0 L59.0,91.5 L59.5,90.9 L60.0,90.3 L60.5,89.8 L61.0,89.3 L61.5,89.1 L62.0,89.1 L62.5,89.2 L63.0,89.3 L63.5,89.3 L64.0,89.4 L64.5,89.4 L65.0,89.5 L65.5,89.7 L66.0,90.0 L66.5,90.2 L67.0,90.4 L67.5,90.5 L68.0,90.5 L68.5,90.5 L69.0,90.5 L69.5,90.5 L70.0,90.4 L70.5,90.3 L71.0,90.1 L71.5,89.9 L72.0,89.7 L72.5,89.5 L73.0,89.5 L73.5,89.5 L74.0,89.5 L74.5,89.6 L75.0,89.6 L75.5,89.6 L76.0,89.6 L76.5,89.7 L77.0,89.9 L77.5,90.0 L78.0,90.1 L78.5,90.2 L79.0,90.3 L79.5,90.3 L80.0,90.5 L80.5,90.7 L81.0,90.9 L81.5,91.0 L82.0,91.1 L82.5,91.1 L83.0,91.0 L83.5,90.9 L84.0,90.7 L84.5,90.6 L85.0,90.4 L85.5,90.2 L86.0,89.9 L86.5,89.5 L87.0,89.3 L87.5,89.1 L88.0,88.9 L88.5,88.8 L89.0,88.7 L89.5,88.6 L90.0,88.4 L90.5,88.2 L91.0,88.1 L91.5,88.0 L92.0,88.0 L92.5,88.0 L93.0,88.1 L93.5,88.2 L94.0,88.4 L94.5,88.6 L95.0,89.0 L95.5,89.5 L96.0,89.9 L96.5,90.3 L97.0,90.6 L97.5,90.8 L98.0,90.9 L98.5,90.9 L99.0,90.9 L99.5,90.9 L100.0,90.9 L100.5,90.8 L101.0,90.7 L101.5,90.5 L102.0,90.5 L102.5,90.4 L103.0,90.4 L103.5,90.4 L104.0,90.3 L104.5,90.1 L105.0,89.9 L105.5,89.7 L106.0,89.6 L106.5,89.5 L107.0,89.5 L107.5,89.4 L108.0,89.4 L108.5,89.4 L109.0,89.4 L109.5,89.5 L110.0,89.6 L110.5,89.8 L111.0,89.9 L111.5,90.0 L112.0,89.9 L112.5,89.9 L113.0,89.9 L113.5,89.9 L114.0,90.0 L114.5,90.1 L115.0,90.2 L115.5,90.3 L116.0,90.3 L116.5,90.4 L117.0,90.4 L117.5,90.6 L118.0,90.7 L118.5,90.7 L119.0,90.6 L119.5,90.5 L120.0,90.4 L120.5,90.3 L121.0,90.2 L121.5,90.3 L122.0,90.3 L122.5,90.3 L123.0,90.3 L123.5,90.3 L124.0,90.3 L124.5,90.3 L125.0,90.3 L125.5,90.3 L126.0,90.3 L126.5,90.2 L127.0,90.1 L127.5,89.9 L128.0,89.8 L128.5,89.8 L129.0,89.9 L129.5,90.0 L130.0,90.0 L130.5,90.0 L131.0,90.0" stroke="#b5b5b5" stroke-width="0.95" fill="none" stroke-linejoin="round"/>
<path d="M139.0,89.8 L139.5,89.8 L140.0,89.9 L140.5,89.9 L141.0,89.9 L141.5,89.8 L142.0,89.7 L142.5,89.6 L143.0,89.5 L143.5,89.4 L144.0,89.3 L144.5,89.1 L145.0,88.9 L145.5,88.6 L146.0,88.5 L146.5,88.4 L147.0,88.4 L147.5,88.4 L148.0,88.4 L148.5,88.4 L149.0,88.4 L149.5,88.3 L150.0,88.3 L150.5,88.4 L151.0,88.6 L151.5,88.8 L152.0,89.0 L152.5,89.2 L153.0,89.3 L153.5,89.3 L154.0,89.4 L154.5,89.5 L155.0,89.5 L155.5,89.5 L156.0,89.4 L156.5,89.2 L157.0,89.1 L157.5,89.1 L158.0,89.2 L158.5,89.6 L159.0,90.0 L159.5,90.4 L160.0,90.9 L160.5,91.4 L161.0,91.8 L161.5,92.2 L162.0,92.5 L162.5,92.6 L163.0,92.0 L163.5,90.9 L164.0,89.4 L164.5,87.9 L165.0,86.9 L165.5,86.6 L166.0,87.1 L166.5,88.5 L167.0,90.3 L167.5,92.2 L168.0,93.5 L168.5,94.1 L169.0,94.1 L169.5,94.0 L170.0,93.6 L170.5,93.1 L171.0,92.4 L171.5,91.5 L172.0,90.6 L172.5,89.7 L173.0,88.9 L173.5,88.1 L174.0,87.4 L174.5,86.7 L175.0,86.2 L175.5,85.8 L176.0,85.7 L176.5,85.7 L177.0,86.0 L177.5,86.5 L178.0,87.1 L178.5,87.8 L179.0,88.5 L179.5,89.2 L180.0,89.8 L180.5,90.2 L181.0,90.4 L181.5,90.3 L182.0,89.9 L182.5,89.4 L183.0,88.7 L183.5,88.1 L184.0,87.7 L184.5,87.4 L185.0,87.4 L185.5,87.5 L186.0,87.8 L186.5,88.3 L187.0,89.0 L187.5,89.9 L188.0,90.9 L188.5,91.9 L189.0,92.7 L189.5,93.4 L190.0,93.8 L190.5,94.0 L191.0,94.0 L191.5,93.7 L192.0,93.2 L192.5,92.4 L193.0,91.4 L193.5,90.3 L194.0,89.1 L194.5,88.0 L195.0,87.0 L195.5,86.1 L196.0,85.4 L196.5,84.9 L197.0,84.5 L197.5,84.4 L198.0,84.5 L198.5,85.0 L199.0,85.7 L199.5,86.6 L200.0,87.6 L200.5,88.6 L201.0,89.7 L201.5,90.8 L202.0,91.8 L202.5,92.8 L203.0,93.6 L203.5,94.1 L204.0,94.3 L204.5,94.2 L205.0,94.0 L205.5,93.6 L206.0,93.2 L206.5,92.7 L207.0,92.1 L207.5,91.3 L208.0,90.5 L208.5,89.7 L209.0,88.9 L209.5,88.2 L210.0,87.7 L210.5,87.2 L211.0,86.8 L211.5,86.5 L212.0,86.2 L212.5,86.0 L213.0,86.0 L213.5,86.1 L214.0,86.2 L214.5,86.3 L215.0,86.5 L215.5,86.6 L216.0,86.9 L216.5,87.2 L217.0,87.6 L217.5,88.1 L218.0,88.6 L218.5,89.1 L219.0,89.4 L219.5,89.7 L220.0,90.0 L220.5,90.3 L221.0,90.6 L221.5,90.8 L222.0,91.0 L222.5,91.0 L223.0,91.1 L223.5,91.1 L224.0,91.1 L224.5,91.1 L225.0,91.1 L225.5,91.0 L226.0,90.8 L226.5,90.5 L227.0,90.2 L227.5,89.9 L228.0,89.6 L228.5,89.4 L229.0,89.2 L229.5,89.0 L230.0,88.8 L230.5,88.7 L231.0,88.7 L231.5,88.7 L232.0,88.9 L232.5,89.1 L233.0,89.2 L233.5,89.3 L234.0,89.4 L234.5,89.4 L235.0,89.4 L235.5,89.5 L236.0,89.7 L236.5,89.8 L237.0,89.9 L237.5,89.9 L238.0,89.9 L238.5,89.9 L239.0,89.9 L239.5,89.9 L240.0,89.9 L240.5,89.8 L241.0,89.6 L241.5,89.4 L242.0,89.1 L242.5,88.9 L243.0,88.9 L243.5,88.8 L244.0,88.9 L244.5,89.2 L245.0,89.5" stroke="#b5b5b5" stroke-width="0.95" fill="none" stroke-linejoin="round"/>
<path d="M24.5,101.6 L25.0,101.5 L25.5,101.4 L26.0,101.4 L26.5,101.3 L27.0,101.4 L27.5,101.5 L28.0,101.7 L28.5,101.7 L29.0,101.7 L29.5,101.7 L30.0,101.6 L30.5,101.6 L31.0,101.6 L31.5,101.6 L32.0,101.5 L32.5,101.5 L33.0,101.4 L33.5,101.4 L34.0,101.4 L34.5,101.5 L35.0,101.6 L35.5,101.7 L36.0,101.8 L36.5,101.7 L37.0,101.6 L37.5,101.6 L38.0,101.5 L38.5,101.5 L39.0,101.5 L39.5,101.5 L40.0,101.5 L40.5,101.4 L41.0,101.4 L41.5,101.5 L42.0,101.8 L42.5,102.2 L43.0,102.6 L43.5,103.0 L44.0,103.4 L44.5,103.7 L45.0,104.0 L45.5,104.2 L46.0,104.4 L46.5,104.5 L47.0,104.4 L47.5,104.2 L48.0,103.8 L48.5,103.3 L49.0,102.8 L49.5,102.3 L50.0,101.7 L50.5,101.1 L51.0,100.4 L51.5,99.8 L52.0,99.2 L52.5,98.7 L53.0,98.5 L53.5,98.4 L54.0,98.8 L54.5,99.6 L55.0,100.8 L55.5,101.9 L56.0,102.7 L56.5,103.1 L57.0,103.1 L57.5,102.8 L58.0,102.3 L58.5,101.6 L59.0,101.0 L59.5,100.6 L60.0,100.4 L60.5,100.4 L61.0,100.5 L61.5,100.7 L62.0,100.9 L62.5,101.1 L63.0,101.3 L63.5,101.5 L64.0,101.8 L64.5,102.0 L65.0,102.1 L65.5,102.2 L66.0,102.1 L66.5,102.0 L67.0,101.9 L67.5,101.8 L68.0,101.8 L68.5,101.9 L69.0,102.0 L69.5,102.0 L70.0,101.9 L70.5,101.9 L71.0,101.9 L71.5,101.9 L72.0,101.9 L72.5,101.8 L73.0,101.7 L73.5,101.6 L74.0,101.5 L74.5,101.4 L75.0,101.4 L75.5,101.4 L76.0,101.5 L76.5,101.6 L77.0,101.7 L77.5,101.7 L78.0,101.8 L78.5,101.8 L79.0,101.9 L79.5,102.1 L80.0,102.1 L80.5,102.2 L81.0,102.1 L81.5,102.1 L82.0,102.2 L82.5,102.3 L83.0,102.5 L83.5,102.6 L84.0,102.7 L84.5,102.7 L85.0,102.5 L85.5,102.4 L86.0,102.2 L86.5,101.9 L87.0,101.7 L87.5,101.4 L88.0,101.0 L88.5,100.6 L89.0,100.3 L89.5,100.0 L90.0,99.9 L90.5,99.8 L91.0,99.8 L91.5,99.8 L92.0,99.7 L92.5,99.7 L93.0,99.7 L93.5,99.9 L94.0,100.1 L94.5,100.3 L95.0,100.6 L95.5,100.9 L96.0,101.1 L96.5,101.4 L97.0,101.7 L97.5,102.0 L98.0,102.3 L98.5,102.5 L99.0,102.6 L99.5,102.5 L100.0,102.4 L100.5,102.3 L101.0,102.2 L101.5,102.1 L102.0,102.1 L102.5,102.0 L103.0,101.9 L103.5,101.7 L104.0,101.7 L104.5,101.6 L105.0,101.7 L105.5,101.7 L106.0,101.6 L106.5,101.5 L107.0,101.4 L107.5,101.2 L108.0,101.1 L108.5,101.0 L109.0,101.0 L109.5,101.0 L110.0,101.0 L110.5,101.0 L111.0,100.9 L111.5,101.0 L112.0,101.1 L112.5,101.2 L113.0,101.3 L113.5,101.3 L114.0,101.2 L114.5,101.1 L115.0,101.0 L115.5,101.0 L116.0,101.0 L116.5,101.1 L117.0,101.1 L117.5,101.1 L118.0,101.2 L118.5,101.2 L119.0,101.2 L119.5,101.3 L120.0,101.4 L120.5,101.5 L121.0,101.5 L121.5,101.4 L122.0,101.3 L122.5,101.2 L123.0,101.2 L123.5,101.3 L124.0,101.3 L124.5,101.4 L125.0,101.5 L125.5,101.5 L126.0,101.5 L126.5,101.5 L127.0,101.6 L127.5,101.7 L128.0,101.7 L128.5,101.7 L129.0,101.5 L129.5,101.4 L130.0,101.4 L130.5,101.4 L131.0,101.4" stroke="#b5b5b5" stroke-width="0.95" fill="none" stroke-linejoin="round"/>
<path d="M139.0,101.6 L139.5,101.6 L140.0,101.6 L140.5,101.6 L141.0,101.5 L141.5,101.4 L142.0,101.2 L142.5,101.1 L143.0,101.0 L143.5,100.9 L144.0,100.9 L144.5,100.9 L145.0,100.9 L145.5,100.8 L146.0,100.7 L146.5,100.6 L147.0,100.5 L147.5,100.4 L148.0,100.3 L148.5,100.2 L149.0,100.1 L149.5,100.0 L150.0,99.9 L150.5,99.9 L151.0,99.9 L151.5,100.1 L152.0,100.2 L152.5,100.4 L153.0,100.5 L153.5,100.6 L154.0,100.7 L154.5,100.8 L155.0,101.0 L155.5,101.1 L156.0,101.2 L156.5,101.3 L157.0,101.3 L157.5,101.3 L158.0,101.4 L158.5,101.5 L159.0,101.5 L159.5,101.3 L160.0,101.1 L160.5,100.7 L161.0,100.2 L161.5,99.7 L162.0,99.3 L162.5,98.9 L163.0,98.6 L163.5,98.3 L164.0,98.0 L164.5,97.8 L165.0,97.8 L165.5,98.0 L166.0,98.5 L166.5,99.2 L167.0,100.0 L167.5,100.7 L168.0,101.5 L168.5,102.1 L169.0,102.6 L169.5,102.9 L170.0,103.1 L170.5,103.0 L171.0,102.8 L171.5,102.5 L172.0,102.1 L172.5,101.7 L173.0,101.3 L173.5,101.0 L174.0,100.6 L174.5,100.3 L175.0,99.9 L175.5,99.7 L176.0,99.5 L176.5,99.5 L177.0,99.7 L177.5,100.1 L178.0,100.5 L178.5,100.9 L179.0,101.2 L179.5,101.4 L180.0,101.5 L180.5,101.5 L181.0,101.4 L181.5,101.1 L182.0,100.7 L182.5,100.1 L183.0,99.6 L183.5,99.0 L184.0,98.7 L184.5,98.5 L185.0,98.5 L185.5,98.7 L186.0,99.2 L186.5,100.1 L187.0,101.1 L187.5,102.3 L188.0,103.5 L188.5,104.6 L189.0,105.4 L189.5,105.9 L190.0,106.0 L190.5,105.7 L191.0,105.1 L191.5,104.4 L192.0,103.5 L192.5,102.4 L193.0,101.3 L193.5,100.1 L194.0,98.9 L194.5,98.0 L195.0,97.2 L195.5,96.8 L196.0,96.7 L196.5,96.8 L197.0,97.1 L197.5,97.5 L198.0,98.1 L198.5,98.9 L199.0,99.9 L199.5,100.9 L200.0,101.8 L200.5,102.6 L201.0,103.2 L201.5,103.5 L202.0,103.6 L202.5,103.6 L203.0,103.4 L203.5,103.1 L204.0,102.6 L204.5,102.1 L205.0,101.4 L205.5,100.8 L206.0,100.3 L206.5,100.0 L207.0,99.8 L207.5,99.7 L208.0,99.7 L208.5,99.7 L209.0,99.9 L209.5,100.2 L210.0,100.6 L210.5,101.1 L211.0,101.6 L211.5,101.9 L212.0,102.2 L212.5,102.3 L213.0,102.3 L213.5,102.4 L214.0,102.4 L214.5,102.4 L215.0,102.4 L215.5,102.3 L216.0,102.1 L216.5,101.8 L217.0,101.6 L217.5,101.4 L218.0,101.2 L218.5,101.0 L219.0,100.8 L219.5,100.6 L220.0,100.5 L220.5,100.4 L221.0,100.4 L221.5,100.6 L222.0,100.8 L222.5,101.0 L223.0,101.1 L223.5,101.2 L224.0,101.4 L224.5,101.5 L225.0,101.7 L225.5,102.0 L226.0,102.1 L226.5,102.3 L227.0,102.3 L227.5,102.4 L228.0,102.4 L228.5,102.5 L229.0,102.6 L229.5,102.6 L230.0,102.5 L230.5,102.3 L231.0,102.0 L231.5,101.7 L232.0,101.5 L232.5,101.3 L233.0,101.1 L233.5,100.9 L234.0,100.8 L234.5,100.6 L235.0,100.5 L235.5,100.5 L236.0,100.6 L236.5,100.8 L237.0,101.1 L237.5,101.4 L238.0,101.7 L238.5,101.9 L239.0,102.2 L239.5,102.3 L240.0,102.4 L240.5,102.4 L241.0,102.2 L241.5,101.9 L242.0,101.4 L242.5,101.0 L243.0,100.6 L243.5,100.3 L244.0,100.0 L244.5,99.8 L245.0,99.7" stroke="#b5b5b5" stroke-width="0.95" fill="none" stroke-linejoin="round"/>
<path d="M24.5,113.2 L25.0,113.2 L25.5,113.2 L26.0,113.2 L26.5,113.2 L27.0,113.1 L27.5,113.0 L28.0,113.0 L28.5,112.9 L29.0,113.0 L29.5,113.1 L30.0,113.2 L30.5,113.3 L31.0,113.3 L31.5,113.3 L32.0,113.2 L32.5,113.1 L33.0,113.1 L33.5,113.1 L34.0,113.1 L34.5,113.1 L35.0,113.0 L35.5,113.0 L36.0,113.0 L36.5,113.0 L37.0,113.2 L37.5,113.3 L38.0,113.3 L38.5,113.3 L39.0,113.2 L39.5,113.1 L40.0,113.1 L40.5,113.1 L41.0,113.1 L41.5,113.1 L42.0,113.1 L42.5,113.0 L43.0,113.0 L43.5,113.0 L44.0,113.2 L44.5,113.5 L45.0,113.8 L45.5,114.0 L46.0,114.2 L46.5,114.4 L47.0,114.5 L47.5,114.6 L48.0,114.8 L48.5,115.0 L49.0,115.1 L49.5,115.0 L50.0,114.9 L50.5,114.6 L51.0,114.3 L51.5,113.9 L52.0,113.5 L52.5,113.0 L53.0,112.5 L53.5,111.9 L54.0,111.5 L54.5,111.1 L55.0,111.0 L55.5,111.1 L56.0,111.7 L56.5,112.5 L57.0,113.3 L57.5,113.9 L58.0,114.1 L58.5,114.1 L59.0,114.1 L59.5,114.1 L60.0,113.9 L60.5,113.7 L61.0,113.4 L61.5,113.0 L62.0,112.7 L62.5,112.5 L63.0,112.4 L63.5,112.3 L64.0,112.2 L64.5,112.2 L65.0,112.1 L65.5,112.2 L66.0,112.3 L66.5,112.6 L67.0,112.8 L67.5,113.0 L68.0,113.2 L68.5,113.3 L69.0,113.3 L69.5,113.4 L70.0,113.4 L70.5,113.5 L71.0,113.6 L71.5,113.7 L72.0,113.6 L72.5,113.6 L73.0,113.6 L73.5,113.6 L74.0,113.6 L74.5,113.5 L75.0,113.5 L75.5,113.3 L76.0,113.2 L76.5,113.1 L77.0,113.0 L77.5,113.1 L78.0,113.1 L78.5,113.2 L79.0,113.2 L79.5,113.2 L80.0,113.2 L80.5,113.2 L81.0,113.3 L81.5,113.4 L82.0,113.5 L82.5,113.5 L83.0,113.5 L83.5,113.4 L84.0,113.4 L84.5,113.4 L85.0,113.4 L85.5,113.4 L86.0,113.4 L86.5,113.2 L87.0,113.0 L87.5,112.8 L88.0,112.5 L88.5,112.4 L89.0,112.3 L89.5,112.2 L90.0,112.1 L90.5,112.0 L91.0,112.0 L91.5,112.1 L92.0,112.4 L92.5,112.7 L93.0,113.0 L93.5,113.3 L94.0,113.4 L94.5,113.5 L95.0,113.6 L95.5,113.6 L96.0,113.6 L96.5,113.6 L97.0,113.6 L97.5,113.6 L98.0,113.5 L98.5,113.4 L99.0,113.5 L99.5,113.6 L100.0,113.7 L100.5,113.8 L101.0,113.8 L101.5,113.8 L102.0,113.7 L102.5,113.6 L103.0,113.5 L103.5,113.5 L104.0,113.5 L104.5,113.5 L105.0,113.5 L105.5,113.4 L106.0,113.4 L106.5,113.4 L107.0,113.5 L107.5,113.6 L108.0,113.7 L108.5,113.7 L109.0,113.6 L109.5,113.5 L110.0,113.4 L110.5,113.3 L111.0,113.3 L111.5,113.3 L112.0,113.3 L112.5,113.3 L113.0,113.3 L113.5,113.3 L114.0,113.3 L114.5,113.4 L115.0,113.5 L115.5,113.5 L116.0,113.5 L116.5,113.4 L117.0,113.2 L117.5,113.1 L118.0,113.1 L118.5,113.1 L119.0,113.2 L119.5,113.2 L120.0,113.2 L120.5,113.2 L121.0,113.2 L121.5,113.3 L122.0,113.3 L122.5,113.4 L123.0,113.4 L123.5,113.3 L124.0,113.2 L124.5,113.0 L125.0,113.0 L125.5,113.0 L126.0,113.0 L126.5,113.1 L127.0,113.1 L127.5,113.2 L128.0,113.1 L128.5,113.2 L129.0,113.2 L129.5,113.3 L130.0,113.3 L130.5,113.3 L131.0,113.2" stroke="#b5b5b5" stroke-width="0.95" fill="none" stroke-linejoin="round"/>
<path d="M139.0,113.0 L139.5,112.9 L140.0,112.9 L140.5,112.9 L141.0,112.9 L141.5,112.9 L142.0,112.8 L142.5,112.7 L143.0,112.5 L143.5,112.4 L144.0,112.3 L144.5,112.1 L145.0,112.0 L145.5,111.8 L146.0,111.6 L146.5,111.5 L147.0,111.4 L147.5,111.4 L148.0,111.4 L148.5,111.6 L149.0,111.8 L149.5,112.0 L150.0,112.2 L150.5,112.4 L151.0,112.6 L151.5,112.8 L152.0,113.0 L152.5,113.1 L153.0,113.1 L153.5,113.0 L154.0,112.9 L154.5,112.9 L155.0,112.9 L155.5,113.0 L156.0,113.0 L156.5,113.1 L157.0,113.0 L157.5,112.9 L158.0,112.8 L158.5,112.7 L159.0,112.6 L159.5,112.6 L160.0,112.6 L160.5,112.5 L161.0,112.4 L161.5,112.3 L162.0,112.2 L162.5,112.1 L163.0,112.1 L163.5,112.0 L164.0,111.9 L164.5,111.7 L165.0,111.5 L165.5,111.3 L166.0,111.1 L166.5,111.1 L167.0,111.1 L167.5,111.4 L168.0,112.2 L168.5,113.4 L169.0,114.6 L169.5,115.5 L170.0,115.9 L170.5,115.8 L171.0,115.2 L171.5,114.2 L172.0,113.0 L172.5,111.9 L173.0,111.2 L173.5,111.0 L174.0,111.3 L174.5,112.0 L175.0,112.9 L175.5,113.8 L176.0,114.7 L176.5,115.2 L177.0,115.5 L177.5,115.6 L178.0,115.5 L178.5,115.3 L179.0,115.0 L179.5,114.5 L180.0,113.9 L180.5,113.4 L181.0,112.9 L181.5,112.4 L182.0,112.0 L182.5,111.6 L183.0,111.2 L183.5,110.9 L184.0,110.7 L184.5,110.6 L185.0,110.7 L185.5,110.8 L186.0,111.0 L186.5,111.2 L187.0,111.4 L187.5,111.7 L188.0,112.1 L188.5,112.6 L189.0,113.1 L189.5,113.6 L190.0,113.9 L190.5,114.1 L191.0,114.1 L191.5,114.1 L192.0,114.1 L192.5,113.9 L193.0,113.7 L193.5,113.5 L194.0,113.1 L194.5,112.8 L195.0,112.5 L195.5,112.4 L196.0,112.4 L196.5,112.5 L197.0,112.6 L197.5,112.8 L198.0,113.0 L198.5,113.2 L199.0,113.4 L199.5,113.7 L200.0,114.1 L200.5,114.4 L201.0,114.6 L201.5,114.8 L202.0,114.9 L202.5,115.1 L203.0,115.3 L203.5,115.6 L204.0,115.8 L204.5,116.0 L205.0,116.0 L205.5,116.0 L206.0,115.8 L206.5,115.6 L207.0,115.4 L207.5,115.0 L208.0,114.6 L208.5,114.2 L209.0,113.6 L209.5,113.1 L210.0,112.7 L210.5,112.3 L211.0,112.1 L211.5,112.0 L212.0,111.8 L212.5,111.7 L213.0,111.6 L213.5,111.6 L214.0,111.6 L214.5,111.7 L215.0,111.7 L215.5,111.8 L216.0,111.8 L216.5,111.8 L217.0,111.9 L217.5,112.0 L218.0,112.2 L218.5,112.4 L219.0,112.6 L219.5,112.7 L220.0,112.7 L220.5,112.7 L221.0,112.6 L221.5,112.6 L222.0,112.7 L222.5,112.7 L223.0,112.8 L223.5,112.8 L224.0,112.9 L224.5,113.0 L225.0,113.1 L225.5,113.3 L226.0,113.5 L226.5,113.7 L227.0,113.8 L227.5,113.8 L228.0,113.7 L228.5,113.6 L229.0,113.5 L229.5,113.5 L230.0,113.4 L230.5,113.3 L231.0,113.2 L231.5,113.1 L232.0,113.0 L232.5,113.0 L233.0,113.0 L233.5,113.0 L234.0,113.0 L234.5,112.9 L235.0,112.8 L235.5,112.6 L236.0,112.5 L236.5,112.5 L237.0,112.5 L237.5,112.6 L238.0,112.6 L238.5,112.5 L239.0,112.5 L239.5,112.6 L240.0,112.6 L240.5,112.7 L241.0,112.8 L241.5,112.8 L242.0,112.8 L242.5,112.6 L243.0,112.5 L243.5,112.5 L244.0,112.5 L244.5,112.5 L245.0,112.6" stroke="#b5b5b5" stroke-width="0.95" fill="none" stroke-linejoin="round"/>
<path d="M24.5,124.7 L25.0,124.8 L25.5,124.9 L26.0,124.9 L26.5,124.8 L27.0,124.8 L27.5,124.7 L28.0,124.7 L28.5,124.7 L29.0,124.7 L29.5,124.6 L30.0,124.6 L30.5,124.5 L31.0,124.5 L31.5,124.6 L32.0,124.7 L32.5,124.9 L33.0,124.9 L33.5,124.9 L34.0,124.8 L34.5,124.7 L35.0,124.7 L35.5,124.7 L36.0,124.7 L36.5,124.7 L37.0,124.6 L37.5,124.6 L38.0,124.5 L38.5,124.6 L39.0,124.7 L39.5,124.8 L40.0,124.9 L40.5,124.9 L41.0,124.8 L41.5,124.7 L42.0,124.7 L42.5,124.6 L43.0,124.6 L43.5,124.6 L44.0,124.6 L44.5,124.6 L45.0,124.7 L45.5,124.8 L46.0,125.1 L46.5,125.4 L47.0,125.7 L47.5,126.0 L48.0,126.1 L48.5,126.2 L49.0,126.1 L49.5,126.1 L50.0,126.0 L50.5,125.9 L51.0,125.8 L51.5,125.5 L52.0,125.2 L52.5,124.8 L53.0,124.5 L53.5,124.2 L54.0,124.0 L54.5,123.8 L55.0,123.6 L55.5,123.4 L56.0,123.2 L56.5,123.2 L57.0,123.5 L57.5,124.0 L58.0,124.6 L58.5,125.0 L59.0,125.2 L59.5,125.1 L60.0,125.1 L60.5,124.9 L61.0,124.8 L61.5,124.7 L62.0,124.5 L62.5,124.3 L63.0,124.1 L63.5,123.9 L64.0,123.7 L64.5,123.7 L65.0,123.8 L65.5,124.0 L66.0,124.2 L66.5,124.3 L67.0,124.5 L67.5,124.6 L68.0,124.8 L68.5,124.9 L69.0,125.1 L69.5,125.1 L70.0,125.1 L70.5,125.0 L71.0,124.9 L71.5,124.8 L72.0,124.8 L72.5,124.8 L73.0,124.9 L73.5,125.0 L74.0,125.0 L74.5,124.9 L75.0,124.9 L75.5,124.8 L76.0,124.8 L76.5,124.8 L77.0,124.7 L77.5,124.6 L78.0,124.5 L78.5,124.3 L79.0,124.2 L79.5,124.2 L80.0,124.3 L80.5,124.4 L81.0,124.4 L81.5,124.3 L82.0,124.3 L82.5,124.2 L83.0,124.2 L83.5,124.1 L84.0,124.1 L84.5,124.0 L85.0,123.9 L85.5,123.8 L86.0,123.7 L86.5,123.7 L87.0,123.8 L87.5,123.9 L88.0,124.0 L88.5,124.1 L89.0,124.1 L89.5,124.1 L90.0,124.1 L90.5,124.2 L91.0,124.3 L91.5,124.4 L92.0,124.5 L92.5,124.6 L93.0,124.6 L93.5,124.7 L94.0,124.9 L94.5,125.1 L95.0,125.2 L95.5,125.4 L96.0,125.4 L96.5,125.3 L97.0,125.3 L97.5,125.2 L98.0,125.2 L98.5,125.2 L99.0,125.2 L99.5,125.1 L100.0,125.1 L100.5,125.0 L101.0,125.0 L101.5,125.1 L102.0,125.2 L102.5,125.3 L103.0,125.4 L103.5,125.3 L104.0,125.2 L104.5,125.1 L105.0,125.1 L105.5,125.0 L106.0,125.0 L106.5,125.0 L107.0,125.0 L107.5,125.0 L108.0,124.9 L108.5,125.0 L109.0,125.0 L109.5,125.1 L110.0,125.2 L110.5,125.2 L111.0,125.2 L111.5,125.0 L112.0,124.9 L112.5,124.9 L113.0,124.8 L113.5,124.9 L114.0,124.9 L114.5,124.9 L115.0,124.8 L115.5,124.8 L116.0,124.9 L116.5,124.9 L117.0,125.0 L117.5,125.1 L118.0,125.0 L118.5,124.9 L119.0,124.8 L119.5,124.7 L120.0,124.6 L120.5,124.7 L121.0,124.7 L121.5,124.8 L122.0,124.8 L122.5,124.7 L123.0,124.7 L123.5,124.8 L124.0,124.9 L124.5,124.9 L125.0,124.9 L125.5,124.9 L126.0,124.7 L126.5,124.6 L127.0,124.5 L127.5,124.5 L128.0,124.6 L128.5,124.7 L129.0,124.7 L129.5,124.7 L130.0,124.7 L130.5,124.7 L131.0,124.8" stroke="#b5b5b5" stroke-width="0.95" fill="none" stroke-linejoin="round"/>
<path d="M139.0,124.8 L139.5,124.8 L140.0,124.8 L140.5,124.8 L141.0,124.8 L141.5,124.8 L142.0,124.7 L142.5,124.6 L143.0,124.5 L143.5,124.4 L144.0,124.4 L144.5,124.4 L145.0,124.5 L145.5,124.6 L146.0,124.6 L146.5,124.6 L147.0,124.6 L147.5,124.5 L148.0,124.5 L148.5,124.5 L149.0,124.5 L149.5,124.4 L150.0,124.3 L150.5,124.2 L151.0,124.2 L151.5,124.1 L152.0,124.2 L152.5,124.2 L153.0,124.3 L153.5,124.2 L154.0,124.1 L154.5,124.0 L155.0,123.9 L155.5,123.8 L156.0,123.7 L156.5,123.7 L157.0,123.7 L157.5,123.6 L158.0,123.6 L158.5,123.7 L159.0,123.9 L159.5,124.2 L160.0,124.5 L160.5,124.7 L161.0,124.8 L161.5,124.8 L162.0,124.8 L162.5,124.6 L163.0,124.5 L163.5,124.2 L164.0,124.0 L164.5,123.6 L165.0,123.3 L165.5,123.0 L166.0,122.8 L166.5,122.7 L167.0,122.8 L167.5,123.1 L168.0,123.9 L168.5,124.9 L169.0,125.8 L169.5,126.4 L170.0,126.6 L170.5,126.5 L171.0,126.1 L171.5,125.6 L172.0,124.9 L172.5,124.2 L173.0,123.6 L173.5,123.3 L174.0,123.2 L174.5,123.5 L175.0,124.0 L175.5,124.7 L176.0,125.2 L176.5,125.6 L177.0,125.6 L177.5,125.5 L178.0,125.5 L178.5,125.4 L179.0,125.4 L179.5,125.2 L180.0,125.0 L180.5,124.8 L181.0,124.7 L181.5,124.6 L182.0,124.5 L182.5,124.4 L183.0,124.2 L183.5,124.0 L184.0,123.7 L184.5,123.6 L185.0,123.5 L185.5,123.6 L186.0,123.8 L186.5,124.1 L187.0,124.4 L187.5,124.7 L188.0,125.0 L188.5,125.3 L189.0,125.6 L189.5,125.8 L190.0,125.9 L190.5,125.8 L191.0,125.6 L191.5,125.4 L192.0,125.3 L192.5,125.1 L193.0,125.1 L193.5,125.0 L194.0,124.8 L194.5,124.7 L195.0,124.5 L195.5,124.2 L196.0,124.1 L196.5,123.9 L197.0,123.7 L197.5,123.5 L198.0,123.3 L198.5,123.0 L199.0,122.8 L199.5,122.6 L200.0,122.6 L200.5,122.6 L201.0,122.7 L201.5,122.9 L202.0,123.4 L202.5,124.0 L203.0,124.8 L203.5,125.5 L204.0,126.2 L204.5,126.7 L205.0,126.8 L205.5,126.6 L206.0,126.4 L206.5,126.2 L207.0,126.0 L207.5,125.9 L208.0,125.7 L208.5,125.5 L209.0,125.3 L209.5,125.0 L210.0,124.8 L210.5,124.5 L211.0,124.4 L211.5,124.3 L212.0,124.3 L212.5,124.2 L213.0,124.1 L213.5,124.0 L214.0,124.0 L214.5,124.1 L215.0,124.2 L215.5,124.3 L216.0,124.4 L216.5,124.5 L217.0,124.4 L217.5,124.4 L218.0,124.4 L218.5,124.4 L219.0,124.4 L219.5,124.4 L220.0,124.3 L220.5,124.3 L221.0,124.2 L221.5,124.2 L222.0,124.3 L222.5,124.4 L223.0,124.6 L223.5,124.6 L224.0,124.7 L224.5,124.6 L225.0,124.6 L225.5,124.6 L226.0,124.7 L226.5,124.7 L227.0,124.8 L227.5,124.8 L228.0,124.8 L228.5,124.8 L229.0,124.9 L229.5,125.0 L230.0,125.1 L230.5,125.2 L231.0,125.2 L231.5,125.1 L232.0,125.0 L232.5,124.9 L233.0,124.8 L233.5,124.8 L234.0,124.8 L234.5,124.8 L235.0,124.7 L235.5,124.7 L236.0,124.7 L236.5,124.7 L237.0,124.7 L237.5,124.8 L238.0,124.8 L238.5,124.8 L239.0,124.7 L239.5,124.5 L240.0,124.4 L240.5,124.3 L241.0,124.3 L241.5,124.3 L242.0,124.3 L242.5,124.3 L243.0,124.3 L243.5,124.3 L244.0,124.3 L244.5,124.4 L245.0,124.5" stroke="#b5b5b5" stroke-width="0.95" fill="none" stroke-linejoin="round"/>
<path d="M24.5,136.2 L25.0,136.1 L25.5,136.1 L26.0,136.1 L26.5,136.2 L27.0,136.3 L27.5,136.4 L28.0,136.4 L28.5,136.4 L29.0,136.3 L29.5,136.3 L30.0,136.3 L30.5,136.3 L31.0,136.3 L31.5,136.2 L32.0,136.2 L32.5,136.1 L33.0,136.1 L33.5,136.2 L34.0,136.3 L34.5,136.4 L35.0,136.5 L35.5,136.5 L36.0,136.4 L36.5,136.3 L37.0,136.2 L37.5,136.2 L38.0,136.2 L38.5,136.2 L39.0,136.2 L39.5,136.2 L40.0,136.1 L40.5,136.2 L41.0,136.2 L41.5,136.4 L42.0,136.5 L42.5,136.5 L43.0,136.4 L43.5,136.3 L44.0,136.2 L44.5,136.2 L45.0,136.2 L45.5,136.2 L46.0,136.2 L46.5,136.2 L47.0,136.2 L47.5,136.3 L48.0,136.4 L48.5,136.6 L49.0,136.7 L49.5,136.7 L50.0,136.4 L50.5,136.0 L51.0,135.6 L51.5,135.4 L52.0,135.4 L52.5,135.6 L53.0,136.0 L53.5,136.4 L54.0,136.8 L54.5,137.0 L55.0,137.1 L55.5,137.1 L56.0,137.0 L56.5,136.7 L57.0,136.4 L57.5,136.0 L58.0,135.6 L58.5,135.3 L59.0,135.2 L59.5,135.4 L60.0,135.7 L60.5,136.1 L61.0,136.5 L61.5,136.7 L62.0,136.8 L62.5,136.8 L63.0,136.7 L63.5,136.7 L64.0,136.6 L64.5,136.5 L65.0,136.2 L65.5,135.9 L66.0,135.6 L66.5,135.5 L67.0,135.4 L67.5,135.4 L68.0,135.5 L68.5,135.5 L69.0,135.6 L69.5,135.8 L70.0,135.9 L70.5,136.1 L71.0,136.3 L71.5,136.4 L72.0,136.4 L72.5,136.3 L73.0,136.2 L73.5,136.1 L74.0,136.1 L74.5,136.1 L75.0,136.2 L75.5,136.3 L76.0,136.4 L76.5,136.4 L77.0,136.3 L77.5,136.3 L78.0,136.4 L78.5,136.4 L79.0,136.4 L79.5,136.3 L80.0,136.2 L80.5,136.1 L81.0,136.1 L81.5,136.1 L82.0,136.2 L82.5,136.3 L83.0,136.4 L83.5,136.4 L84.0,136.4 L84.5,136.3 L85.0,136.3 L85.5,136.3 L86.0,136.3 L86.5,136.3 L87.0,136.3 L87.5,136.2 L88.0,136.1 L88.5,136.1 L89.0,136.1 L89.5,136.3 L90.0,136.4 L90.5,136.4 L91.0,136.4 L91.5,136.4 L92.0,136.3 L92.5,136.3 L93.0,136.3 L93.5,136.3 L94.0,136.3 L94.5,136.2 L95.0,136.1 L95.5,136.1 L96.0,136.1 L96.5,136.2 L97.0,136.3 L97.5,136.4 L98.0,136.5 L98.5,136.4 L99.0,136.4 L99.5,136.3 L100.0,136.2 L100.5,136.2 L101.0,136.2 L101.5,136.2 L102.0,136.2 L102.5,136.1 L103.0,136.1 L103.5,136.2 L104.0,136.3 L104.5,136.4 L105.0,136.5 L105.5,136.5 L106.0,136.4 L106.5,136.3 L107.0,136.2 L107.5,136.2 L108.0,136.2 L108.5,136.2 L109.0,136.2 L109.5,136.2 L110.0,136.2 L110.5,136.2 L111.0,136.2 L111.5,136.4 L112.0,136.5 L112.5,136.5 L113.0,136.5 L113.5,136.3 L114.0,136.2 L114.5,136.2 L115.0,136.1 L115.5,136.2 L116.0,136.2 L116.5,136.2 L117.0,136.2 L117.5,136.2 L118.0,136.2 L118.5,136.3 L119.0,136.4 L119.5,136.5 L120.0,136.5 L120.5,136.4 L121.0,136.3 L121.5,136.2 L122.0,136.1 L122.5,136.1 L123.0,136.2 L123.5,136.2 L124.0,136.3 L124.5,136.3 L125.0,136.3 L125.5,136.3 L126.0,136.4 L126.5,136.4 L127.0,136.5 L127.5,136.4 L128.0,136.3 L128.5,136.2 L129.0,136.1 L129.5,136.1 L130.0,136.1 L130.5,136.2 L131.0,136.3" stroke="#b5b5b5" stroke-width="0.95" fill="none" stroke-linejoin="round"/>
<path d="M139.0,136.4 L139.5,136.3 L140.0,136.1 L140.5,136.0 L141.0,136.0 L141.5,136.1 L142.0,136.2 L142.5,136.3 L143.0,136.3 L143.5,136.3 L144.0,136.2 L144.5,136.1 L145.0,136.1 L145.5,136.1 L146.0,136.1 L146.5,136.0 L147.0,135.9 L147.5,135.7 L148.0,135.7 L148.5,135.7 L149.0,135.8 L149.5,135.9 L150.0,135.9 L150.5,136.0 L151.0,135.9 L151.5,135.8 L152.0,135.8 L152.5,135.8 L153.0,135.8 L153.5,135.8 L154.0,135.8 L154.5,135.8 L155.0,135.7 L155.5,135.8 L156.0,135.9 L156.5,136.1 L157.0,136.2 L157.5,136.4 L158.0,136.4 L158.5,136.3 L159.0,136.3 L159.5,136.3 L160.0,136.3 L160.5,136.2 L161.0,136.1 L161.5,136.0 L162.0,135.8 L162.5,135.6 L163.0,135.4 L163.5,135.3 L164.0,135.2 L164.5,135.2 L165.0,135.1 L165.5,135.0 L166.0,134.8 L166.5,134.9 L167.0,135.1 L167.5,135.5 L168.0,136.1 L168.5,136.6 L169.0,137.0 L169.5,137.3 L170.0,137.4 L170.5,137.4 L171.0,137.3 L171.5,137.2 L172.0,136.9 L172.5,136.6 L173.0,136.2 L173.5,135.7 L174.0,135.4 L174.5,135.2 L175.0,135.2 L175.5,135.2 L176.0,135.3 L176.5,135.4 L177.0,135.5 L177.5,135.7 L178.0,135.9 L178.5,136.2 L179.0,136.4 L179.5,136.5 L180.0,136.4 L180.5,136.3 L181.0,136.1 L181.5,136.0 L182.0,135.9 L182.5,135.9 L183.0,135.8 L183.5,135.7 L184.0,135.6 L184.5,135.6 L185.0,135.5 L185.5,135.5 L186.0,135.6 L186.5,135.7 L187.0,135.7 L187.5,135.6 L188.0,135.5 L188.5,135.5 L189.0,135.5 L189.5,135.6 L190.0,135.7 L190.5,135.9 L191.0,136.0 L191.5,136.0 L192.0,136.1 L192.5,136.2 L193.0,136.3 L193.5,136.4 L194.0,136.4 L194.5,136.4 L195.0,136.3 L195.5,136.1 L196.0,136.0 L196.5,135.9 L197.0,135.8 L197.5,135.7 L198.0,135.7 L198.5,135.6 L199.0,135.4 L199.5,135.4 L200.0,135.3 L200.5,135.5 L201.0,136.0 L201.5,136.6 L202.0,137.3 L202.5,138.0 L203.0,138.5 L203.5,138.9 L204.0,139.1 L204.5,139.1 L205.0,139.1 L205.5,138.9 L206.0,138.5 L206.5,138.1 L207.0,137.6 L207.5,137.1 L208.0,136.7 L208.5,136.4 L209.0,136.1 L209.5,135.8 L210.0,135.7 L210.5,135.6 L211.0,135.6 L211.5,135.7 L212.0,135.8 L212.5,135.9 L213.0,136.0 L213.5,136.1 L214.0,136.1 L214.5,136.0 L215.0,136.1 L215.5,136.1 L216.0,136.1 L216.5,136.1 L217.0,136.1 L217.5,136.1 L218.0,136.0 L218.5,136.1 L219.0,136.2 L219.5,136.3 L220.0,136.4 L220.5,136.5 L221.0,136.4 L221.5,136.3 L222.0,136.2 L222.5,136.2 L223.0,136.2 L223.5,136.1 L224.0,136.1 L224.5,136.0 L225.0,135.9 L225.5,135.8 L226.0,135.8 L226.5,135.9 L227.0,136.0 L227.5,136.1 L228.0,136.0 L228.5,135.9 L229.0,135.8 L229.5,135.7 L230.0,135.7 L230.5,135.7 L231.0,135.7 L231.5,135.7 L232.0,135.7 L232.5,135.7 L233.0,135.7 L233.5,135.8 L234.0,135.9 L234.5,136.1 L235.0,136.1 L235.5,136.1 L236.0,136.0 L236.5,135.9 L237.0,135.9 L237.5,135.9 L238.0,136.0 L238.5,136.0 L239.0,136.0 L239.5,136.1 L240.0,136.1 L240.5,136.1 L241.0,136.2 L241.5,136.3 L242.0,136.4 L242.5,136.4 L243.0,136.4 L243.5,136.3 L244.0,136.2 L244.5,136.1 L245.0,136.1" stroke="#b5b5b5" stroke-width="0.95" fill="none" stroke-linejoin="round"/>
<path d="M24.5,147.9 L25.0,147.9 L25.5,147.9 L26.0,147.9 L26.5,147.8 L27.0,147.7 L27.5,147.7 L28.0,147.7 L28.5,147.8 L29.0,147.9 L29.5,148.0 L30.0,148.0 L30.5,148.0 L31.0,147.9 L31.5,147.9 L32.0,147.8 L32.5,147.8 L33.0,147.8 L33.5,147.8 L34.0,147.8 L34.5,147.7 L35.0,147.7 L35.5,147.7 L36.0,147.8 L36.5,148.0 L37.0,148.0 L37.5,148.1 L38.0,148.0 L38.5,147.9 L39.0,147.8 L39.5,147.8 L40.0,147.8 L40.5,147.8 L41.0,147.8 L41.5,147.7 L42.0,147.7 L42.5,147.7 L43.0,147.8 L43.5,147.9 L44.0,148.0 L44.5,148.1 L45.0,148.0 L45.5,147.9 L46.0,147.8 L46.5,147.8 L47.0,147.7 L47.5,147.8 L48.0,147.8 L48.5,147.8 L49.0,147.9 L49.5,148.0 L50.0,148.2 L50.5,148.5 L51.0,148.8 L51.5,149.0 L52.0,149.1 L52.5,149.2 L53.0,149.1 L53.5,148.9 L54.0,148.7 L54.5,148.5 L55.0,148.2 L55.5,147.9 L56.0,147.6 L56.5,147.3 L57.0,147.0 L57.5,146.9 L58.0,146.9 L58.5,147.1 L59.0,147.3 L59.5,147.6 L60.0,147.9 L60.5,148.2 L61.0,148.4 L61.5,148.6 L62.0,148.7 L62.5,148.7 L63.0,148.6 L63.5,148.5 L64.0,148.2 L64.5,148.0 L65.0,147.8 L65.5,147.7 L66.0,147.7 L66.5,147.7 L67.0,147.6 L67.5,147.4 L68.0,147.3 L68.5,147.1 L69.0,147.1 L69.5,147.1 L70.0,147.2 L70.5,147.3 L71.0,147.4 L71.5,147.4 L72.0,147.5 L72.5,147.6 L73.0,147.8 L73.5,147.9 L74.0,147.9 L74.5,147.9 L75.0,147.8 L75.5,147.7 L76.0,147.6 L76.5,147.7 L77.0,147.8 L77.5,147.9 L78.0,147.9 L78.5,147.9 L79.0,147.9 L79.5,147.8 L80.0,147.8 L80.5,147.8 L81.0,147.8 L81.5,147.7 L82.0,147.6 L82.5,147.5 L83.0,147.4 L83.5,147.4 L84.0,147.5 L84.5,147.6 L85.0,147.7 L85.5,147.7 L86.0,147.7 L86.5,147.6 L87.0,147.5 L87.5,147.5 L88.0,147.5 L88.5,147.5 L89.0,147.4 L89.5,147.4 L90.0,147.3 L90.5,147.3 L91.0,147.3 L91.5,147.4 L92.0,147.6 L92.5,147.7 L93.0,147.8 L93.5,147.8 L94.0,147.8 L94.5,147.8 L95.0,147.8 L95.5,147.8 L96.0,147.9 L96.5,147.9 L97.0,147.9 L97.5,147.9 L98.0,147.9 L98.5,148.0 L99.0,148.2 L99.5,148.3 L100.0,148.4 L100.5,148.3 L101.0,148.3 L101.5,148.2 L102.0,148.1 L102.5,148.1 L103.0,148.1 L103.5,148.1 L104.0,148.1 L104.5,148.0 L105.0,148.0 L105.5,148.0 L106.0,148.1 L106.5,148.2 L107.0,148.3 L107.5,148.3 L108.0,148.3 L108.5,148.1 L109.0,148.0 L109.5,148.0 L110.0,148.0 L110.5,148.0 L111.0,148.0 L111.5,148.0 L112.0,148.0 L112.5,148.0 L113.0,148.0 L113.5,148.1 L114.0,148.2 L114.5,148.2 L115.0,148.2 L115.5,148.1 L116.0,148.0 L116.5,147.9 L117.0,147.8 L117.5,147.8 L118.0,147.9 L118.5,147.9 L119.0,147.9 L119.5,147.9 L120.0,147.9 L120.5,147.9 L121.0,148.0 L121.5,148.1 L122.0,148.1 L122.5,148.0 L123.0,147.9 L123.5,147.8 L124.0,147.7 L124.5,147.7 L125.0,147.8 L125.5,147.8 L126.0,147.9 L126.5,147.9 L127.0,147.9 L127.5,147.9 L128.0,147.9 L128.5,148.0 L129.0,148.0 L129.5,148.0 L130.0,147.9 L130.5,147.8 L131.0,147.7" stroke="#5068aa" stroke-width="1.1" fill="none" stroke-linejoin="round"/>
<path d="M139.0,147.9 L139.5,147.9 L140.0,147.9 L140.5,147.9 L141.0,147.9 L141.5,147.9 L142.0,147.9 L142.5,147.8 L143.0,147.8 L143.5,147.7 L144.0,147.5 L144.5,147.4 L145.0,147.3 L145.5,147.4 L146.0,147.5 L146.5,147.5 L147.0,147.6 L147.5,147.5 L148.0,147.5 L148.5,147.4 L149.0,147.4 L149.5,147.4 L150.0,147.4 L150.5,147.4 L151.0,147.3 L151.5,147.2 L152.0,147.2 L152.5,147.2 L153.0,147.3 L153.5,147.5 L154.0,147.6 L154.5,147.7 L155.0,147.6 L155.5,147.6 L156.0,147.6 L156.5,147.6 L157.0,147.6 L157.5,147.6 L158.0,147.6 L158.5,147.5 L159.0,147.5 L159.5,147.5 L160.0,147.5 L160.5,147.6 L161.0,147.7 L161.5,147.8 L162.0,147.8 L162.5,147.6 L163.0,147.5 L163.5,147.4 L164.0,147.3 L164.5,147.2 L165.0,147.2 L165.5,147.1 L166.0,147.0 L166.5,147.0 L167.0,146.9 L167.5,147.0 L168.0,147.1 L168.5,147.3 L169.0,147.5 L169.5,147.8 L170.0,148.0 L170.5,148.3 L171.0,148.7 L171.5,149.0 L172.0,149.3 L172.5,149.5 L173.0,149.6 L173.5,149.5 L174.0,149.2 L174.5,148.8 L175.0,148.5 L175.5,148.1 L176.0,147.8 L176.5,147.6 L177.0,147.4 L177.5,147.3 L178.0,147.2 L178.5,147.3 L179.0,147.4 L179.5,147.6 L180.0,147.8 L180.5,147.9 L181.0,148.0 L181.5,148.1 L182.0,148.1 L182.5,148.2 L183.0,148.2 L183.5,148.2 L184.0,148.0 L184.5,147.8 L185.0,147.5 L185.5,147.3 L186.0,147.1 L186.5,147.1 L187.0,147.1 L187.5,147.1 L188.0,147.1 L188.5,147.1 L189.0,147.1 L189.5,147.2 L190.0,147.3 L190.5,147.4 L191.0,147.4 L191.5,147.4 L192.0,147.3 L192.5,147.3 L193.0,147.2 L193.5,147.3 L194.0,147.3 L194.5,147.5 L195.0,147.7 L195.5,147.9 L196.0,148.2 L196.5,148.5 L197.0,148.8 L197.5,149.2 L198.0,149.4 L198.5,149.5 L199.0,149.5 L199.5,149.3 L200.0,149.1 L200.5,149.0 L201.0,148.8 L201.5,148.7 L202.0,148.6 L202.5,148.4 L203.0,148.2 L203.5,148.0 L204.0,147.8 L204.5,147.8 L205.0,147.7 L205.5,147.7 L206.0,147.7 L206.5,147.6 L207.0,147.4 L207.5,147.3 L208.0,147.3 L208.5,147.3 L209.0,147.4 L209.5,147.5 L210.0,147.5 L210.5,147.4 L211.0,147.4 L211.5,147.3 L212.0,147.3 L212.5,147.3 L213.0,147.3 L213.5,147.3 L214.0,147.2 L214.5,147.2 L215.0,147.2 L215.5,147.3 L216.0,147.5 L216.5,147.7 L217.0,147.8 L217.5,147.9 L218.0,147.9 L218.5,147.9 L219.0,147.8 L219.5,147.8 L220.0,147.9 L220.5,147.8 L221.0,147.8 L221.5,147.7 L222.0,147.6 L222.5,147.6 L223.0,147.6 L223.5,147.7 L224.0,147.8 L224.5,147.8 L225.0,147.7 L225.5,147.6 L226.0,147.5 L226.5,147.4 L227.0,147.3 L227.5,147.3 L228.0,147.2 L228.5,147.1 L229.0,147.0 L229.5,147.0 L230.0,147.0 L230.5,147.1 L231.0,147.2 L231.5,147.3 L232.0,147.3 L232.5,147.2 L233.0,147.1 L233.5,147.1 L234.0,147.1 L234.5,147.2 L235.0,147.4 L235.5,147.5 L236.0,147.6 L236.5,147.7 L237.0,147.9 L237.5,148.0 L238.0,148.2 L238.5,148.4 L239.0,148.5 L239.5,148.5 L240.0,148.4 L240.5,148.3 L241.0,148.1 L241.5,148.0 L242.0,147.9 L242.5,147.7 L243.0,147.6 L243.5,147.4 L244.0,147.3 L244.5,147.2 L245.0,147.3" stroke="#d05a93" stroke-width="1.1" fill="none" stroke-linejoin="round"/>
<path d="M24.5,159.6 L25.0,159.6 L25.5,159.6 L26.0,159.5 L26.5,159.5 L27.0,159.5 L27.5,159.5 L28.0,159.4 L28.5,159.4 L29.0,159.3 L29.5,159.2 L30.0,159.2 L30.5,159.3 L31.0,159.4 L31.5,159.6 L32.0,159.6 L32.5,159.6 L33.0,159.5 L33.5,159.5 L34.0,159.4 L34.5,159.4 L35.0,159.4 L35.5,159.4 L36.0,159.3 L36.5,159.3 L37.0,159.3 L37.5,159.3 L38.0,159.4 L38.5,159.5 L39.0,159.6 L39.5,159.6 L40.0,159.6 L40.5,159.5 L41.0,159.4 L41.5,159.4 L42.0,159.4 L42.5,159.4 L43.0,159.4 L43.5,159.3 L44.0,159.3 L44.5,159.3 L45.0,159.4 L45.5,159.5 L46.0,159.6 L46.5,159.6 L47.0,159.6 L47.5,159.5 L48.0,159.4 L48.5,159.3 L49.0,159.3 L49.5,159.3 L50.0,159.4 L50.5,159.4 L51.0,159.3 L51.5,159.3 L52.0,159.2 L52.5,159.3 L53.0,159.3 L53.5,159.3 L54.0,159.3 L54.5,159.2 L55.0,159.0 L55.5,158.8 L56.0,158.7 L56.5,158.7 L57.0,158.7 L57.5,158.8 L58.0,158.9 L58.5,159.0 L59.0,159.1 L59.5,159.3 L60.0,159.5 L60.5,159.7 L61.0,159.8 L61.5,159.9 L62.0,159.8 L62.5,159.7 L63.0,159.6 L63.5,159.5 L64.0,159.6 L64.5,159.6 L65.0,159.7 L65.5,159.7 L66.0,159.7 L66.5,159.7 L67.0,159.8 L67.5,159.8 L68.0,159.9 L68.5,159.9 L69.0,159.8 L69.5,159.7 L70.0,159.6 L70.5,159.5 L71.0,159.5 L71.5,159.6 L72.0,159.7 L72.5,159.7 L73.0,159.8 L73.5,159.8 L74.0,159.8 L74.5,159.8 L75.0,159.8 L75.5,159.8 L76.0,159.8 L76.5,159.7 L77.0,159.6 L77.5,159.5 L78.0,159.5 L78.5,159.5 L79.0,159.6 L79.5,159.7 L80.0,159.8 L80.5,159.8 L81.0,159.8 L81.5,159.7 L82.0,159.7 L82.5,159.7 L83.0,159.7 L83.5,159.7 L84.0,159.6 L84.5,159.5 L85.0,159.5 L85.5,159.4 L86.0,159.5 L86.5,159.6 L87.0,159.7 L87.5,159.8 L88.0,159.8 L88.5,159.7 L89.0,159.7 L89.5,159.6 L90.0,159.6 L90.5,159.6 L91.0,159.6 L91.5,159.5 L92.0,159.5 L92.5,159.4 L93.0,159.4 L93.5,159.5 L94.0,159.6 L94.5,159.7 L95.0,159.8 L95.5,159.7 L96.0,159.7 L96.5,159.6 L97.0,159.6 L97.5,159.5 L98.0,159.5 L98.5,159.5 L99.0,159.5 L99.5,159.4 L100.0,159.4 L100.5,159.4 L101.0,159.5 L101.5,159.7 L102.0,159.7 L102.5,159.7 L103.0,159.7 L103.5,159.6 L104.0,159.5 L104.5,159.4 L105.0,159.5 L105.5,159.5 L106.0,159.4 L106.5,159.4 L107.0,159.4 L107.5,159.4 L108.0,159.5 L108.5,159.6 L109.0,159.7 L109.5,159.7 L110.0,159.7 L110.5,159.6 L111.0,159.5 L111.5,159.4 L112.0,159.4 L112.5,159.4 L113.0,159.4 L113.5,159.4 L114.0,159.4 L114.5,159.4 L115.0,159.4 L115.5,159.5 L116.0,159.6 L116.5,159.7 L117.0,159.7 L117.5,159.6 L118.0,159.5 L118.5,159.3 L119.0,159.3 L119.5,159.3 L120.0,159.3 L120.5,159.4 L121.0,159.4 L121.5,159.4 L122.0,159.4 L122.5,159.4 L123.0,159.5 L123.5,159.6 L124.0,159.6 L124.5,159.6 L125.0,159.5 L125.5,159.4 L126.0,159.3 L126.5,159.2 L127.0,159.3 L127.5,159.4 L128.0,159.4 L128.5,159.4 L129.0,159.4 L129.5,159.4 L130.0,159.5 L130.5,159.5 L131.0,159.6" stroke="#b5b5b5" stroke-width="0.95" fill="none" stroke-linejoin="round"/>
<path d="M139.0,159.5 L139.5,159.5 L140.0,159.5 L140.5,159.4 L141.0,159.3 L141.5,159.3 L142.0,159.3 L142.5,159.4 L143.0,159.6 L143.5,159.7 L144.0,159.8 L144.5,159.8 L145.0,159.8 L145.5,159.8 L146.0,159.8 L146.5,159.9 L147.0,159.9 L147.5,159.9 L148.0,159.8 L148.5,159.7 L149.0,159.7 L149.5,159.8 L150.0,159.9 L150.5,160.0 L151.0,160.1 L151.5,160.0 L152.0,160.0 L152.5,159.8 L153.0,159.7 L153.5,159.7 L154.0,159.6 L154.5,159.5 L155.0,159.4 L155.5,159.2 L156.0,159.1 L156.5,159.0 L157.0,159.0 L157.5,159.1 L158.0,159.2 L158.5,159.2 L159.0,159.1 L159.5,159.0 L160.0,158.9 L160.5,158.9 L161.0,158.9 L161.5,159.0 L162.0,159.0 L162.5,159.1 L163.0,159.1 L163.5,159.2 L164.0,159.3 L164.5,159.5 L165.0,159.7 L165.5,159.9 L166.0,160.0 L166.5,160.0 L167.0,159.9 L167.5,159.9 L168.0,159.8 L168.5,159.8 L169.0,159.8 L169.5,159.8 L170.0,159.8 L170.5,159.7 L171.0,159.6 L171.5,159.6 L172.0,159.7 L172.5,159.7 L173.0,159.7 L173.5,159.6 L174.0,159.4 L174.5,159.2 L175.0,159.0 L175.5,158.9 L176.0,158.8 L176.5,158.8 L177.0,158.8 L177.5,158.7 L178.0,158.6 L178.5,158.6 L179.0,158.7 L179.5,158.7 L180.0,158.8 L180.5,158.8 L181.0,158.8 L181.5,158.7 L182.0,158.6 L182.5,158.5 L183.0,158.5 L183.5,158.6 L184.0,158.7 L184.5,158.8 L185.0,158.8 L185.5,158.8 L186.0,158.9 L186.5,159.0 L187.0,159.1 L187.5,159.2 L188.0,159.2 L188.5,159.2 L189.0,159.1 L189.5,159.0 L190.0,159.0 L190.5,159.1 L191.0,159.2 L191.5,159.3 L192.0,159.4 L192.5,159.4 L193.0,159.4 L193.5,159.4 L194.0,159.5 L194.5,159.6 L195.0,159.6 L195.5,159.5 L196.0,159.4 L196.5,159.3 L197.0,159.2 L197.5,159.1 L198.0,159.2 L198.5,159.3 L199.0,159.3 L199.5,159.3 L200.0,159.2 L200.5,159.2 L201.0,159.2 L201.5,159.2 L202.0,159.1 L202.5,159.1 L203.0,159.0 L203.5,158.9 L204.0,158.8 L204.5,158.7 L205.0,158.7 L205.5,158.8 L206.0,159.0 L206.5,159.1 L207.0,159.1 L207.5,159.2 L208.0,159.2 L208.5,159.3 L209.0,159.3 L209.5,159.4 L210.0,159.5 L210.5,159.5 L211.0,159.5 L211.5,159.5 L212.0,159.5 L212.5,159.6 L213.0,159.8 L213.5,160.0 L214.0,160.1 L214.5,160.1 L215.0,160.0 L215.5,160.0 L216.0,159.9 L216.5,159.9 L217.0,159.9 L217.5,159.9 L218.0,159.8 L218.5,159.7 L219.0,159.6 L219.5,159.6 L220.0,159.6 L220.5,159.7 L221.0,159.8 L221.5,159.8 L222.0,159.7 L222.5,159.5 L223.0,159.4 L223.5,159.4 L224.0,159.3 L224.5,159.3 L225.0,159.2 L225.5,159.1 L226.0,159.0 L226.5,159.0 L227.0,159.0 L227.5,159.1 L228.0,159.2 L228.5,159.3 L229.0,159.2 L229.5,159.1 L230.0,159.0 L230.5,159.0 L231.0,158.9 L231.5,159.0 L232.0,159.0 L232.5,159.0 L233.0,159.0 L233.5,159.0 L234.0,159.0 L234.5,159.1 L235.0,159.2 L235.5,159.3 L236.0,159.4 L236.5,159.4 L237.0,159.3 L237.5,159.2 L238.0,159.1 L238.5,159.1 L239.0,159.2 L239.5,159.2 L240.0,159.3 L240.5,159.3 L241.0,159.3 L241.5,159.3 L242.0,159.4 L242.5,159.5 L243.0,159.6 L243.5,159.6 L244.0,159.5 L244.5,159.4 L245.0,159.3" stroke="#b5b5b5" stroke-width="0.95" fill="none" stroke-linejoin="round"/>
</svg></body></html>
